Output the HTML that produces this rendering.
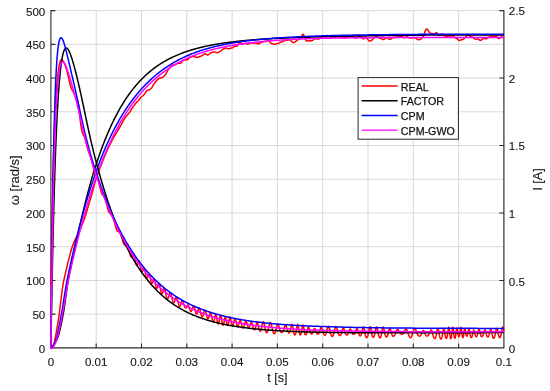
<!DOCTYPE html>
<html><head><meta charset="utf-8"><title>plot</title><style>html,body{margin:0;padding:0;background:#fff}svg{display:block}text{font-family:"Liberation Sans",sans-serif}</style></head><body>
<svg width="550" height="391" viewBox="0 0 550 391">
<rect width="550" height="391" fill="#fff"/>
<defs><clipPath id="c"><rect x="49.9" y="9.6" width="455.0" height="339.3"/></clipPath></defs>
<path d="M96.20 347.90 V10.60 M141.50 347.90 V10.60 M186.80 347.90 V10.60 M232.10 347.90 V10.60 M277.40 347.90 V10.60 M322.70 347.90 V10.60 M368.00 347.90 V10.60 M413.30 347.90 V10.60 M458.60 347.90 V10.60 M503.90 347.90 V10.60 M50.90 314.17 H503.90 M50.90 280.44 H503.90 M50.90 246.71 H503.90 M50.90 212.98 H503.90 M50.90 179.25 H503.90 M50.90 145.52 H503.90 M50.90 111.79 H503.90 M50.90 78.06 H503.90 M50.90 44.33 H503.90 M50.90 10.60 H503.90" stroke="#d8d8d8" stroke-width="1" fill="none"/>
<path d="M50.90 10.10 V348.40 M50.40 347.90 H504.40 M503.90 10.10 V348.40 M50.90 347.90 V343.40 M50.90 347.90 H55.40 M96.20 347.90 V343.40 M50.90 314.17 H55.40 M141.50 347.90 V343.40 M50.90 280.44 H55.40 M186.80 347.90 V343.40 M50.90 246.71 H55.40 M232.10 347.90 V343.40 M50.90 212.98 H55.40 M277.40 347.90 V343.40 M50.90 179.25 H55.40 M322.70 347.90 V343.40 M50.90 145.52 H55.40 M368.00 347.90 V343.40 M50.90 111.79 H55.40 M413.30 347.90 V343.40 M50.90 78.06 H55.40 M458.60 347.90 V343.40 M50.90 44.33 H55.40 M503.90 347.90 V343.40 M50.90 10.60 H55.40 M503.90 347.90 H499.40 M503.90 280.44 H499.40 M503.90 212.98 H499.40 M503.90 145.52 H499.40 M503.90 78.06 H499.40 M503.90 10.60 H499.40" stroke="#2c2c2c" stroke-width="1.1" fill="none"/>
<g fill="none" stroke-width="1.5" stroke-linejoin="round" clip-path="url(#c)">
<path d="M50.90 347.90 L51.22 348.25 L51.55 348.39 L51.87 348.34 L52.20 348.12 L52.52 347.74 L52.84 347.14 L53.17 346.36 L53.49 345.39 L53.81 344.26 L54.14 343.00 L54.46 341.65 L54.79 340.22 L55.11 338.72 L55.43 337.15 L55.76 335.50 L56.08 333.75 L56.40 331.94 L56.73 330.08 L57.05 328.18 L57.38 326.23 L57.70 324.24 L58.02 322.21 L58.35 320.12 L58.67 317.98 L59.00 315.78 L59.32 313.49 L59.64 311.04 L59.97 308.41 L60.29 305.65 L60.61 302.83 L60.94 300.06 L61.26 297.42 L61.59 294.95 L61.91 292.61 L62.23 290.18 L62.56 287.77 L62.88 285.54 L63.20 283.55 L63.53 281.79 L63.85 280.23 L64.18 278.75 L64.50 277.28 L64.82 275.84 L65.15 274.40 L65.47 272.99 L65.79 271.59 L66.12 270.20 L66.44 268.83 L66.77 267.47 L67.09 266.13 L67.41 264.80 L67.74 263.48 L68.06 262.18 L68.39 260.89 L68.71 259.61 L69.03 258.35 L69.36 257.09 L69.68 255.85 L70.00 254.62 L70.33 253.40 L70.65 252.20 L70.98 251.00 L71.30 249.82 L71.62 248.73 L71.95 247.74 L72.27 246.81 L72.59 245.92 L72.92 245.07 L73.24 244.25 L73.57 243.44 L73.89 242.65 L74.21 241.87 L74.54 241.09 L74.86 240.32 L75.19 239.55 L75.51 238.83 L75.83 238.15 L76.16 237.50 L76.48 236.87 L76.80 236.25 L77.13 235.63 L77.45 235.03 L77.78 234.42 L78.10 233.81 L78.42 233.19 L78.75 232.55 L79.07 231.90 L79.39 231.23 L79.72 230.51 L80.04 229.74 L80.37 228.95 L80.69 228.16 L81.01 227.37 L81.34 226.58 L81.66 225.79 L81.99 224.99 L82.31 224.19 L82.63 223.39 L82.96 222.57 L83.28 221.74 L83.60 220.91 L83.93 220.05 L84.25 219.18 L84.58 218.29 L84.90 217.37 L85.22 216.42 L85.55 215.44 L85.87 214.41 L86.19 213.32 L86.52 212.19 L86.84 211.05 L87.17 209.93 L87.49 208.80 L87.81 207.69 L88.14 206.58 L88.46 205.48 L88.78 204.39 L89.11 203.30 L89.43 202.22 L89.76 201.14 L90.08 200.07 L90.40 199.01 L90.73 197.95 L91.05 196.90 L91.38 195.86 L91.70 194.78 L92.02 193.64 L92.35 192.46 L92.67 191.24 L92.99 189.98 L93.32 188.71 L93.64 187.44 L93.97 186.19 L94.29 184.96 L94.61 183.78 L94.94 182.64 L95.26 181.56 L95.58 180.52 L95.91 179.54 L96.23 178.60 L96.56 177.67 L96.88 176.74 L97.20 175.82 L97.53 174.91 L97.85 174.00 L98.18 173.10 L98.50 172.20 L98.82 171.31 L99.15 170.43 L99.47 169.55 L99.79 168.67 L100.12 167.81 L100.44 166.95 L100.77 166.09 L101.09 165.24 L101.41 164.40 L101.74 163.56 L102.06 162.72 L102.38 161.90 L102.71 161.07 L103.03 160.25 L103.36 159.44 L103.68 158.64 L104.00 157.83 L104.33 157.04 L104.65 156.25 L104.98 155.46 L105.30 154.68 L105.62 153.90 L105.95 153.13 L106.27 152.37 L106.59 151.62 L106.92 150.89 L107.24 150.16 L107.57 149.44 L107.89 148.77 L108.21 148.10 L108.54 147.44 L108.86 146.78 L109.18 146.12 L109.51 145.47 L109.83 144.83 L110.16 144.19 L110.48 143.54 L110.80 142.91 L111.13 142.27 L111.45 141.64 L111.77 141.01 L112.10 140.39 L112.42 139.73 L112.75 139.10 L113.07 138.49 L113.39 137.90 L113.72 137.33 L114.04 136.78 L114.37 136.24 L114.69 135.71 L115.01 135.18 L115.34 134.64 L115.66 134.10 L115.98 133.56 L116.31 133.03 L116.63 132.49 L116.96 131.96 L117.28 131.43 L117.60 130.89 L117.93 130.35 L118.25 129.80 L118.57 129.25 L118.90 128.69 L119.22 128.13 L119.55 127.58 L119.87 127.03 L120.19 126.48 L120.52 125.94 L120.84 125.38 L121.17 124.82 L121.49 124.24 L121.81 123.63 L122.14 123.00 L122.46 122.36 L122.78 121.71 L123.11 121.07 L123.43 120.44 L123.76 119.83 L124.08 119.25 L124.40 118.71 L124.73 118.22 L125.05 117.76 L125.37 117.33 L125.70 116.93 L126.02 116.54 L126.35 116.16 L126.67 115.78 L126.99 115.40 L127.32 115.01 L127.64 114.61 L127.97 114.21 L128.29 113.81 L128.61 113.41 L128.94 113.00 L129.26 112.58 L129.58 112.15 L129.91 111.71 L130.23 111.24 L130.56 110.76 L130.88 110.26 L131.20 109.75 L131.53 109.23 L131.85 108.71 L132.17 108.21 L132.50 107.72 L132.82 107.24 L133.15 106.78 L133.47 106.33 L133.79 105.88 L134.12 105.44 L134.44 104.99 L134.76 104.54 L135.09 104.09 L135.41 103.65 L135.74 103.21 L136.06 102.81 L136.38 102.44 L136.71 102.12 L137.03 101.82 L137.36 101.55 L137.68 101.30 L138.00 101.01 L138.33 100.69 L138.65 100.32 L138.97 99.90 L139.30 99.45 L139.62 98.98 L139.95 98.51 L140.27 98.07 L140.59 97.68 L140.92 97.33 L141.24 97.02 L141.56 96.74 L141.89 96.49 L142.21 96.26 L142.54 96.03 L142.86 95.78 L143.18 95.52 L143.51 95.21 L143.83 94.87 L144.16 94.47 L144.48 94.02 L144.80 93.55 L145.13 93.06 L145.45 92.57 L145.77 92.09 L146.10 91.65 L146.42 91.27 L146.75 90.93 L147.07 90.66 L147.39 90.45 L147.72 90.29 L148.04 90.17 L148.36 90.07 L148.69 89.98 L149.01 89.87 L149.34 89.75 L149.66 89.59 L149.98 89.41 L150.31 89.17 L150.63 88.90 L150.96 88.57 L151.28 88.19 L151.60 87.77 L151.93 87.32 L152.25 86.83 L152.57 86.32 L152.90 85.78 L153.22 85.24 L153.55 84.70 L153.87 84.16 L154.19 83.63 L154.52 83.14 L154.84 82.68 L155.16 82.25 L155.49 81.87 L155.81 81.51 L156.14 81.16 L156.46 80.82 L156.78 80.48 L157.11 80.13 L157.43 79.79 L157.75 79.46 L158.08 79.14 L158.40 78.88 L158.73 78.64 L159.05 78.46 L159.37 78.31 L159.70 78.18 L160.02 78.09 L160.35 77.99 L160.67 77.91 L160.99 77.83 L161.32 77.76 L161.64 77.67 L161.96 77.58 L162.29 77.45 L162.61 77.28 L162.94 77.07 L163.26 76.81 L163.58 76.52 L163.91 76.22 L164.23 75.89 L164.55 75.56 L164.88 75.22 L165.20 74.86 L165.53 74.45 L165.85 74.00 L166.17 73.48 L166.50 72.90 L166.82 72.28 L167.15 71.64 L167.47 71.01 L167.79 70.42 L168.12 69.87 L168.44 69.37 L168.76 68.89 L169.09 68.44 L169.41 68.02 L169.74 67.62 L170.06 67.24 L170.38 66.89 L170.71 66.59 L171.03 66.31 L171.35 66.06 L171.68 65.84 L172.00 65.64 L172.33 65.46 L172.65 65.29 L172.97 65.13 L173.30 64.99 L173.62 64.89 L173.95 64.82 L174.27 64.77 L174.59 64.72 L174.92 64.67 L175.24 64.60 L175.56 64.49 L175.89 64.34 L176.21 64.16 L176.54 63.95 L176.86 63.74 L177.18 63.54 L177.51 63.37 L177.83 63.24 L178.15 63.18 L178.48 63.17 L178.80 63.21 L179.13 63.27 L179.45 63.33 L179.77 63.37 L180.10 63.35 L180.42 63.26 L180.74 63.08 L181.07 62.80 L181.39 62.45 L181.72 62.04 L182.04 61.62 L182.36 61.19 L182.69 60.82 L183.01 60.50 L183.34 60.26 L183.66 60.09 L183.98 59.98 L184.31 59.91 L184.63 59.88 L184.95 59.87 L185.28 59.87 L185.60 59.88 L185.93 59.91 L186.25 59.93 L186.57 59.95 L186.90 59.93 L187.22 59.85 L187.54 59.69 L187.87 59.47 L188.19 59.17 L188.52 58.81 L188.84 58.42 L189.16 58.04 L189.49 57.69 L189.81 57.40 L190.14 57.16 L190.46 56.99 L190.78 56.86 L191.11 56.77 L191.43 56.70 L191.75 56.65 L192.08 56.61 L192.40 56.58 L192.73 56.57 L193.05 56.56 L193.37 56.57 L193.70 56.59 L194.02 56.62 L194.34 56.68 L194.67 56.76 L194.99 56.87 L195.32 57.00 L195.64 57.14 L195.96 57.26 L196.29 57.35 L196.61 57.40 L196.94 57.40 L197.26 57.36 L197.58 57.27 L197.91 57.16 L198.23 57.05 L198.55 56.94 L198.88 56.84 L199.20 56.75 L199.53 56.66 L199.85 56.56 L200.17 56.46 L200.50 56.33 L200.82 56.19 L201.14 56.03 L201.47 55.86 L201.79 55.67 L202.12 55.48 L202.44 55.27 L202.76 55.05 L203.09 54.83 L203.41 54.59 L203.73 54.37 L204.06 54.17 L204.38 54.00 L204.71 53.90 L205.03 53.86 L205.35 53.89 L205.68 54.01 L206.00 54.18 L206.33 54.38 L206.65 54.59 L206.97 54.77 L207.30 54.90 L207.62 54.94 L207.94 54.89 L208.27 54.75 L208.59 54.54 L208.92 54.28 L209.24 54.00 L209.56 53.72 L209.89 53.46 L210.21 53.23 L210.53 53.04 L210.86 52.87 L211.18 52.72 L211.51 52.57 L211.83 52.42 L212.15 52.27 L212.48 52.14 L212.80 52.03 L213.13 51.95 L213.45 51.91 L213.77 51.91 L214.10 51.95 L214.42 52.00 L214.74 52.07 L215.07 52.16 L215.39 52.25 L215.72 52.35 L216.04 52.45 L216.36 52.55 L216.69 52.61 L217.01 52.63 L217.33 52.60 L217.66 52.51 L217.98 52.38 L218.31 52.23 L218.63 52.07 L218.95 51.93 L219.28 51.79 L219.60 51.67 L219.93 51.54 L220.25 51.39 L220.57 51.21 L220.90 50.99 L221.22 50.74 L221.54 50.47 L221.87 50.18 L222.19 49.90 L222.52 49.64 L222.84 49.41 L223.16 49.20 L223.49 49.01 L223.81 48.83 L224.13 48.65 L224.46 48.48 L224.78 48.33 L225.11 48.21 L225.43 48.12 L225.75 48.09 L226.08 48.11 L226.40 48.16 L226.72 48.25 L227.05 48.35 L227.37 48.46 L227.70 48.57 L228.02 48.67 L228.34 48.74 L228.67 48.78 L228.99 48.76 L229.32 48.70 L229.64 48.59 L229.96 48.44 L230.29 48.29 L230.61 48.16 L230.93 48.07 L231.26 48.02 L231.58 47.99 L231.91 47.96 L232.23 47.89 L232.55 47.77 L232.88 47.58 L233.20 47.34 L233.52 47.05 L233.85 46.76 L234.17 46.49 L234.50 46.29 L234.82 46.16 L235.14 46.12 L235.47 46.13 L235.79 46.19 L236.12 46.25 L236.44 46.27 L236.76 46.20 L237.09 46.02 L237.41 45.70 L237.73 45.26 L238.06 44.73 L238.38 44.15 L238.71 43.60 L239.03 43.13 L239.35 42.81 L239.68 42.67 L240.00 42.71 L240.32 42.91 L240.65 43.20 L240.97 43.54 L241.30 43.84 L241.62 44.06 L241.94 44.19 L242.27 44.21 L242.59 44.15 L242.92 44.04 L243.24 43.92 L243.56 43.78 L243.89 43.65 L244.21 43.55 L244.53 43.46 L244.86 43.39 L245.18 43.36 L245.51 43.36 L245.83 43.42 L246.15 43.53 L246.48 43.67 L246.80 43.83 L247.12 43.99 L247.45 44.11 L247.77 44.16 L248.10 44.14 L248.42 44.04 L248.74 43.87 L249.07 43.65 L249.39 43.42 L249.71 43.20 L250.04 43.02 L250.36 42.90 L250.69 42.85 L251.01 42.86 L251.33 42.91 L251.66 42.99 L251.98 43.07 L252.31 43.12 L252.63 43.15 L252.95 43.16 L253.28 43.15 L253.60 43.11 L253.92 43.07 L254.25 43.04 L254.57 43.01 L254.90 42.99 L255.22 43.01 L255.54 43.05 L255.87 43.12 L256.19 43.21 L256.51 43.31 L256.84 43.43 L257.16 43.54 L257.49 43.66 L257.81 43.75 L258.13 43.81 L258.46 43.83 L258.78 43.81 L259.11 43.72 L259.43 43.59 L259.75 43.41 L260.08 43.18 L260.40 42.94 L260.72 42.69 L261.05 42.47 L261.37 42.27 L261.70 42.10 L262.02 41.95 L262.34 41.83 L262.67 41.74 L262.99 41.68 L263.31 41.64 L263.64 41.63 L263.96 41.63 L264.29 41.63 L264.61 41.60 L264.93 41.54 L265.26 41.43 L265.58 41.27 L265.91 41.06 L266.23 40.82 L266.55 40.57 L266.88 40.32 L267.20 40.12 L267.52 39.99 L267.85 39.96 L268.17 40.04 L268.50 40.23 L268.82 40.52 L269.14 40.91 L269.47 41.36 L269.79 41.85 L270.11 42.33 L270.44 42.76 L270.76 43.13 L271.09 43.40 L271.41 43.58 L271.73 43.69 L272.06 43.76 L272.38 43.81 L272.70 43.88 L273.03 43.95 L273.35 44.06 L273.68 44.18 L274.00 44.29 L274.32 44.37 L274.65 44.40 L274.97 44.36 L275.30 44.26 L275.62 44.12 L275.94 43.97 L276.27 43.82 L276.59 43.70 L276.91 43.63 L277.24 43.59 L277.56 43.58 L277.89 43.56 L278.21 43.50 L278.53 43.39 L278.86 43.22 L279.18 43.00 L279.50 42.75 L279.83 42.50 L280.15 42.29 L280.48 42.13 L280.80 42.03 L281.12 41.97 L281.45 41.93 L281.77 41.89 L282.10 41.81 L282.42 41.68 L282.74 41.50 L283.07 41.28 L283.39 41.05 L283.71 40.84 L284.04 40.67 L284.36 40.57 L284.69 40.53 L285.01 40.52 L285.33 40.54 L285.66 40.56 L285.98 40.57 L286.30 40.55 L286.63 40.50 L286.95 40.43 L287.28 40.34 L287.60 40.25 L287.92 40.15 L288.25 40.05 L288.57 39.95 L288.89 39.87 L289.22 39.82 L289.54 39.83 L289.87 39.91 L290.19 40.06 L290.51 40.30 L290.84 40.59 L291.16 40.93 L291.49 41.29 L291.81 41.65 L292.13 41.97 L292.46 42.24 L292.78 42.43 L293.10 42.55 L293.43 42.61 L293.75 42.59 L294.08 42.52 L294.40 42.39 L294.72 42.21 L295.05 41.99 L295.37 41.74 L295.69 41.46 L296.02 41.19 L296.34 40.92 L296.67 40.67 L296.99 40.43 L297.31 40.20 L297.64 39.98 L297.96 39.76 L298.29 39.55 L298.61 39.36 L298.93 39.19 L299.26 39.04 L299.58 38.89 L299.90 38.72 L300.23 38.50 L300.55 38.19 L300.88 37.77 L301.20 37.20 L301.52 36.52 L301.85 35.80 L302.17 35.11 L302.49 34.57 L302.82 34.26 L303.14 34.26 L303.47 34.56 L303.79 35.16 L304.11 35.97 L304.44 36.91 L304.76 37.87 L305.09 38.77 L305.41 39.54 L305.73 40.15 L306.06 40.59 L306.38 40.86 L306.70 41.00 L307.03 41.04 L307.35 41.03 L307.68 40.99 L308.00 40.93 L308.32 40.89 L308.65 40.86 L308.97 40.83 L309.29 40.82 L309.62 40.81 L309.94 40.80 L310.27 40.80 L310.59 40.80 L310.91 40.81 L311.24 40.80 L311.56 40.76 L311.88 40.68 L312.21 40.56 L312.53 40.38 L312.86 40.14 L313.18 39.89 L313.50 39.62 L313.83 39.36 L314.15 39.12 L314.48 38.94 L314.80 38.80 L315.12 38.73 L315.45 38.69 L315.77 38.70 L316.09 38.74 L316.42 38.80 L316.74 38.88 L317.07 38.96 L317.39 39.04 L317.71 39.10 L318.04 39.12 L318.36 39.09 L318.68 38.99 L319.01 38.82 L319.33 38.60 L319.66 38.32 L319.98 38.06 L320.30 37.80 L320.63 37.59 L320.95 37.40 L321.28 37.24 L321.60 37.10 L321.92 36.95 L322.25 36.80 L322.57 36.65 L322.89 36.51 L323.22 36.39 L323.54 36.30 L323.87 36.24 L324.19 36.21 L324.51 36.18 L324.84 36.15 L325.16 36.12 L325.48 36.06 L325.81 35.97 L326.13 35.85 L326.46 35.71 L326.78 35.58 L327.10 35.47 L327.43 35.42 L327.75 35.44 L328.08 35.54 L328.40 35.74 L328.72 35.99 L329.05 36.30 L329.37 36.62 L329.69 36.92 L330.02 37.18 L330.34 37.38 L330.67 37.48 L330.99 37.49 L331.31 37.41 L331.64 37.25 L331.96 37.03 L332.28 36.81 L332.61 36.65 L332.93 36.56 L333.26 36.57 L333.58 36.67 L333.90 36.82 L334.23 36.97 L334.55 37.08 L334.87 37.11 L335.20 37.06 L335.52 36.95 L335.85 36.81 L336.17 36.69 L336.49 36.61 L336.82 36.58 L337.14 36.60 L337.47 36.67 L337.79 36.74 L338.11 36.82 L338.44 36.90 L338.76 36.97 L339.08 37.06 L339.41 37.13 L339.73 37.20 L340.06 37.25 L340.38 37.28 L340.70 37.30 L341.03 37.30 L341.35 37.30 L341.67 37.29 L342.00 37.28 L342.32 37.30 L342.65 37.33 L342.97 37.38 L343.29 37.42 L343.62 37.47 L343.94 37.53 L344.27 37.58 L344.59 37.64 L344.91 37.70 L345.24 37.76 L345.56 37.81 L345.88 37.85 L346.21 37.85 L346.53 37.82 L346.86 37.73 L347.18 37.61 L347.50 37.45 L347.83 37.27 L348.15 37.09 L348.47 36.93 L348.80 36.80 L349.12 36.73 L349.45 36.69 L349.77 36.68 L350.09 36.69 L350.42 36.71 L350.74 36.72 L351.07 36.72 L351.39 36.70 L351.71 36.67 L352.04 36.65 L352.36 36.65 L352.68 36.69 L353.01 36.79 L353.33 36.94 L353.66 37.14 L353.98 37.36 L354.30 37.57 L354.63 37.76 L354.95 37.90 L355.27 38.01 L355.60 38.07 L355.92 38.08 L356.25 38.04 L356.57 37.93 L356.89 37.75 L357.22 37.50 L357.54 37.18 L357.86 36.81 L358.19 36.41 L358.51 36.03 L358.84 35.71 L359.16 35.47 L359.48 35.35 L359.81 35.34 L360.13 35.47 L360.46 35.73 L360.78 36.09 L361.10 36.53 L361.43 37.02 L361.75 37.52 L362.07 37.99 L362.40 38.40 L362.72 38.70 L363.05 38.86 L363.37 38.88 L363.69 38.77 L364.02 38.56 L364.34 38.27 L364.66 37.97 L364.99 37.69 L365.31 37.49 L365.64 37.40 L365.96 37.42 L366.28 37.58 L366.61 37.85 L366.93 38.21 L367.26 38.64 L367.58 39.10 L367.90 39.57 L368.23 39.99 L368.55 40.36 L368.87 40.64 L369.20 40.85 L369.52 40.97 L369.85 41.02 L370.17 41.00 L370.49 40.92 L370.82 40.80 L371.14 40.63 L371.46 40.42 L371.79 40.16 L372.11 39.86 L372.44 39.53 L372.76 39.18 L373.08 38.83 L373.41 38.50 L373.73 38.18 L374.06 37.88 L374.38 37.62 L374.70 37.37 L375.03 37.15 L375.35 36.95 L375.67 36.80 L376.00 36.68 L376.32 36.63 L376.65 36.63 L376.97 36.70 L377.29 36.84 L377.62 37.02 L377.94 37.25 L378.26 37.48 L378.59 37.70 L378.91 37.89 L379.24 38.03 L379.56 38.13 L379.88 38.20 L380.21 38.26 L380.53 38.31 L380.85 38.39 L381.18 38.52 L381.50 38.68 L381.83 38.87 L382.15 39.08 L382.47 39.28 L382.80 39.43 L383.12 39.52 L383.45 39.54 L383.77 39.46 L384.09 39.29 L384.42 39.05 L384.74 38.78 L385.06 38.49 L385.39 38.21 L385.71 38.00 L386.04 37.85 L386.36 37.78 L386.68 37.80 L387.01 37.89 L387.33 38.04 L387.65 38.23 L387.98 38.44 L388.30 38.65 L388.63 38.85 L388.95 39.03 L389.27 39.17 L389.60 39.28 L389.92 39.32 L390.25 39.30 L390.57 39.20 L390.89 39.02 L391.22 38.80 L391.54 38.55 L391.86 38.29 L392.19 38.06 L392.51 37.86 L392.84 37.70 L393.16 37.60 L393.48 37.52 L393.81 37.47 L394.13 37.44 L394.45 37.43 L394.78 37.41 L395.10 37.38 L395.43 37.33 L395.75 37.26 L396.07 37.19 L396.40 37.11 L396.72 37.04 L397.05 36.99 L397.37 36.97 L397.69 36.98 L398.02 37.01 L398.34 37.03 L398.66 37.05 L398.99 37.01 L399.31 36.93 L399.64 36.81 L399.96 36.66 L400.28 36.50 L400.61 36.34 L400.93 36.23 L401.25 36.17 L401.58 36.17 L401.90 36.23 L402.23 36.36 L402.55 36.55 L402.87 36.79 L403.20 37.05 L403.52 37.30 L403.84 37.51 L404.17 37.65 L404.49 37.69 L404.82 37.63 L405.14 37.47 L405.46 37.28 L405.79 37.08 L406.11 36.91 L406.44 36.81 L406.76 36.79 L407.08 36.84 L407.41 36.94 L407.73 37.10 L408.05 37.27 L408.38 37.43 L408.70 37.60 L409.03 37.74 L409.35 37.86 L409.67 37.95 L410.00 38.01 L410.32 38.02 L410.64 38.01 L410.97 37.95 L411.29 37.89 L411.62 37.82 L411.94 37.77 L412.26 37.74 L412.59 37.73 L412.91 37.74 L413.24 37.76 L413.56 37.79 L413.88 37.81 L414.21 37.84 L414.53 37.88 L414.85 37.92 L415.18 38.01 L415.50 38.13 L415.83 38.28 L416.15 38.48 L416.47 38.69 L416.80 38.93 L417.12 39.14 L417.44 39.35 L417.77 39.51 L418.09 39.63 L418.42 39.70 L418.74 39.71 L419.06 39.69 L419.39 39.64 L419.71 39.55 L420.04 39.42 L420.36 39.27 L420.68 39.09 L421.01 38.88 L421.33 38.62 L421.65 38.33 L421.98 38.00 L422.30 37.62 L422.63 37.18 L422.95 36.69 L423.27 36.12 L423.60 35.45 L423.92 34.68 L424.24 33.83 L424.57 32.91 L424.89 31.99 L425.22 31.12 L425.54 30.34 L425.86 29.72 L426.19 29.29 L426.51 29.07 L426.83 29.05 L427.16 29.20 L427.48 29.50 L427.81 29.93 L428.13 30.42 L428.45 30.94 L428.78 31.47 L429.10 31.95 L429.43 32.37 L429.75 32.72 L430.07 33.00 L430.40 33.22 L430.72 33.38 L431.04 33.48 L431.37 33.55 L431.69 33.59 L432.02 33.63 L432.34 33.65 L432.66 33.68 L432.99 33.72 L433.31 33.77 L433.63 33.83 L433.96 33.86 L434.28 33.85 L434.61 33.77 L434.93 33.62 L435.25 33.42 L435.58 33.19 L435.90 32.97 L436.23 32.84 L436.55 32.83 L436.87 32.94 L437.20 33.19 L437.52 33.53 L437.84 33.93 L438.17 34.33 L438.49 34.67 L438.82 34.95 L439.14 35.11 L439.46 35.17 L439.79 35.12 L440.11 34.99 L440.43 34.79 L440.76 34.57 L441.08 34.35 L441.41 34.16 L441.73 34.05 L442.05 34.03 L442.38 34.10 L442.70 34.27 L443.03 34.52 L443.35 34.82 L443.67 35.17 L444.00 35.50 L444.32 35.80 L444.64 36.05 L444.97 36.24 L445.29 36.35 L445.62 36.43 L445.94 36.45 L446.26 36.45 L446.59 36.43 L446.91 36.38 L447.23 36.31 L447.56 36.22 L447.88 36.12 L448.21 36.02 L448.53 35.96 L448.85 35.93 L449.18 35.94 L449.50 35.99 L449.82 36.04 L450.15 36.08 L450.47 36.10 L450.80 36.08 L451.12 36.02 L451.44 35.93 L451.77 35.84 L452.09 35.76 L452.42 35.73 L452.74 35.76 L453.06 35.85 L453.39 36.02 L453.71 36.26 L454.03 36.56 L454.36 36.88 L454.68 37.22 L455.01 37.53 L455.33 37.80 L455.65 38.02 L455.98 38.22 L456.30 38.38 L456.62 38.54 L456.95 38.72 L457.27 38.95 L457.60 39.21 L457.92 39.51 L458.24 39.81 L458.57 40.08 L458.89 40.29 L459.22 40.42 L459.54 40.45 L459.86 40.38 L460.19 40.27 L460.51 40.11 L460.83 39.97 L461.16 39.86 L461.48 39.78 L461.81 39.72 L462.13 39.69 L462.45 39.63 L462.78 39.54 L463.10 39.39 L463.42 39.19 L463.75 38.95 L464.07 38.66 L464.40 38.34 L464.72 38.00 L465.04 37.64 L465.37 37.26 L465.69 36.87 L466.02 36.47 L466.34 36.10 L466.66 35.75 L466.99 35.46 L467.31 35.23 L467.63 35.11 L467.96 35.06 L468.28 35.11 L468.61 35.24 L468.93 35.42 L469.25 35.63 L469.58 35.85 L469.90 36.06 L470.22 36.26 L470.55 36.42 L470.87 36.56 L471.20 36.67 L471.52 36.76 L471.84 36.84 L472.17 36.94 L472.49 37.07 L472.81 37.24 L473.14 37.46 L473.46 37.73 L473.79 38.04 L474.11 38.36 L474.43 38.65 L474.76 38.91 L475.08 39.08 L475.41 39.17 L475.73 39.18 L476.05 39.13 L476.38 39.06 L476.70 38.98 L477.02 38.93 L477.35 38.92 L477.67 38.96 L478.00 39.06 L478.32 39.21 L478.64 39.40 L478.97 39.63 L479.29 39.86 L479.61 40.08 L479.94 40.26 L480.26 40.36 L480.59 40.38 L480.91 40.30 L481.23 40.13 L481.56 39.91 L481.88 39.64 L482.21 39.35 L482.53 39.07 L482.85 38.82 L483.18 38.62 L483.50 38.50 L483.82 38.45 L484.15 38.47 L484.47 38.54 L484.80 38.65 L485.12 38.76 L485.44 38.83 L485.77 38.86 L486.09 38.83 L486.41 38.76 L486.74 38.62 L487.06 38.44 L487.39 38.22 L487.71 37.98 L488.03 37.73 L488.36 37.50 L488.68 37.29 L489.01 37.13 L489.33 37.01 L489.65 36.93 L489.98 36.87 L490.30 36.81 L490.62 36.75 L490.95 36.68 L491.27 36.63 L491.60 36.58 L491.92 36.56 L492.24 36.56 L492.57 36.58 L492.89 36.61 L493.21 36.62 L493.54 36.62 L493.86 36.60 L494.19 36.55 L494.51 36.49 L494.83 36.41 L495.16 36.36 L495.48 36.33 L495.80 36.35 L496.13 36.46 L496.45 36.64 L496.78 36.90 L497.10 37.22 L497.42 37.57 L497.75 37.92 L498.07 38.21 L498.40 38.42 L498.72 38.54 L499.04 38.53 L499.37 38.41 L499.69 38.23 L500.01 37.97 L500.34 37.68 L500.66 37.41 L500.99 37.19 L501.31 37.04 L501.63 36.97 L501.96 37.00 L502.28 37.10 L502.60 37.26 L502.93 37.45 L503.25 37.67 L503.58 37.88 L503.90 38.09" stroke="#ff0000"/>
<path d="M50.90 347.91 L51.01 347.79 L51.13 347.68 L51.24 347.56 L51.35 347.44 L51.47 347.33 L51.58 347.21 L51.69 347.09 L51.81 346.98 L51.92 346.86 L52.03 346.74 L52.15 346.62 L52.26 346.50 L52.37 346.37 L52.49 346.25 L52.60 346.13 L52.71 346.00 L52.83 345.88 L52.94 345.75 L53.05 345.62 L53.16 345.49 L53.28 345.36 L53.39 345.23 L53.50 345.09 L53.62 344.95 L53.73 344.82 L53.84 344.68 L53.96 344.53 L54.07 344.39 L54.18 344.24 L54.30 344.09 L54.41 343.93 L54.52 343.77 L54.64 343.61 L54.75 343.44 L54.86 343.27 L54.98 343.09 L55.09 342.91 L55.20 342.71 L55.32 342.51 L55.43 342.30 L55.54 342.09 L55.66 341.88 L55.77 341.67 L55.88 341.45 L56.00 341.24 L56.11 341.02 L56.22 340.80 L56.34 340.58 L56.45 340.35 L56.56 340.13 L56.68 339.90 L56.79 339.67 L56.90 339.43 L57.02 339.19 L57.13 338.95 L57.24 338.70 L57.36 338.45 L57.47 338.19 L57.58 337.93 L57.70 337.66 L57.81 337.39 L57.92 337.11 L58.03 336.82 L58.15 336.52 L58.26 336.20 L58.37 335.88 L58.49 335.54 L58.60 335.18 L58.71 334.80 L58.83 334.39 L58.94 333.96 L59.05 333.52 L59.17 333.08 L59.28 332.64 L59.39 332.19 L59.51 331.73 L59.62 331.27 L59.73 330.81 L59.85 330.33 L59.96 329.86 L60.07 329.37 L60.19 328.89 L60.30 328.39 L60.41 327.90 L60.53 327.39 L60.64 326.88 L60.75 326.37 L60.87 325.85 L60.98 325.32 L61.09 324.80 L61.21 324.26 L61.32 323.72 L61.43 323.18 L61.55 322.63 L61.66 322.07 L61.77 321.51 L61.89 320.95 L62.00 320.38 L62.11 319.81 L62.22 319.24 L62.34 318.66 L62.45 318.08 L62.56 317.49 L62.68 316.90 L62.79 316.31 L62.90 315.71 L63.02 315.12 L63.13 314.52 L63.24 313.92 L63.36 313.30 L63.47 312.67 L63.58 312.03 L63.70 311.37 L63.81 310.69 L63.92 310.00 L64.04 309.29 L64.15 308.56 L64.26 307.82 L64.38 307.06 L64.49 306.29 L64.60 305.51 L64.72 304.71 L64.83 303.90 L64.94 303.09 L65.06 302.26 L65.17 301.43 L65.28 300.59 L65.40 299.76 L65.51 298.92 L65.62 298.09 L65.74 297.27 L65.85 296.45 L65.96 295.64 L66.08 294.84 L66.19 294.05 L66.30 293.26 L66.42 292.45 L66.53 291.61 L66.64 290.75 L66.75 289.88 L66.87 289.01 L66.98 288.14 L67.09 287.28 L67.21 286.45 L67.32 285.63 L67.43 284.85 L67.55 284.09 L67.66 283.36 L67.77 282.67 L67.89 282.00 L68.00 281.37 L68.11 280.76 L68.23 280.18 L68.34 279.60 L68.45 279.02 L68.57 278.44 L68.68 277.87 L68.79 277.29 L68.91 276.72 L69.02 276.15 L69.13 275.59 L69.25 275.02 L69.36 274.45 L69.47 273.89 L69.59 273.33 L69.70 272.77 L69.81 272.21 L69.93 271.65 L70.04 271.09 L70.15 270.54 L70.27 269.98 L70.38 269.43 L70.49 268.88 L70.61 268.33 L70.72 267.78 L70.83 267.23 L70.95 266.68 L71.06 266.14 L71.17 265.59 L71.28 265.04 L71.40 264.50 L71.51 263.96 L71.62 263.41 L71.74 262.87 L71.85 262.33 L71.96 261.79 L72.08 261.25 L72.19 260.71 L72.30 260.18 L72.42 259.64 L72.53 259.10 L72.64 258.57 L72.76 258.03 L72.87 257.50 L72.98 256.96 L73.10 256.43 L73.21 255.89 L73.32 255.36 L73.44 254.83 L73.55 254.30 L73.66 253.76 L73.78 253.23 L73.89 252.70 L74.00 252.17 L74.12 251.64 L74.23 251.11 L74.34 250.58 L74.46 250.05 L74.57 249.52 L74.68 248.99 L74.80 248.46 L74.91 247.93 L75.02 247.40 L75.14 246.87 L75.25 246.34 L75.36 245.81 L75.48 245.29 L75.59 244.76 L75.70 244.24 L75.81 243.71 L75.93 243.19 L76.04 242.66 L76.15 242.14 L76.27 241.62 L76.38 241.10 L76.49 240.58 L76.61 240.06 L76.72 239.54 L76.83 239.02 L76.95 238.51 L77.06 237.99 L77.17 237.48 L77.29 236.96 L77.40 236.45 L77.51 235.94 L77.63 235.43 L77.74 234.91 L77.85 234.40 L77.97 233.90 L78.08 233.39 L78.19 232.88 L78.31 232.37 L78.42 231.87 L78.53 231.36 L78.65 230.86 L78.76 230.35 L78.87 229.85 L78.99 229.35 L79.10 228.85 L79.21 228.35 L79.33 227.85 L79.44 227.35 L79.55 226.86 L79.67 226.36 L79.78 225.86 L79.89 225.37 L80.01 224.87 L80.12 224.38 L80.23 223.89 L80.34 223.40 L80.46 222.91 L80.57 222.42 L80.68 221.93 L80.80 221.44 L80.91 220.95 L81.02 220.47 L81.14 219.98 L81.25 219.50 L81.36 219.01 L81.48 218.53 L81.59 218.05 L81.70 217.57 L81.82 217.08 L81.93 216.60 L82.04 216.13 L82.16 215.65 L82.27 215.17 L82.38 214.69 L82.50 214.22 L82.61 213.74 L82.72 213.27 L82.84 212.80 L82.95 212.33 L83.06 211.85 L83.18 211.38 L83.29 210.91 L83.40 210.45 L83.52 209.98 L83.63 209.51 L83.74 209.05 L83.86 208.58 L83.97 208.12 L84.08 207.65 L84.20 207.19 L84.31 206.73 L84.42 206.27 L84.54 205.81 L84.65 205.35 L84.76 204.89 L84.88 204.44 L84.99 203.98 L85.10 203.53 L85.21 203.07 L85.33 202.62 L85.44 202.17 L85.55 201.72 L85.67 201.27 L85.78 200.82 L85.89 200.37 L86.01 199.92 L86.12 199.48 L86.23 199.03 L86.35 198.59 L86.46 198.14 L86.57 197.70 L86.69 197.26 L86.80 196.82 L86.91 196.38 L87.03 195.94 L87.14 195.50 L87.25 195.06 L87.37 194.63 L87.48 194.19 L87.59 193.76 L87.71 193.33 L87.82 192.89 L87.93 192.46 L88.05 192.03 L88.16 191.60 L88.27 191.18 L88.39 190.75 L88.50 190.32 L88.61 189.90 L88.73 189.47 L88.84 189.05 L88.95 188.63 L89.07 188.21 L89.18 187.79 L89.29 187.37 L89.41 186.95 L89.52 186.53 L89.63 186.12 L89.74 185.70 L89.86 185.29 L89.97 184.87 L90.08 184.46 L90.20 184.05 L90.31 183.64 L90.42 183.23 L90.54 182.82 L90.65 182.41 L90.76 182.01 L90.88 181.60 L90.99 181.20 L91.10 180.79 L91.22 180.39 L91.33 179.99 L91.44 179.59 L91.56 179.19 L91.67 178.81 L91.78 178.43 L91.90 178.05 L92.01 177.68 L92.12 177.30 L92.24 176.92 L92.35 176.55 L92.46 176.17 L92.58 175.80 L92.69 175.43 L92.80 175.05 L92.92 174.68 L93.03 174.31 L93.14 173.94 L93.26 173.57 L93.37 173.21 L93.48 172.84 L93.60 172.47 L93.71 172.11 L93.82 171.75 L93.94 171.38 L94.05 171.02 L94.16 170.66 L94.27 170.30 L94.39 169.94 L94.50 169.58 L94.61 169.22 L94.73 168.87 L94.84 168.51 L94.95 168.15 L95.07 167.80 L95.18 167.45 L95.29 167.09 L95.41 166.74 L95.52 166.39 L95.63 166.04 L95.75 165.69 L95.86 165.34 L95.97 165.00 L96.09 164.65 L96.20 164.30 L96.78 162.54 L97.37 160.79 L97.95 159.07 L98.53 157.37 L99.12 155.69 L99.70 154.03 L100.28 152.40 L100.87 150.78 L101.45 149.19 L102.03 147.62 L102.62 146.07 L103.20 144.54 L103.78 143.03 L104.37 141.54 L104.95 140.07 L105.53 138.62 L106.12 137.19 L106.70 135.78 L107.28 134.39 L107.87 133.02 L108.45 131.67 L109.03 130.33 L109.62 129.02 L110.20 127.72 L110.78 126.44 L111.36 125.18 L111.95 123.93 L112.53 122.71 L113.11 121.50 L113.70 120.30 L114.28 119.13 L114.86 117.97 L115.45 116.82 L116.03 115.69 L116.61 114.58 L117.20 113.49 L117.78 112.40 L118.36 111.34 L118.95 110.29 L119.53 109.25 L120.11 108.23 L120.70 107.23 L121.28 106.23 L121.86 105.26 L122.45 104.29 L123.03 103.34 L123.61 102.40 L124.20 101.48 L124.78 100.57 L125.36 99.67 L125.95 98.79 L126.53 97.92 L127.11 97.06 L127.70 96.21 L128.28 95.38 L128.86 94.55 L129.45 93.74 L130.03 92.94 L130.61 92.16 L131.20 91.38 L131.78 90.61 L132.36 89.86 L132.95 89.12 L133.53 88.38 L134.11 87.66 L134.70 86.95 L135.28 86.25 L135.86 85.56 L136.45 84.87 L137.03 84.20 L137.61 83.54 L138.19 82.89 L138.78 82.24 L139.36 81.61 L139.94 80.99 L140.53 80.37 L141.11 79.76 L141.69 79.17 L142.28 78.58 L142.86 77.99 L143.44 77.42 L144.03 76.86 L144.61 76.30 L145.19 75.75 L145.78 75.21 L146.36 74.68 L146.94 74.15 L147.53 73.64 L148.11 73.13 L148.69 72.62 L149.28 72.13 L149.86 71.64 L150.44 71.16 L151.03 70.68 L151.61 70.22 L152.19 69.76 L152.78 69.30 L153.36 68.85 L153.94 68.41 L154.53 67.98 L155.11 67.55 L155.69 67.13 L156.28 66.71 L156.86 66.30 L157.44 65.89 L158.03 65.49 L158.61 65.10 L159.19 64.71 L159.78 64.33 L160.36 63.95 L160.94 63.58 L161.53 63.22 L162.11 62.86 L162.69 62.50 L163.28 62.15 L163.86 61.80 L164.44 61.46 L165.02 61.13 L165.61 60.79 L166.19 60.47 L166.77 60.15 L167.36 59.83 L167.94 59.52 L168.52 59.21 L169.11 58.90 L169.69 58.60 L170.27 58.31 L170.86 58.02 L171.44 57.73 L172.02 57.45 L172.61 57.17 L173.19 56.89 L173.77 56.62 L174.36 56.35 L174.94 56.09 L175.52 55.83 L176.11 55.57 L176.69 55.32 L177.27 55.07 L177.86 54.82 L178.44 54.58 L179.02 54.34 L179.61 54.11 L180.19 53.87 L180.77 53.64 L181.36 53.42 L181.94 53.19 L182.52 52.97 L183.11 52.76 L183.69 52.54 L184.27 52.33 L184.86 52.13 L185.44 51.92 L186.02 51.72 L186.61 51.52 L187.19 51.32 L187.77 51.13 L188.36 50.94 L188.94 50.75 L189.52 50.56 L190.11 50.38 L190.69 50.20 L191.27 50.02 L191.85 49.84 L192.44 49.67 L193.02 49.50 L193.60 49.33 L194.19 49.16 L194.77 49.00 L195.35 48.83 L195.94 48.67 L196.52 48.51 L197.10 48.36 L197.69 48.21 L198.27 48.05 L198.85 47.90 L199.44 47.76 L200.02 47.61 L200.60 47.47 L201.19 47.32 L201.77 47.18 L202.35 47.05 L202.94 46.91 L203.52 46.78 L204.10 46.64 L204.69 46.51 L205.27 46.38 L205.85 46.26 L206.44 46.13 L207.02 46.01 L207.60 45.88 L208.19 45.76 L208.77 45.64 L209.35 45.53 L209.94 45.41 L210.52 45.29 L211.10 45.18 L211.69 45.07 L212.27 44.96 L212.85 44.85 L213.44 44.74 L214.02 44.64 L214.60 44.53 L215.19 44.43 L215.77 44.33 L216.35 44.23 L216.94 44.13 L217.52 44.03 L218.10 43.93 L218.68 43.84 L219.27 43.74 L219.85 43.65 L220.43 43.56 L221.02 43.46 L221.60 43.37 L222.18 43.29 L222.77 43.20 L223.35 43.11 L223.93 43.03 L224.52 42.94 L225.10 42.86 L225.68 42.78 L226.27 42.70 L226.85 42.62 L227.43 42.54 L228.02 42.46 L228.60 42.38 L229.18 42.31 L229.77 42.23 L230.35 42.16 L230.93 42.08 L231.52 42.01 L232.10 41.94 L232.68 41.87 L233.27 41.80 L233.85 41.73 L234.43 41.66 L235.02 41.59 L235.60 41.53 L236.18 41.46 L236.77 41.40 L237.35 41.33 L237.93 41.27 L238.52 41.21 L239.10 41.15 L239.68 41.08 L240.27 41.02 L240.85 40.96 L241.43 40.91 L242.02 40.85 L242.60 40.79 L243.18 40.73 L243.77 40.68 L244.35 40.62 L244.93 40.57 L245.52 40.51 L246.10 40.46 L246.68 40.41 L247.26 40.35 L247.85 40.30 L248.43 40.25 L249.01 40.20 L249.60 40.15 L250.18 40.10 L250.76 40.05 L251.35 40.01 L251.93 39.96 L252.51 39.91 L253.10 39.87 L253.68 39.82 L254.26 39.78 L254.85 39.73 L255.43 39.69 L256.01 39.64 L256.60 39.60 L257.18 39.56 L257.76 39.52 L258.35 39.47 L258.93 39.43 L259.51 39.39 L260.10 39.35 L260.68 39.31 L261.26 39.27 L261.85 39.24 L262.43 39.20 L263.01 39.16 L263.60 39.12 L264.18 39.09 L264.76 39.05 L265.35 39.01 L265.93 38.98 L266.51 38.94 L267.10 38.91 L267.68 38.87 L268.26 38.84 L268.85 38.81 L269.43 38.77 L270.01 38.74 L270.60 38.71 L271.18 38.68 L271.76 38.64 L272.35 38.61 L272.93 38.58 L273.51 38.55 L274.09 38.52 L274.68 38.49 L275.26 38.46 L275.84 38.43 L276.43 38.40 L277.01 38.38 L277.59 38.35 L278.18 38.32 L278.76 38.29 L279.34 38.27 L279.93 38.24 L280.51 38.21 L281.09 38.19 L281.68 38.16 L282.26 38.14 L282.84 38.11 L283.43 38.09 L284.01 38.06 L284.59 38.04 L285.18 38.01 L285.76 37.99 L286.34 37.97 L286.93 37.94 L287.51 37.92 L288.09 37.90 L288.68 37.88 L289.26 37.85 L289.84 37.83 L290.43 37.81 L291.01 37.79 L291.59 37.77 L292.18 37.75 L292.76 37.73 L293.34 37.71 L293.93 37.69 L294.51 37.67 L295.09 37.65 L295.68 37.63 L296.26 37.61 L296.84 37.59 L297.43 37.57 L298.01 37.56 L298.59 37.54 L299.18 37.52 L299.76 37.50 L300.34 37.48 L300.92 37.46 L301.51 37.44 L302.09 37.42 L302.67 37.40 L303.26 37.37 L303.84 37.35 L304.42 37.33 L305.01 37.31 L305.59 37.29 L306.17 37.27 L306.76 37.25 L307.34 37.23 L307.92 37.21 L308.51 37.19 L309.09 37.17 L309.67 37.15 L310.26 37.13 L310.84 37.11 L311.42 37.09 L312.01 37.07 L312.59 37.06 L313.17 37.04 L313.76 37.02 L314.34 37.00 L314.92 36.98 L315.51 36.97 L316.09 36.95 L316.67 36.93 L317.26 36.91 L317.84 36.90 L318.42 36.88 L319.01 36.86 L319.59 36.85 L320.17 36.83 L320.76 36.81 L321.34 36.80 L321.92 36.78 L322.51 36.77 L323.09 36.75 L323.67 36.74 L324.26 36.72 L324.84 36.70 L325.42 36.69 L326.01 36.67 L326.59 36.66 L327.17 36.65 L327.75 36.63 L328.34 36.62 L328.92 36.60 L329.50 36.59 L330.09 36.57 L330.67 36.56 L331.25 36.55 L331.84 36.53 L332.42 36.52 L333.00 36.50 L333.59 36.49 L334.17 36.48 L334.75 36.46 L335.34 36.45 L335.92 36.44 L336.50 36.42 L337.09 36.41 L337.67 36.40 L338.25 36.39 L338.84 36.37 L339.42 36.36 L340.00 36.35 L340.59 36.34 L341.17 36.32 L341.75 36.31 L342.34 36.30 L342.92 36.29 L343.50 36.28 L344.09 36.27 L344.67 36.25 L345.25 36.24 L345.84 36.23 L346.42 36.22 L347.00 36.21 L347.59 36.20 L348.17 36.19 L348.75 36.17 L349.34 36.16 L349.92 36.15 L350.50 36.14 L351.09 36.13 L351.67 36.12 L352.25 36.11 L352.84 36.10 L353.42 36.09 L354.00 36.08 L354.58 36.07 L355.17 36.06 L355.75 36.05 L356.33 36.04 L356.92 36.03 L357.50 36.02 L358.08 36.01 L358.67 36.00 L359.25 35.99 L359.83 35.98 L360.42 35.97 L361.00 35.96 L361.58 35.95 L362.17 35.94 L362.75 35.93 L363.33 35.92 L363.92 35.91 L364.50 35.90 L365.08 35.89 L365.67 35.88 L366.25 35.88 L366.83 35.87 L367.42 35.86 L368.00 35.85 L368.58 35.84 L369.17 35.83 L369.75 35.82 L370.33 35.81 L370.92 35.80 L371.50 35.80 L372.08 35.79 L372.67 35.78 L373.25 35.77 L373.83 35.76 L374.42 35.75 L375.00 35.74 L375.58 35.74 L376.17 35.73 L376.75 35.72 L377.33 35.71 L377.92 35.70 L378.50 35.69 L379.08 35.69 L379.67 35.68 L380.25 35.67 L380.83 35.66 L381.42 35.65 L382.00 35.65 L382.58 35.64 L383.16 35.63 L383.75 35.62 L384.33 35.61 L384.91 35.61 L385.50 35.60 L386.08 35.59 L386.66 35.58 L387.25 35.58 L387.83 35.57 L388.41 35.56 L389.00 35.55 L389.58 35.55 L390.16 35.54 L390.75 35.53 L391.33 35.52 L391.91 35.52 L392.50 35.51 L393.08 35.50 L393.66 35.49 L394.25 35.49 L394.83 35.48 L395.41 35.47 L396.00 35.47 L396.58 35.46 L397.16 35.45 L397.75 35.44 L398.33 35.44 L398.91 35.43 L399.50 35.42 L400.08 35.42 L400.66 35.41 L401.25 35.40 L401.83 35.39 L402.41 35.39 L403.00 35.38 L403.58 35.37 L404.16 35.37 L404.75 35.36 L405.33 35.35 L405.91 35.35 L406.50 35.34 L407.08 35.33 L407.66 35.33 L408.25 35.32 L408.83 35.31 L409.41 35.31 L409.99 35.30 L410.58 35.29 L411.16 35.29 L411.74 35.28 L412.33 35.27 L412.91 35.27 L413.49 35.26 L414.08 35.25 L414.66 35.25 L415.24 35.24 L415.83 35.23 L416.41 35.23 L416.99 35.22 L417.58 35.21 L418.16 35.21 L418.74 35.20 L419.33 35.19 L419.91 35.19 L420.49 35.18 L421.08 35.18 L421.66 35.17 L422.24 35.16 L422.83 35.16 L423.41 35.15 L423.99 35.14 L424.58 35.14 L425.16 35.13 L425.74 35.12 L426.33 35.12 L426.91 35.11 L427.49 35.11 L428.08 35.10 L428.66 35.09 L429.24 35.09 L429.83 35.08 L430.41 35.08 L430.99 35.07 L431.58 35.06 L432.16 35.06 L432.74 35.05 L433.33 35.04 L433.91 35.04 L434.49 35.03 L435.08 35.03 L435.66 35.02 L436.24 35.02 L436.82 35.02 L437.41 35.02 L437.99 35.01 L438.57 35.01 L439.16 35.01 L439.74 35.01 L440.32 35.01 L440.91 35.01 L441.49 35.01 L442.07 35.01 L442.66 35.01 L443.24 35.01 L443.82 35.01 L444.41 35.01 L444.99 35.01 L445.57 35.00 L446.16 35.00 L446.74 35.00 L447.32 35.00 L447.91 35.00 L448.49 35.00 L449.07 35.00 L449.66 35.00 L450.24 35.00 L450.82 35.00 L451.41 35.00 L451.99 35.00 L452.57 35.00 L453.16 35.00 L453.74 35.00 L454.32 35.00 L454.91 34.99 L455.49 34.99 L456.07 34.99 L456.66 34.99 L457.24 34.99 L457.82 34.99 L458.41 34.99 L458.99 34.99 L459.57 34.99 L460.16 34.99 L460.74 34.99 L461.32 34.99 L461.91 34.99 L462.49 34.99 L463.07 34.99 L463.65 34.99 L464.24 34.99 L464.82 34.99 L465.40 34.99 L465.99 34.99 L466.57 34.98 L467.15 34.98 L467.74 34.98 L468.32 34.98 L468.90 34.98 L469.49 34.98 L470.07 34.98 L470.65 34.98 L471.24 34.98 L471.82 34.98 L472.40 34.98 L472.99 34.98 L473.57 34.98 L474.15 34.98 L474.74 34.98 L475.32 34.98 L475.90 34.98 L476.49 34.98 L477.07 34.98 L477.65 34.98 L478.24 34.98 L478.82 34.98 L479.40 34.98 L479.99 34.98 L480.57 34.98 L481.15 34.98 L481.74 34.97 L482.32 34.97 L482.90 34.97 L483.49 34.97 L484.07 34.97 L484.65 34.97 L485.24 34.97 L485.82 34.97 L486.40 34.97 L486.99 34.97 L487.57 34.97 L488.15 34.97 L488.74 34.97 L489.32 34.97 L489.90 34.97 L490.48 34.97 L491.07 34.97 L491.65 34.97 L492.23 34.97 L492.82 34.97 L493.40 34.97 L493.98 34.97 L494.57 34.97 L495.15 34.97 L495.73 34.97 L496.32 34.97 L496.90 34.97 L497.48 34.97 L498.07 34.97 L498.65 34.97 L499.23 34.97 L499.82 34.97 L500.40 34.97 L500.98 34.97 L501.57 34.97 L502.15 34.97 L502.73 34.97 L503.32 34.97 L503.90 34.97" stroke="#000000"/>
<path d="M50.90 347.91 L51.01 348.06 L51.13 348.17 L51.24 348.24 L51.35 348.28 L51.47 348.28 L51.58 348.26 L51.69 348.20 L51.81 348.12 L51.92 348.01 L52.03 347.88 L52.15 347.76 L52.26 347.64 L52.37 347.50 L52.49 347.36 L52.60 347.21 L52.71 347.05 L52.83 346.89 L52.94 346.72 L53.05 346.54 L53.16 346.36 L53.28 346.17 L53.39 345.98 L53.50 345.78 L53.62 345.58 L53.73 345.38 L53.84 345.16 L53.96 344.94 L54.07 344.72 L54.18 344.49 L54.30 344.25 L54.41 344.00 L54.52 343.75 L54.64 343.49 L54.75 343.21 L54.86 342.93 L54.98 342.63 L55.09 342.32 L55.20 342.01 L55.32 341.69 L55.43 341.37 L55.54 341.04 L55.66 340.70 L55.77 340.36 L55.88 340.02 L56.00 339.67 L56.11 339.32 L56.22 338.95 L56.34 338.58 L56.45 338.21 L56.56 337.82 L56.68 337.42 L56.79 337.02 L56.90 336.60 L57.02 336.17 L57.13 335.71 L57.24 335.24 L57.36 334.75 L57.47 334.24 L57.58 333.71 L57.70 333.18 L57.81 332.64 L57.92 332.10 L58.03 331.56 L58.15 331.01 L58.26 330.47 L58.37 329.91 L58.49 329.36 L58.60 328.80 L58.71 328.24 L58.83 327.67 L58.94 327.11 L59.05 326.54 L59.17 325.97 L59.28 325.40 L59.39 324.82 L59.51 324.24 L59.62 323.67 L59.73 323.09 L59.85 322.50 L59.96 321.92 L60.07 321.34 L60.19 320.75 L60.30 320.16 L60.41 319.57 L60.53 318.98 L60.64 318.39 L60.75 317.80 L60.87 317.21 L60.98 316.62 L61.09 316.02 L61.21 315.43 L61.32 314.83 L61.43 314.24 L61.55 313.64 L61.66 313.02 L61.77 312.40 L61.89 311.76 L62.00 311.12 L62.11 310.46 L62.22 309.79 L62.34 309.11 L62.45 308.42 L62.56 307.72 L62.68 307.01 L62.79 306.29 L62.90 305.56 L63.02 304.83 L63.13 304.09 L63.24 303.35 L63.36 302.61 L63.47 301.86 L63.58 301.12 L63.70 300.37 L63.81 299.63 L63.92 298.89 L64.04 298.15 L64.15 297.43 L64.26 296.71 L64.38 295.99 L64.49 295.29 L64.60 294.59 L64.72 293.91 L64.83 293.22 L64.94 292.53 L65.06 291.84 L65.17 291.14 L65.28 290.43 L65.40 289.73 L65.51 289.03 L65.62 288.33 L65.74 287.64 L65.85 286.95 L65.96 286.28 L66.08 285.60 L66.19 284.94 L66.30 284.29 L66.42 283.65 L66.53 283.03 L66.64 282.41 L66.75 281.81 L66.87 281.22 L66.98 280.64 L67.09 280.07 L67.21 279.51 L67.32 278.94 L67.43 278.38 L67.55 277.82 L67.66 277.26 L67.77 276.71 L67.89 276.15 L68.00 275.60 L68.11 275.05 L68.23 274.50 L68.34 273.96 L68.45 273.41 L68.57 272.87 L68.68 272.33 L68.79 271.80 L68.91 271.26 L69.02 270.73 L69.13 270.20 L69.25 269.67 L69.36 269.15 L69.47 268.63 L69.59 268.11 L69.70 267.59 L69.81 267.08 L69.93 266.57 L70.04 266.05 L70.15 265.54 L70.27 265.03 L70.38 264.53 L70.49 264.02 L70.61 263.51 L70.72 263.01 L70.83 262.50 L70.95 262.00 L71.06 261.49 L71.17 260.99 L71.28 260.49 L71.40 259.99 L71.51 259.49 L71.62 258.99 L71.74 258.49 L71.85 258.00 L71.96 257.50 L72.08 257.00 L72.19 256.51 L72.30 256.02 L72.42 255.52 L72.53 255.03 L72.64 254.54 L72.76 254.05 L72.87 253.56 L72.98 253.07 L73.10 252.59 L73.21 252.10 L73.32 251.62 L73.44 251.13 L73.55 250.65 L73.66 250.16 L73.78 249.68 L73.89 249.20 L74.00 248.72 L74.12 248.24 L74.23 247.76 L74.34 247.29 L74.46 246.81 L74.57 246.34 L74.68 245.86 L74.80 245.39 L74.91 244.91 L75.02 244.44 L75.14 243.97 L75.25 243.50 L75.36 243.03 L75.48 242.56 L75.59 242.10 L75.70 241.63 L75.81 241.16 L75.93 240.70 L76.04 240.24 L76.15 239.77 L76.27 239.31 L76.38 238.85 L76.49 238.39 L76.61 237.93 L76.72 237.47 L76.83 237.01 L76.95 236.56 L77.06 236.10 L77.17 235.65 L77.29 235.19 L77.40 234.74 L77.51 234.29 L77.63 233.84 L77.74 233.39 L77.85 232.94 L77.97 232.49 L78.08 232.04 L78.19 231.59 L78.31 231.15 L78.42 230.70 L78.53 230.26 L78.65 229.82 L78.76 229.37 L78.87 228.93 L78.99 228.49 L79.10 228.05 L79.21 227.61 L79.33 227.17 L79.44 226.74 L79.55 226.30 L79.67 225.87 L79.78 225.43 L79.89 225.00 L80.01 224.57 L80.12 224.13 L80.23 223.70 L80.34 223.27 L80.46 222.84 L80.57 222.42 L80.68 221.99 L80.80 221.56 L80.91 221.14 L81.02 220.71 L81.14 220.29 L81.25 219.87 L81.36 219.44 L81.48 219.02 L81.59 218.60 L81.70 218.18 L81.82 217.76 L81.93 217.35 L82.04 216.93 L82.16 216.51 L82.27 216.10 L82.38 215.68 L82.50 215.27 L82.61 214.86 L82.72 214.45 L82.84 214.04 L82.95 213.63 L83.06 213.22 L83.18 212.81 L83.29 212.40 L83.40 211.99 L83.52 211.59 L83.63 211.18 L83.74 210.78 L83.86 210.38 L83.97 209.97 L84.08 209.57 L84.20 209.17 L84.31 208.77 L84.42 208.37 L84.54 207.98 L84.65 207.58 L84.76 207.18 L84.88 206.79 L84.99 206.39 L85.10 206.00 L85.21 205.61 L85.33 205.21 L85.44 204.82 L85.55 204.43 L85.67 204.04 L85.78 203.65 L85.89 203.27 L86.01 202.88 L86.12 202.49 L86.23 202.11 L86.35 201.72 L86.46 201.34 L86.57 200.96 L86.69 200.57 L86.80 200.19 L86.91 199.81 L87.03 199.43 L87.14 199.05 L87.25 198.68 L87.37 198.30 L87.48 197.92 L87.59 197.55 L87.71 197.17 L87.82 196.80 L87.93 196.43 L88.05 196.05 L88.16 195.68 L88.27 195.31 L88.39 194.94 L88.50 194.57 L88.61 194.20 L88.73 193.84 L88.84 193.47 L88.95 193.10 L89.07 192.74 L89.18 192.37 L89.29 192.01 L89.41 191.65 L89.52 191.29 L89.63 190.93 L89.74 190.57 L89.86 190.21 L89.97 189.85 L90.08 189.49 L90.20 189.13 L90.31 188.78 L90.42 188.42 L90.54 188.07 L90.65 187.71 L90.76 187.36 L90.88 187.01 L90.99 186.66 L91.10 186.31 L91.22 185.96 L91.33 185.61 L91.44 185.26 L91.56 184.91 L91.67 184.56 L91.78 184.22 L91.90 183.87 L92.01 183.53 L92.12 183.18 L92.24 182.84 L92.35 182.50 L92.46 182.16 L92.58 181.82 L92.69 181.48 L92.80 181.14 L92.92 180.80 L93.03 180.46 L93.14 180.12 L93.26 179.79 L93.37 179.45 L93.48 179.12 L93.60 178.78 L93.71 178.45 L93.82 178.12 L93.94 177.79 L94.05 177.46 L94.16 177.13 L94.27 176.80 L94.39 176.47 L94.50 176.14 L94.61 175.81 L94.73 175.49 L94.84 175.16 L94.95 174.83 L95.07 174.51 L95.18 174.19 L95.29 173.86 L95.41 173.54 L95.52 173.22 L95.63 172.90 L95.75 172.58 L95.86 172.26 L95.97 171.94 L96.09 171.63 L96.20 171.31 L96.78 169.69 L97.37 168.09 L97.95 166.50 L98.53 164.94 L99.12 163.39 L99.70 161.86 L100.28 160.35 L100.87 158.86 L101.45 157.39 L102.03 155.93 L102.62 154.49 L103.20 153.07 L103.78 151.66 L104.37 150.27 L104.95 148.90 L105.53 147.54 L106.12 146.20 L106.70 144.88 L107.28 143.57 L107.87 142.28 L108.45 141.00 L109.03 139.74 L109.62 138.50 L110.20 137.27 L110.78 136.05 L111.36 134.85 L111.95 133.66 L112.53 132.49 L113.11 131.33 L113.70 130.19 L114.28 129.06 L114.86 127.94 L115.45 126.84 L116.03 125.74 L116.61 124.67 L117.20 123.60 L117.78 122.55 L118.36 121.51 L118.95 120.49 L119.53 119.47 L120.11 118.47 L120.70 117.48 L121.28 116.51 L121.86 115.54 L122.45 114.59 L123.03 113.64 L123.61 112.71 L124.20 111.79 L124.78 110.88 L125.36 109.98 L125.95 109.10 L126.53 108.22 L127.11 107.35 L127.70 106.50 L128.28 105.65 L128.86 104.81 L129.45 103.99 L130.03 103.17 L130.61 102.37 L131.20 101.57 L131.78 100.78 L132.36 100.00 L132.95 99.23 L133.53 98.47 L134.11 97.72 L134.70 96.98 L135.28 96.24 L135.86 95.52 L136.45 94.80 L137.03 94.09 L137.61 93.39 L138.19 92.70 L138.78 92.02 L139.36 91.34 L139.94 90.67 L140.53 90.01 L141.11 89.36 L141.69 88.71 L142.28 88.07 L142.86 87.44 L143.44 86.82 L144.03 86.20 L144.61 85.59 L145.19 84.99 L145.78 84.39 L146.36 83.81 L146.94 83.22 L147.53 82.65 L148.11 82.08 L148.69 81.52 L149.28 80.96 L149.86 80.41 L150.44 79.87 L151.03 79.33 L151.61 78.80 L152.19 78.27 L152.78 77.75 L153.36 77.24 L153.94 76.73 L154.53 76.23 L155.11 75.74 L155.69 75.24 L156.28 74.76 L156.86 74.28 L157.44 73.81 L158.03 73.34 L158.61 72.88 L159.19 72.42 L159.78 71.97 L160.36 71.52 L160.94 71.08 L161.53 70.64 L162.11 70.21 L162.69 69.78 L163.28 69.36 L163.86 68.94 L164.44 68.53 L165.02 68.12 L165.61 67.72 L166.19 67.32 L166.77 66.93 L167.36 66.54 L167.94 66.15 L168.52 65.77 L169.11 65.40 L169.69 65.03 L170.27 64.66 L170.86 64.30 L171.44 63.94 L172.02 63.59 L172.61 63.24 L173.19 62.89 L173.77 62.55 L174.36 62.21 L174.94 61.88 L175.52 61.55 L176.11 61.23 L176.69 60.91 L177.27 60.59 L177.86 60.28 L178.44 59.97 L179.02 59.66 L179.61 59.36 L180.19 59.06 L180.77 58.77 L181.36 58.47 L181.94 58.19 L182.52 57.90 L183.11 57.62 L183.69 57.35 L184.27 57.07 L184.86 56.80 L185.44 56.53 L186.02 56.27 L186.61 56.01 L187.19 55.75 L187.77 55.50 L188.36 55.25 L188.94 55.00 L189.52 54.76 L190.11 54.52 L190.69 54.28 L191.27 54.04 L191.85 53.81 L192.44 53.58 L193.02 53.35 L193.60 53.13 L194.19 52.91 L194.77 52.69 L195.35 52.47 L195.94 52.26 L196.52 52.05 L197.10 51.84 L197.69 51.64 L198.27 51.43 L198.85 51.23 L199.44 51.04 L200.02 50.84 L200.60 50.65 L201.19 50.46 L201.77 50.27 L202.35 50.08 L202.94 49.90 L203.52 49.72 L204.10 49.54 L204.69 49.36 L205.27 49.19 L205.85 49.02 L206.44 48.85 L207.02 48.68 L207.60 48.51 L208.19 48.35 L208.77 48.19 L209.35 48.03 L209.94 47.87 L210.52 47.71 L211.10 47.56 L211.69 47.41 L212.27 47.26 L212.85 47.11 L213.44 46.96 L214.02 46.82 L214.60 46.67 L215.19 46.53 L215.77 46.39 L216.35 46.26 L216.94 46.12 L217.52 45.98 L218.10 45.85 L218.68 45.72 L219.27 45.59 L219.85 45.46 L220.43 45.33 L221.02 45.21 L221.60 45.08 L222.18 44.96 L222.77 44.84 L223.35 44.72 L223.93 44.60 L224.52 44.49 L225.10 44.37 L225.68 44.26 L226.27 44.15 L226.85 44.03 L227.43 43.92 L228.02 43.82 L228.60 43.71 L229.18 43.60 L229.77 43.50 L230.35 43.39 L230.93 43.29 L231.52 43.19 L232.10 43.09 L232.68 42.99 L233.27 42.89 L233.85 42.80 L234.43 42.70 L235.02 42.61 L235.60 42.51 L236.18 42.42 L236.77 42.33 L237.35 42.24 L237.93 42.15 L238.52 42.06 L239.10 41.97 L239.68 41.89 L240.27 41.80 L240.85 41.72 L241.43 41.64 L242.02 41.55 L242.60 41.47 L243.18 41.39 L243.77 41.31 L244.35 41.23 L244.93 41.16 L245.52 41.08 L246.10 41.00 L246.68 40.93 L247.26 40.86 L247.85 40.78 L248.43 40.71 L249.01 40.64 L249.60 40.57 L250.18 40.50 L250.76 40.43 L251.35 40.36 L251.93 40.29 L252.51 40.23 L253.10 40.16 L253.68 40.09 L254.26 40.03 L254.85 39.97 L255.43 39.90 L256.01 39.84 L256.60 39.78 L257.18 39.72 L257.76 39.66 L258.35 39.60 L258.93 39.54 L259.51 39.48 L260.10 39.42 L260.68 39.37 L261.26 39.31 L261.85 39.25 L262.43 39.20 L263.01 39.14 L263.60 39.09 L264.18 39.04 L264.76 38.99 L265.35 38.93 L265.93 38.88 L266.51 38.83 L267.10 38.78 L267.68 38.73 L268.26 38.68 L268.85 38.63 L269.43 38.59 L270.01 38.54 L270.60 38.49 L271.18 38.45 L271.76 38.40 L272.35 38.36 L272.93 38.31 L273.51 38.27 L274.09 38.22 L274.68 38.18 L275.26 38.14 L275.84 38.09 L276.43 38.05 L277.01 38.01 L277.59 37.97 L278.18 37.93 L278.76 37.89 L279.34 37.85 L279.93 37.81 L280.51 37.77 L281.09 37.74 L281.68 37.70 L282.26 37.66 L282.84 37.63 L283.43 37.59 L284.01 37.55 L284.59 37.52 L285.18 37.48 L285.76 37.45 L286.34 37.41 L286.93 37.38 L287.51 37.35 L288.09 37.32 L288.68 37.28 L289.26 37.25 L289.84 37.22 L290.43 37.19 L291.01 37.16 L291.59 37.13 L292.18 37.10 L292.76 37.07 L293.34 37.04 L293.93 37.01 L294.51 36.98 L295.09 36.95 L295.68 36.92 L296.26 36.89 L296.84 36.87 L297.43 36.84 L298.01 36.81 L298.59 36.79 L299.18 36.76 L299.76 36.73 L300.34 36.71 L300.92 36.68 L301.51 36.65 L302.09 36.62 L302.67 36.60 L303.26 36.57 L303.84 36.55 L304.42 36.52 L305.01 36.49 L305.59 36.47 L306.17 36.44 L306.76 36.42 L307.34 36.39 L307.92 36.37 L308.51 36.35 L309.09 36.32 L309.67 36.30 L310.26 36.28 L310.84 36.25 L311.42 36.23 L312.01 36.21 L312.59 36.19 L313.17 36.16 L313.76 36.14 L314.34 36.12 L314.92 36.10 L315.51 36.08 L316.09 36.06 L316.67 36.04 L317.26 36.02 L317.84 36.00 L318.42 35.98 L319.01 35.96 L319.59 35.94 L320.17 35.92 L320.76 35.90 L321.34 35.88 L321.92 35.86 L322.51 35.85 L323.09 35.83 L323.67 35.81 L324.26 35.79 L324.84 35.78 L325.42 35.76 L326.01 35.74 L326.59 35.72 L327.17 35.71 L327.75 35.69 L328.34 35.67 L328.92 35.66 L329.50 35.64 L330.09 35.63 L330.67 35.61 L331.25 35.59 L331.84 35.58 L332.42 35.56 L333.00 35.55 L333.59 35.53 L334.17 35.52 L334.75 35.50 L335.34 35.49 L335.92 35.48 L336.50 35.46 L337.09 35.45 L337.67 35.43 L338.25 35.42 L338.84 35.41 L339.42 35.39 L340.00 35.38 L340.59 35.37 L341.17 35.35 L341.75 35.34 L342.34 35.33 L342.92 35.32 L343.50 35.30 L344.09 35.29 L344.67 35.28 L345.25 35.27 L345.84 35.26 L346.42 35.24 L347.00 35.23 L347.59 35.22 L348.17 35.21 L348.75 35.20 L349.34 35.19 L349.92 35.18 L350.50 35.16 L351.09 35.15 L351.67 35.14 L352.25 35.13 L352.84 35.12 L353.42 35.11 L354.00 35.10 L354.58 35.09 L355.17 35.08 L355.75 35.07 L356.33 35.06 L356.92 35.05 L357.50 35.04 L358.08 35.03 L358.67 35.02 L359.25 35.01 L359.83 35.00 L360.42 34.99 L361.00 34.98 L361.58 34.97 L362.17 34.97 L362.75 34.96 L363.33 34.95 L363.92 34.94 L364.50 34.93 L365.08 34.92 L365.67 34.91 L366.25 34.90 L366.83 34.90 L367.42 34.89 L368.00 34.88 L368.58 34.87 L369.17 34.86 L369.75 34.86 L370.33 34.85 L370.92 34.84 L371.50 34.83 L372.08 34.82 L372.67 34.82 L373.25 34.81 L373.83 34.80 L374.42 34.79 L375.00 34.79 L375.58 34.78 L376.17 34.77 L376.75 34.76 L377.33 34.76 L377.92 34.75 L378.50 34.74 L379.08 34.74 L379.67 34.73 L380.25 34.72 L380.83 34.72 L381.42 34.71 L382.00 34.70 L382.58 34.70 L383.16 34.69 L383.75 34.68 L384.33 34.68 L384.91 34.67 L385.50 34.66 L386.08 34.66 L386.66 34.65 L387.25 34.65 L387.83 34.64 L388.41 34.63 L389.00 34.63 L389.58 34.62 L390.16 34.61 L390.75 34.61 L391.33 34.60 L391.91 34.60 L392.50 34.59 L393.08 34.59 L393.66 34.58 L394.25 34.57 L394.83 34.57 L395.41 34.56 L396.00 34.56 L396.58 34.55 L397.16 34.55 L397.75 34.54 L398.33 34.54 L398.91 34.53 L399.50 34.53 L400.08 34.52 L400.66 34.51 L401.25 34.51 L401.83 34.50 L402.41 34.50 L403.00 34.49 L403.58 34.49 L404.16 34.48 L404.75 34.48 L405.33 34.47 L405.91 34.47 L406.50 34.46 L407.08 34.46 L407.66 34.45 L408.25 34.45 L408.83 34.45 L409.41 34.44 L409.99 34.44 L410.58 34.43 L411.16 34.43 L411.74 34.42 L412.33 34.42 L412.91 34.41 L413.49 34.41 L414.08 34.40 L414.66 34.40 L415.24 34.39 L415.83 34.39 L416.41 34.39 L416.99 34.38 L417.58 34.38 L418.16 34.37 L418.74 34.37 L419.33 34.36 L419.91 34.36 L420.49 34.36 L421.08 34.35 L421.66 34.35 L422.24 34.34 L422.83 34.34 L423.41 34.33 L423.99 34.33 L424.58 34.33 L425.16 34.32 L425.74 34.32 L426.33 34.31 L426.91 34.31 L427.49 34.31 L428.08 34.30 L428.66 34.30 L429.24 34.29 L429.83 34.29 L430.41 34.29 L430.99 34.28 L431.58 34.28 L432.16 34.28 L432.74 34.27 L433.33 34.27 L433.91 34.26 L434.49 34.26 L435.08 34.26 L435.66 34.25 L436.24 34.25 L436.82 34.25 L437.41 34.25 L437.99 34.25 L438.57 34.25 L439.16 34.24 L439.74 34.24 L440.32 34.24 L440.91 34.24 L441.49 34.24 L442.07 34.24 L442.66 34.24 L443.24 34.24 L443.82 34.23 L444.41 34.23 L444.99 34.23 L445.57 34.23 L446.16 34.23 L446.74 34.23 L447.32 34.23 L447.91 34.23 L448.49 34.23 L449.07 34.22 L449.66 34.22 L450.24 34.22 L450.82 34.22 L451.41 34.22 L451.99 34.22 L452.57 34.22 L453.16 34.22 L453.74 34.22 L454.32 34.22 L454.91 34.21 L455.49 34.21 L456.07 34.21 L456.66 34.21 L457.24 34.21 L457.82 34.21 L458.41 34.21 L458.99 34.21 L459.57 34.21 L460.16 34.21 L460.74 34.21 L461.32 34.21 L461.91 34.20 L462.49 34.20 L463.07 34.20 L463.65 34.20 L464.24 34.20 L464.82 34.20 L465.40 34.20 L465.99 34.20 L466.57 34.20 L467.15 34.20 L467.74 34.20 L468.32 34.20 L468.90 34.20 L469.49 34.19 L470.07 34.19 L470.65 34.19 L471.24 34.19 L471.82 34.19 L472.40 34.19 L472.99 34.19 L473.57 34.19 L474.15 34.19 L474.74 34.19 L475.32 34.19 L475.90 34.19 L476.49 34.19 L477.07 34.19 L477.65 34.19 L478.24 34.19 L478.82 34.19 L479.40 34.18 L479.99 34.18 L480.57 34.18 L481.15 34.18 L481.74 34.18 L482.32 34.18 L482.90 34.18 L483.49 34.18 L484.07 34.18 L484.65 34.18 L485.24 34.18 L485.82 34.18 L486.40 34.18 L486.99 34.18 L487.57 34.18 L488.15 34.18 L488.74 34.18 L489.32 34.18 L489.90 34.18 L490.48 34.18 L491.07 34.17 L491.65 34.17 L492.23 34.17 L492.82 34.17 L493.40 34.17 L493.98 34.17 L494.57 34.17 L495.15 34.17 L495.73 34.17 L496.32 34.17 L496.90 34.17 L497.48 34.17 L498.07 34.17 L498.65 34.17 L499.23 34.17 L499.82 34.17 L500.40 34.17 L500.98 34.17 L501.57 34.17 L502.15 34.17 L502.73 34.17 L503.32 34.17 L503.90 34.17" stroke="#0000ff"/>
<path d="M50.90 347.91 L51.01 348.06 L51.13 348.18 L51.24 348.27 L51.35 348.34 L51.47 348.38 L51.58 348.40 L51.69 348.40 L51.81 348.37 L51.92 348.33 L52.03 348.26 L52.15 348.18 L52.26 348.07 L52.37 347.95 L52.49 347.84 L52.60 347.72 L52.71 347.60 L52.83 347.47 L52.94 347.33 L53.05 347.19 L53.16 347.05 L53.28 346.90 L53.39 346.74 L53.50 346.58 L53.62 346.41 L53.73 346.24 L53.84 346.07 L53.96 345.89 L54.07 345.70 L54.18 345.51 L54.30 345.32 L54.41 345.12 L54.52 344.92 L54.64 344.71 L54.75 344.50 L54.86 344.28 L54.98 344.05 L55.09 343.82 L55.20 343.58 L55.32 343.33 L55.43 343.07 L55.54 342.80 L55.66 342.53 L55.77 342.24 L55.88 341.95 L56.00 341.65 L56.11 341.35 L56.22 341.05 L56.34 340.74 L56.45 340.43 L56.56 340.11 L56.68 339.79 L56.79 339.46 L56.90 339.13 L57.02 338.79 L57.13 338.45 L57.24 338.09 L57.36 337.73 L57.47 337.36 L57.58 336.98 L57.70 336.59 L57.81 336.19 L57.92 335.78 L58.03 335.35 L58.15 334.90 L58.26 334.43 L58.37 333.94 L58.49 333.45 L58.60 332.96 L58.71 332.47 L58.83 331.96 L58.94 331.46 L59.05 330.95 L59.17 330.44 L59.28 329.93 L59.39 329.41 L59.51 328.89 L59.62 328.36 L59.73 327.84 L59.85 327.31 L59.96 326.78 L60.07 326.24 L60.19 325.70 L60.30 325.16 L60.41 324.62 L60.53 324.08 L60.64 323.53 L60.75 322.98 L60.87 322.43 L60.98 321.88 L61.09 321.32 L61.21 320.77 L61.32 320.21 L61.43 319.65 L61.55 319.09 L61.66 318.53 L61.77 317.97 L61.89 317.40 L62.00 316.84 L62.11 316.27 L62.22 315.70 L62.34 315.13 L62.45 314.56 L62.56 313.99 L62.68 313.41 L62.79 312.82 L62.90 312.22 L63.02 311.61 L63.13 310.99 L63.24 310.35 L63.36 309.71 L63.47 309.06 L63.58 308.40 L63.70 307.72 L63.81 307.04 L63.92 306.36 L64.04 305.66 L64.15 304.96 L64.26 304.26 L64.38 303.54 L64.49 302.83 L64.60 302.12 L64.72 301.40 L64.83 300.68 L64.94 299.97 L65.06 299.26 L65.17 298.55 L65.28 297.84 L65.40 297.14 L65.51 296.45 L65.62 295.77 L65.74 295.09 L65.85 294.42 L65.96 293.76 L66.08 293.09 L66.19 292.43 L66.30 291.75 L66.42 291.07 L66.53 290.40 L66.64 289.72 L66.75 289.04 L66.87 288.36 L66.98 287.69 L67.09 287.03 L67.21 286.37 L67.32 285.72 L67.43 285.07 L67.55 284.44 L67.66 283.82 L67.77 283.21 L67.89 282.60 L68.00 282.01 L68.11 281.44 L68.23 280.87 L68.34 280.31 L68.45 279.76 L68.57 279.21 L68.68 278.66 L68.79 278.12 L68.91 277.57 L69.02 277.03 L69.13 276.49 L69.25 275.95 L69.36 275.41 L69.47 274.87 L69.59 274.34 L69.70 273.81 L69.81 273.28 L69.93 272.75 L70.04 272.23 L70.15 271.70 L70.27 271.18 L70.38 270.66 L70.49 270.15 L70.61 269.63 L70.72 269.12 L70.83 268.61 L70.95 268.11 L71.06 267.60 L71.17 267.10 L71.28 266.60 L71.40 266.10 L71.51 265.60 L71.62 265.11 L71.74 264.61 L71.85 264.11 L71.96 263.62 L72.08 263.13 L72.19 262.63 L72.30 262.14 L72.42 261.65 L72.53 261.16 L72.64 260.67 L72.76 260.18 L72.87 259.69 L72.98 259.21 L73.10 258.72 L73.21 258.23 L73.32 257.75 L73.44 257.27 L73.55 256.78 L73.66 256.30 L73.78 255.82 L73.89 255.34 L74.00 254.86 L74.12 254.38 L74.23 253.90 L74.34 253.43 L74.46 252.95 L74.57 252.48 L74.68 252.00 L74.80 251.53 L74.91 251.06 L75.02 250.58 L75.14 250.11 L75.25 249.64 L75.36 249.18 L75.48 248.71 L75.59 248.24 L75.70 247.77 L75.81 247.31 L75.93 246.84 L76.04 246.38 L76.15 245.92 L76.27 245.45 L76.38 244.99 L76.49 244.53 L76.61 244.07 L76.72 243.61 L76.83 243.16 L76.95 242.70 L77.06 242.24 L77.17 241.79 L77.29 241.33 L77.40 240.88 L77.51 240.43 L77.63 239.98 L77.74 239.53 L77.85 239.08 L77.97 238.63 L78.08 238.18 L78.19 237.73 L78.31 237.28 L78.42 236.84 L78.53 236.39 L78.65 235.95 L78.76 235.51 L78.87 235.06 L78.99 234.62 L79.10 234.18 L79.21 233.74 L79.33 233.30 L79.44 232.86 L79.55 232.43 L79.67 231.99 L79.78 231.56 L79.89 231.12 L80.01 230.69 L80.12 230.25 L80.23 229.82 L80.34 229.39 L80.46 228.96 L80.57 228.53 L80.68 228.10 L80.80 227.67 L80.91 227.25 L81.02 226.82 L81.14 226.39 L81.25 225.97 L81.36 225.55 L81.48 225.12 L81.59 224.70 L81.70 224.28 L81.82 223.86 L81.93 223.44 L82.04 223.02 L82.16 222.60 L82.27 222.19 L82.38 221.77 L82.50 221.36 L82.61 220.94 L82.72 220.53 L82.84 220.11 L82.95 219.70 L83.06 219.29 L83.18 218.88 L83.29 218.47 L83.40 218.06 L83.52 217.65 L83.63 217.25 L83.74 216.84 L83.86 216.44 L83.97 216.03 L84.08 215.63 L84.20 215.22 L84.31 214.82 L84.42 214.42 L84.54 214.02 L84.65 213.62 L84.76 213.22 L84.88 212.82 L84.99 212.43 L85.10 212.03 L85.21 211.64 L85.33 211.24 L85.44 210.85 L85.55 210.45 L85.67 210.06 L85.78 209.67 L85.89 209.28 L86.01 208.89 L86.12 208.50 L86.23 208.11 L86.35 207.72 L86.46 207.34 L86.57 206.95 L86.69 206.57 L86.80 206.18 L86.91 205.80 L87.03 205.41 L87.14 205.03 L87.25 204.65 L87.37 204.27 L87.48 203.89 L87.59 203.51 L87.71 203.13 L87.82 202.76 L87.93 202.38 L88.05 202.01 L88.16 201.63 L88.27 201.26 L88.39 200.88 L88.50 200.51 L88.61 200.14 L88.73 199.77 L88.84 199.40 L88.95 199.03 L89.07 198.66 L89.18 198.29 L89.29 197.92 L89.41 197.56 L89.52 197.19 L89.63 196.83 L89.74 196.46 L89.86 196.10 L89.97 195.74 L90.08 195.38 L90.20 195.02 L90.31 194.66 L90.42 194.30 L90.54 193.94 L90.65 193.58 L90.76 193.22 L90.88 192.87 L90.99 192.51 L91.10 192.16 L91.22 191.80 L91.33 191.45 L91.44 191.10 L91.56 190.74 L91.67 190.39 L91.78 190.04 L91.90 189.69 L92.01 189.34 L92.12 189.00 L92.24 188.65 L92.35 188.30 L92.46 187.96 L92.58 187.61 L92.69 187.27 L92.80 186.92 L92.92 186.58 L93.03 186.24 L93.14 185.90 L93.26 185.56 L93.37 185.22 L93.48 184.88 L93.60 184.54 L93.71 184.20 L93.82 183.86 L93.94 183.53 L94.05 183.19 L94.16 182.86 L94.27 182.52 L94.39 182.19 L94.50 181.86 L94.61 181.53 L94.73 181.20 L94.84 180.86 L94.95 180.53 L95.07 180.21 L95.18 179.88 L95.29 179.55 L95.41 179.22 L95.52 178.90 L95.63 178.57 L95.75 178.25 L95.86 177.92 L95.97 177.60 L96.09 177.28 L96.20 176.95 L96.78 175.31 L97.37 173.68 L97.95 172.07 L98.53 170.48 L99.12 168.90 L99.70 167.35 L100.28 165.81 L100.87 164.29 L101.45 162.79 L102.03 161.30 L102.62 159.83 L103.20 158.38 L103.78 156.95 L104.37 155.53 L104.95 154.12 L105.53 152.74 L106.12 151.37 L106.70 150.02 L107.28 148.68 L107.87 147.35 L108.45 146.05 L109.03 144.76 L109.62 143.48 L110.20 142.22 L110.78 140.97 L111.36 139.74 L111.95 138.52 L112.53 137.32 L113.11 136.13 L113.70 134.95 L114.28 133.79 L114.86 132.65 L115.45 131.51 L116.03 130.39 L116.61 129.28 L117.20 128.19 L117.78 127.11 L118.36 126.04 L118.95 124.98 L119.53 123.94 L120.11 122.91 L120.70 121.89 L121.28 120.88 L121.86 119.89 L122.45 118.91 L123.03 117.94 L123.61 116.98 L124.20 116.03 L124.78 115.09 L125.36 114.16 L125.95 113.25 L126.53 112.34 L127.11 111.45 L127.70 110.57 L128.28 109.69 L128.86 108.83 L129.45 107.98 L130.03 107.14 L130.61 106.30 L131.20 105.48 L131.78 104.67 L132.36 103.86 L132.95 103.07 L133.53 102.29 L134.11 101.51 L134.70 100.74 L135.28 99.99 L135.86 99.24 L136.45 98.50 L137.03 97.77 L137.61 97.04 L138.19 96.33 L138.78 95.62 L139.36 94.92 L139.94 94.23 L140.53 93.55 L141.11 92.88 L141.69 92.21 L142.28 91.55 L142.86 90.90 L143.44 90.26 L144.03 89.62 L144.61 88.99 L145.19 88.37 L145.78 87.75 L146.36 87.15 L146.94 86.55 L147.53 85.95 L148.11 85.37 L148.69 84.79 L149.28 84.21 L149.86 83.65 L150.44 83.09 L151.03 82.53 L151.61 81.98 L152.19 81.44 L152.78 80.91 L153.36 80.38 L153.94 79.86 L154.53 79.34 L155.11 78.83 L155.69 78.32 L156.28 77.82 L156.86 77.33 L157.44 76.84 L158.03 76.36 L158.61 75.88 L159.19 75.41 L159.78 74.95 L160.36 74.49 L160.94 74.03 L161.53 73.58 L162.11 73.14 L162.69 72.70 L163.28 72.27 L163.86 71.84 L164.44 71.41 L165.02 70.99 L165.61 70.58 L166.19 70.17 L166.77 69.77 L167.36 69.37 L167.94 68.97 L168.52 68.58 L169.11 68.20 L169.69 67.82 L170.27 67.44 L170.86 67.07 L171.44 66.70 L172.02 66.34 L172.61 65.98 L173.19 65.63 L173.77 65.28 L174.36 64.93 L174.94 64.59 L175.52 64.25 L176.11 63.92 L176.69 63.59 L177.27 63.26 L177.86 62.94 L178.44 62.63 L179.02 62.31 L179.61 62.00 L180.19 61.70 L180.77 61.40 L181.36 61.10 L181.94 60.80 L182.52 60.51 L183.11 60.23 L183.69 59.94 L184.27 59.66 L184.86 59.39 L185.44 59.11 L186.02 58.84 L186.61 58.58 L187.19 58.31 L187.77 58.05 L188.36 57.80 L188.94 57.54 L189.52 57.29 L190.11 57.05 L190.69 56.80 L191.27 56.56 L191.85 56.32 L192.44 56.09 L193.02 55.86 L193.60 55.63 L194.19 55.40 L194.77 55.18 L195.35 54.96 L195.94 54.74 L196.52 54.53 L197.10 54.32 L197.69 54.11 L198.27 53.90 L198.85 53.69 L199.44 53.49 L200.02 53.29 L200.60 53.10 L201.19 52.90 L201.77 52.71 L202.35 52.52 L202.94 52.34 L203.52 52.15 L204.10 51.97 L204.69 51.79 L205.27 51.61 L205.85 51.44 L206.44 51.26 L207.02 51.09 L207.60 50.92 L208.19 50.75 L208.77 50.59 L209.35 50.43 L209.94 50.27 L210.52 50.11 L211.10 49.95 L211.69 49.80 L212.27 49.64 L212.85 49.49 L213.44 49.34 L214.02 49.19 L214.60 49.05 L215.19 48.90 L215.77 48.76 L216.35 48.62 L216.94 48.48 L217.52 48.35 L218.10 48.21 L218.68 48.08 L219.27 47.95 L219.85 47.81 L220.43 47.69 L221.02 47.56 L221.60 47.43 L222.18 47.31 L222.77 47.19 L223.35 47.06 L223.93 46.94 L224.52 46.83 L225.10 46.71 L225.68 46.59 L226.27 46.48 L226.85 46.37 L227.43 46.25 L228.02 46.14 L228.60 46.04 L229.18 45.93 L229.77 45.82 L230.35 45.72 L230.93 45.61 L231.52 45.51 L232.10 45.41 L232.68 45.31 L233.27 45.21 L233.85 45.11 L234.43 45.02 L235.02 44.92 L235.60 44.83 L236.18 44.73 L236.77 44.64 L237.35 44.55 L237.93 44.46 L238.52 44.37 L239.10 44.28 L239.68 44.19 L240.27 44.11 L240.85 44.02 L241.43 43.94 L242.02 43.86 L242.60 43.77 L243.18 43.69 L243.77 43.61 L244.35 43.53 L244.93 43.46 L245.52 43.38 L246.10 43.30 L246.68 43.23 L247.26 43.15 L247.85 43.08 L248.43 43.01 L249.01 42.93 L249.60 42.86 L250.18 42.79 L250.76 42.72 L251.35 42.65 L251.93 42.59 L252.51 42.52 L253.10 42.45 L253.68 42.39 L254.26 42.32 L254.85 42.26 L255.43 42.19 L256.01 42.13 L256.60 42.07 L257.18 42.01 L257.76 41.95 L258.35 41.89 L258.93 41.83 L259.51 41.77 L260.10 41.71 L260.68 41.65 L261.26 41.60 L261.85 41.54 L262.43 41.49 L263.01 41.43 L263.60 41.38 L264.18 41.33 L264.76 41.27 L265.35 41.22 L265.93 41.17 L266.51 41.12 L267.10 41.07 L267.68 41.02 L268.26 40.97 L268.85 40.92 L269.43 40.87 L270.01 40.83 L270.60 40.78 L271.18 40.73 L271.76 40.69 L272.35 40.64 L272.93 40.60 L273.51 40.55 L274.09 40.51 L274.68 40.47 L275.26 40.42 L275.84 40.38 L276.43 40.34 L277.01 40.30 L277.59 40.26 L278.18 40.22 L278.76 40.18 L279.34 40.14 L279.93 40.10 L280.51 40.06 L281.09 40.02 L281.68 39.99 L282.26 39.95 L282.84 39.91 L283.43 39.88 L284.01 39.84 L284.59 39.81 L285.18 39.77 L285.76 39.74 L286.34 39.70 L286.93 39.67 L287.51 39.64 L288.09 39.60 L288.68 39.57 L289.26 39.54 L289.84 39.51 L290.43 39.48 L291.01 39.45 L291.59 39.41 L292.18 39.38 L292.76 39.35 L293.34 39.33 L293.93 39.30 L294.51 39.27 L295.09 39.24 L295.68 39.21 L296.26 39.18 L296.84 39.16 L297.43 39.13 L298.01 39.10 L298.59 39.08 L299.18 39.05 L299.76 39.02 L300.34 39.00 L300.92 38.98 L301.51 38.95 L302.09 38.93 L302.67 38.91 L303.26 38.89 L303.84 38.86 L304.42 38.84 L305.01 38.82 L305.59 38.80 L306.17 38.78 L306.76 38.76 L307.34 38.74 L307.92 38.72 L308.51 38.70 L309.09 38.68 L309.67 38.66 L310.26 38.64 L310.84 38.62 L311.42 38.61 L312.01 38.59 L312.59 38.57 L313.17 38.55 L313.76 38.54 L314.34 38.52 L314.92 38.50 L315.51 38.49 L316.09 38.47 L316.67 38.45 L317.26 38.44 L317.84 38.42 L318.42 38.41 L319.01 38.39 L319.59 38.38 L320.17 38.36 L320.76 38.35 L321.34 38.33 L321.92 38.32 L322.51 38.30 L323.09 38.29 L323.67 38.28 L324.26 38.26 L324.84 38.25 L325.42 38.24 L326.01 38.22 L326.59 38.21 L327.17 38.20 L327.75 38.19 L328.34 38.17 L328.92 38.16 L329.50 38.15 L330.09 38.14 L330.67 38.13 L331.25 38.12 L331.84 38.10 L332.42 38.09 L333.00 38.08 L333.59 38.07 L334.17 38.06 L334.75 38.05 L335.34 38.04 L335.92 38.03 L336.50 38.02 L337.09 38.01 L337.67 38.00 L338.25 37.99 L338.84 37.98 L339.42 37.97 L340.00 37.97 L340.59 37.96 L341.17 37.95 L341.75 37.94 L342.34 37.93 L342.92 37.92 L343.50 37.91 L344.09 37.91 L344.67 37.90 L345.25 37.89 L345.84 37.88 L346.42 37.88 L347.00 37.87 L347.59 37.86 L348.17 37.85 L348.75 37.85 L349.34 37.84 L349.92 37.83 L350.50 37.83 L351.09 37.82 L351.67 37.81 L352.25 37.81 L352.84 37.80 L353.42 37.79 L354.00 37.79 L354.58 37.78 L355.17 37.78 L355.75 37.77 L356.33 37.76 L356.92 37.76 L357.50 37.75 L358.08 37.75 L358.67 37.74 L359.25 37.74 L359.83 37.73 L360.42 37.73 L361.00 37.72 L361.58 37.72 L362.17 37.71 L362.75 37.71 L363.33 37.70 L363.92 37.70 L364.50 37.69 L365.08 37.69 L365.67 37.69 L366.25 37.68 L366.83 37.68 L367.42 37.67 L368.00 37.67 L368.58 37.67 L369.17 37.66 L369.75 37.66 L370.33 37.65 L370.92 37.65 L371.50 37.65 L372.08 37.64 L372.67 37.64 L373.25 37.64 L373.83 37.63 L374.42 37.63 L375.00 37.63 L375.58 37.62 L376.17 37.62 L376.75 37.62 L377.33 37.61 L377.92 37.61 L378.50 37.61 L379.08 37.61 L379.67 37.60 L380.25 37.60 L380.83 37.60 L381.42 37.60 L382.00 37.59 L382.58 37.59 L383.16 37.59 L383.75 37.59 L384.33 37.58 L384.91 37.58 L385.50 37.58 L386.08 37.58 L386.66 37.58 L387.25 37.57 L387.83 37.57 L388.41 37.57 L389.00 37.57 L389.58 37.57 L390.16 37.56 L390.75 37.56 L391.33 37.56 L391.91 37.56 L392.50 37.56 L393.08 37.56 L393.66 37.55 L394.25 37.55 L394.83 37.55 L395.41 37.55 L396.00 37.55 L396.58 37.55 L397.16 37.55 L397.75 37.54 L398.33 37.54 L398.91 37.54 L399.50 37.54 L400.08 37.54 L400.66 37.54 L401.25 37.54 L401.83 37.54 L402.41 37.54 L403.00 37.54 L403.58 37.53 L404.16 37.53 L404.75 37.53 L405.33 37.53 L405.91 37.53 L406.50 37.53 L407.08 37.53 L407.66 37.53 L408.25 37.53 L408.83 37.53 L409.41 37.53 L409.99 37.53 L410.58 37.53 L411.16 37.53 L411.74 37.53 L412.33 37.52 L412.91 37.52 L413.49 37.52 L414.08 37.52 L414.66 37.52 L415.24 37.52 L415.83 37.52 L416.41 37.52 L416.99 37.52 L417.58 37.52 L418.16 37.52 L418.74 37.52 L419.33 37.52 L419.91 37.52 L420.49 37.52 L421.08 37.52 L421.66 37.52 L422.24 37.52 L422.83 37.52 L423.41 37.52 L423.99 37.52 L424.58 37.52 L425.16 37.52 L425.74 37.52 L426.33 37.52 L426.91 37.52 L427.49 37.52 L428.08 37.52 L428.66 37.52 L429.24 37.52 L429.83 37.52 L430.41 37.52 L430.99 37.52 L431.58 37.52 L432.16 37.52 L432.74 37.52 L433.33 37.52 L433.91 37.53 L434.49 37.53 L435.08 37.53 L435.66 37.53 L436.24 37.53 L436.82 37.52 L437.41 37.52 L437.99 37.52 L438.57 37.52 L439.16 37.52 L439.74 37.52 L440.32 37.52 L440.91 37.52 L441.49 37.51 L442.07 37.51 L442.66 37.51 L443.24 37.51 L443.82 37.51 L444.41 37.51 L444.99 37.51 L445.57 37.51 L446.16 37.51 L446.74 37.51 L447.32 37.50 L447.91 37.50 L448.49 37.50 L449.07 37.50 L449.66 37.50 L450.24 37.50 L450.82 37.50 L451.41 37.50 L451.99 37.50 L452.57 37.50 L453.16 37.49 L453.74 37.49 L454.32 37.49 L454.91 37.49 L455.49 37.49 L456.07 37.49 L456.66 37.49 L457.24 37.49 L457.82 37.49 L458.41 37.49 L458.99 37.49 L459.57 37.49 L460.16 37.48 L460.74 37.48 L461.32 37.48 L461.91 37.48 L462.49 37.48 L463.07 37.48 L463.65 37.48 L464.24 37.48 L464.82 37.48 L465.40 37.48 L465.99 37.48 L466.57 37.48 L467.15 37.48 L467.74 37.48 L468.32 37.47 L468.90 37.47 L469.49 37.47 L470.07 37.47 L470.65 37.47 L471.24 37.47 L471.82 37.47 L472.40 37.47 L472.99 37.47 L473.57 37.47 L474.15 37.47 L474.74 37.47 L475.32 37.47 L475.90 37.47 L476.49 37.47 L477.07 37.47 L477.65 37.47 L478.24 37.46 L478.82 37.46 L479.40 37.46 L479.99 37.46 L480.57 37.46 L481.15 37.46 L481.74 37.46 L482.32 37.46 L482.90 37.46 L483.49 37.46 L484.07 37.46 L484.65 37.46 L485.24 37.46 L485.82 37.46 L486.40 37.46 L486.99 37.46 L487.57 37.46 L488.15 37.46 L488.74 37.46 L489.32 37.46 L489.90 37.46 L490.48 37.45 L491.07 37.45 L491.65 37.45 L492.23 37.45 L492.82 37.45 L493.40 37.45 L493.98 37.45 L494.57 37.45 L495.15 37.45 L495.73 37.45 L496.32 37.45 L496.90 37.45 L497.48 37.45 L498.07 37.45 L498.65 37.45 L499.23 37.45 L499.82 37.45 L500.40 37.45 L500.98 37.45 L501.57 37.45 L502.15 37.45 L502.73 37.45 L503.32 37.45 L503.90 37.45" stroke="#ff00ff"/>
<path d="M50.90 285.12 L51.22 263.69 L51.55 244.09 L51.87 226.17 L52.20 209.82 L52.52 194.89 L52.84 181.24 L53.17 168.76 L53.49 157.32 L53.81 146.84 L54.14 137.22 L54.46 128.41 L54.79 120.37 L55.11 113.06 L55.43 106.45 L55.76 100.50 L56.08 95.18 L56.40 90.44 L56.73 86.21 L57.05 82.43 L57.38 79.05 L57.70 76.00 L58.02 73.25 L58.35 70.77 L58.67 68.53 L59.00 66.54 L59.32 64.80 L59.64 63.32 L59.97 62.11 L60.29 61.16 L60.61 60.48 L60.94 60.04 L61.26 59.81 L61.59 59.76 L61.91 59.86 L62.23 60.07 L62.56 60.38 L62.88 60.76 L63.20 61.21 L63.53 61.73 L63.85 62.30 L64.18 62.95 L64.50 63.66 L64.82 64.39 L65.15 65.20 L65.47 66.08 L65.79 67.04 L66.12 68.07 L66.44 69.17 L66.77 70.33 L67.09 71.54 L67.41 72.80 L67.74 74.12 L68.06 75.48 L68.39 76.90 L68.71 78.34 L69.03 79.81 L69.36 81.27 L69.68 82.69 L70.00 84.05 L70.33 85.29 L70.65 86.40 L70.98 87.38 L71.30 88.22 L71.62 88.94 L71.95 89.58 L72.27 90.16 L72.59 90.71 L72.92 91.28 L73.24 91.87 L73.57 92.50 L73.89 93.29 L74.21 94.10 L74.54 94.91 L74.86 95.70 L75.19 96.41 L75.51 97.01 L75.83 97.50 L76.16 97.88 L76.48 98.19 L76.80 98.53 L77.13 99.02 L77.45 99.77 L77.78 100.91 L78.10 102.49 L78.42 104.53 L78.75 106.97 L79.07 109.72 L79.39 112.66 L79.72 115.64 L80.04 118.57 L80.37 121.34 L80.69 123.88 L81.01 126.16 L81.34 128.16 L81.66 129.86 L81.99 131.29 L82.31 132.46 L82.63 133.40 L82.96 134.15 L83.28 134.78 L83.60 135.33 L83.93 135.90 L84.25 136.54 L84.58 137.29 L84.90 138.20 L85.22 139.25 L85.55 140.43 L85.87 141.70 L86.19 143.04 L86.52 144.39 L86.84 145.73 L87.17 147.02 L87.49 148.24 L87.81 149.38 L88.14 150.42 L88.46 151.36 L88.78 152.23 L89.11 153.03 L89.43 153.79 L89.76 154.53 L90.08 155.30 L90.40 156.11 L90.73 157.00 L91.05 157.99 L91.38 159.10 L91.70 160.32 L92.02 161.65 L92.35 163.06 L92.67 164.51 L92.99 165.97 L93.32 167.41 L93.64 168.80 L93.97 170.10 L94.29 171.28 L94.61 172.32 L94.94 173.22 L95.26 173.96 L95.58 174.56 L95.91 175.07 L96.23 175.54 L96.56 176.00 L96.88 176.51 L97.20 177.12 L97.53 177.85 L97.85 178.73 L98.18 179.76 L98.50 180.94 L98.82 182.25 L99.15 183.66 L99.47 185.12 L99.79 186.59 L100.12 188.03 L100.44 189.41 L100.77 190.69 L101.09 191.84 L101.41 192.83 L101.74 193.65 L102.06 194.31 L102.38 194.80 L102.71 195.15 L103.03 195.40 L103.36 195.58 L103.68 195.76 L104.00 195.99 L104.33 196.34 L104.65 196.84 L104.98 197.53 L105.30 198.44 L105.62 199.55 L105.95 200.85 L106.27 202.29 L106.59 203.81 L106.92 205.34 L107.24 206.81 L107.57 208.16 L107.89 209.35 L108.21 210.35 L108.54 211.17 L108.86 211.84 L109.18 212.40 L109.51 212.87 L109.83 213.27 L110.16 213.64 L110.48 213.99 L110.80 214.30 L111.13 214.62 L111.45 214.97 L111.77 215.42 L112.10 215.97 L112.42 216.63 L112.75 217.39 L113.07 218.23 L113.39 219.12 L113.72 220.04 L114.04 221.01 L114.37 222.03 L114.69 223.12 L115.01 224.28 L115.34 225.49 L115.66 226.69 L115.98 227.83 L116.31 228.86 L116.63 229.72 L116.96 230.41 L117.28 230.91 L117.60 231.27 L117.93 231.49 L118.25 231.62 L118.57 231.71 L118.90 231.78 L119.22 231.88 L119.55 232.08 L119.87 232.40 L120.19 232.88 L120.52 233.53 L120.84 234.32 L121.17 235.23 L121.49 236.23 L121.81 237.25 L122.14 238.34 L122.46 239.47 L122.78 240.60 L123.11 241.70 L123.43 242.72 L123.76 243.59 L124.08 244.28 L124.40 244.75 L124.73 244.99 L125.05 245.04 L125.37 244.95 L125.70 244.75 L126.02 244.51 L126.35 244.26 L126.67 244.06 L126.99 243.97 L127.32 244.07 L127.64 244.42 L127.97 245.06 L128.29 245.99 L128.61 247.21 L128.94 248.65 L129.26 250.23 L129.58 251.87 L129.91 253.44 L130.23 254.84 L130.56 255.97 L130.88 256.75 L131.20 257.15 L131.53 257.16 L131.85 256.83 L132.17 256.23 L132.50 255.46 L132.82 254.67 L133.15 254.06 L133.47 253.78 L133.79 253.98 L134.12 254.70 L134.44 255.91 L134.76 257.50 L135.09 259.30 L135.41 261.12 L135.74 262.76 L136.06 264.07 L136.38 264.96 L136.71 265.37 L137.03 265.29 L137.36 264.78 L137.68 263.93 L138.00 262.92 L138.33 261.93 L138.65 261.20 L138.97 260.93 L139.30 261.26 L139.62 262.22 L139.95 263.72 L140.27 265.55 L140.59 267.46 L140.92 269.21 L141.24 270.59 L141.56 271.45 L141.89 271.77 L142.21 271.61 L142.54 271.06 L142.86 270.27 L143.18 269.42 L143.51 268.72 L143.83 268.34 L144.16 268.44 L144.48 269.08 L144.80 270.25 L145.13 271.80 L145.45 273.53 L145.77 275.21 L146.10 276.63 L146.42 277.63 L146.75 278.14 L147.07 278.15 L147.39 277.73 L147.72 276.95 L148.04 275.98 L148.36 275.02 L148.69 274.30 L149.01 274.02 L149.34 274.32 L149.66 275.20 L149.98 276.58 L150.31 278.25 L150.63 279.97 L150.96 281.52 L151.28 282.72 L151.60 283.44 L151.93 283.60 L152.25 283.22 L152.57 282.39 L152.90 281.30 L153.22 280.19 L153.55 279.36 L153.87 279.05 L154.19 279.40 L154.52 280.39 L154.84 281.85 L155.16 283.54 L155.49 285.20 L155.81 286.61 L156.14 287.65 L156.46 288.27 L156.78 288.43 L157.11 288.14 L157.43 287.41 L157.75 286.36 L158.08 285.15 L158.40 284.04 L158.73 283.30 L159.05 283.18 L159.37 283.76 L159.70 284.96 L160.02 286.60 L160.35 288.45 L160.67 290.25 L160.99 291.81 L161.32 292.98 L161.64 293.68 L161.96 293.88 L162.29 293.58 L162.61 292.83 L162.94 291.77 L163.26 290.58 L163.58 289.49 L163.91 288.72 L164.23 288.43 L164.55 288.70 L164.88 289.51 L165.20 290.79 L165.53 292.35 L165.85 294.03 L166.17 295.63 L166.50 297.01 L166.82 298.05 L167.15 298.69 L167.47 298.94 L167.79 298.80 L168.12 298.31 L168.44 297.53 L168.76 296.53 L169.09 295.42 L169.41 294.32 L169.74 293.40 L170.06 292.83 L170.38 292.72 L170.71 293.11 L171.03 293.98 L171.35 295.23 L171.68 296.71 L172.00 298.26 L172.33 299.73 L172.65 300.97 L172.97 301.92 L173.30 302.53 L173.62 302.80 L173.95 302.70 L174.27 302.26 L174.59 301.50 L174.92 300.50 L175.24 299.40 L175.56 298.36 L175.89 297.55 L176.21 297.13 L176.54 297.17 L176.86 297.68 L177.18 298.58 L177.51 299.79 L177.83 301.18 L178.15 302.62 L178.48 303.99 L178.80 305.16 L179.13 306.03 L179.45 306.51 L179.77 306.57 L180.10 306.21 L180.42 305.51 L180.74 304.56 L181.07 303.49 L181.39 302.45 L181.72 301.56 L182.04 300.96 L182.36 300.72 L182.69 300.90 L183.01 301.47 L183.34 302.36 L183.66 303.46 L183.98 304.62 L184.31 305.72 L184.63 306.66 L184.95 307.35 L185.28 307.79 L185.60 307.96 L185.93 307.88 L186.25 307.54 L186.57 307.02 L186.90 306.40 L187.22 305.78 L187.54 305.28 L187.87 305.05 L188.19 305.15 L188.52 305.60 L188.84 306.37 L189.16 307.36 L189.49 308.46 L189.81 309.52 L190.14 310.43 L190.46 311.09 L190.78 311.44 L191.11 311.46 L191.43 311.14 L191.75 310.49 L192.08 309.56 L192.40 308.48 L192.73 307.41 L193.05 306.52 L193.37 305.97 L193.70 305.89 L194.02 306.30 L194.34 307.17 L194.67 308.37 L194.99 309.75 L195.32 311.14 L195.64 312.37 L195.96 313.32 L196.29 313.90 L196.61 314.07 L196.94 313.82 L197.26 313.15 L197.58 312.16 L197.91 310.94 L198.23 309.69 L198.55 308.62 L198.88 307.92 L199.20 307.74 L199.53 308.15 L199.85 309.09 L200.17 310.41 L200.50 311.94 L200.82 313.44 L201.14 314.77 L201.47 315.80 L201.79 316.49 L202.12 316.80 L202.44 316.74 L202.76 316.30 L203.09 315.51 L203.41 314.44 L203.73 313.18 L204.06 311.93 L204.38 310.86 L204.71 310.19 L205.03 310.04 L205.35 310.46 L205.68 311.39 L206.00 312.69 L206.33 314.18 L206.65 315.65 L206.97 316.92 L207.30 317.89 L207.62 318.49 L207.94 318.69 L208.27 318.50 L208.59 317.96 L208.92 317.12 L209.24 316.08 L209.56 314.98 L209.89 314.02 L210.21 313.37 L210.53 313.19 L210.86 313.56 L211.18 314.45 L211.51 315.75 L211.83 317.27 L212.15 318.83 L212.48 320.21 L212.80 321.28 L213.13 321.91 L213.45 322.03 L213.77 321.62 L214.10 320.67 L214.42 319.30 L214.74 317.69 L215.07 316.12 L215.39 314.95 L215.72 314.53 L216.04 314.94 L216.36 316.12 L216.69 317.85 L217.01 319.78 L217.33 321.58 L217.66 323.00 L217.98 323.86 L218.31 324.09 L218.63 323.66 L218.95 322.60 L219.28 321.01 L219.60 319.12 L219.93 317.28 L220.25 315.89 L220.57 315.30 L220.90 315.68 L221.22 316.94 L221.54 318.80 L221.87 320.86 L222.19 322.76 L222.52 324.22 L222.84 325.07 L223.16 325.25 L223.49 324.73 L223.81 323.53 L224.13 321.82 L224.46 319.90 L224.78 318.19 L225.11 317.12 L225.43 316.98 L225.75 317.81 L226.08 319.38 L226.40 321.25 L226.72 323.02 L227.05 324.38 L227.37 325.17 L227.70 325.35 L228.02 324.90 L228.34 323.87 L228.67 322.35 L228.99 320.56 L229.32 318.83 L229.64 317.55 L229.96 317.01 L230.29 317.35 L230.61 318.46 L230.93 320.08 L231.26 321.86 L231.58 323.49 L231.91 324.75 L232.23 325.52 L232.55 325.79 L232.88 325.52 L233.20 324.75 L233.52 323.55 L233.85 322.07 L234.17 320.56 L234.50 319.31 L234.82 318.58 L235.14 318.54 L235.47 319.18 L235.79 320.38 L236.12 321.89 L236.44 323.44 L236.76 324.80 L237.09 325.80 L237.41 326.38 L237.73 326.52 L238.06 326.22 L238.38 325.53 L238.71 324.53 L239.03 323.34 L239.35 322.13 L239.68 321.12 L240.00 320.50 L240.32 320.42 L240.65 320.90 L240.97 321.87 L241.30 323.17 L241.62 324.58 L241.94 325.89 L242.27 326.96 L242.59 327.69 L242.92 328.02 L243.24 327.96 L243.56 327.52 L243.89 326.73 L244.21 325.68 L244.53 324.46 L244.86 323.23 L245.18 322.17 L245.51 321.44 L245.83 321.16 L246.15 321.38 L246.48 322.02 L246.80 322.98 L247.12 324.08 L247.45 325.15 L247.77 326.06 L248.10 326.73 L248.42 327.11 L248.74 327.21 L249.07 327.04 L249.39 326.62 L249.71 325.95 L250.04 325.10 L250.36 324.13 L250.69 323.20 L251.01 322.49 L251.33 322.15 L251.66 322.31 L251.98 322.96 L252.31 324.03 L252.63 325.34 L252.95 326.69 L253.28 327.91 L253.60 328.88 L253.92 329.53 L254.25 329.84 L254.57 329.82 L254.90 329.43 L255.22 328.68 L255.54 327.59 L255.87 326.25 L256.19 324.84 L256.51 323.59 L256.84 322.72 L257.16 322.41 L257.49 322.73 L257.81 323.64 L258.13 324.96 L258.46 326.49 L258.78 328.00 L259.11 329.30 L259.43 330.28 L259.75 330.91 L260.08 331.19 L260.40 331.13 L260.72 330.73 L261.05 329.98 L261.37 328.90 L261.70 327.51 L262.02 325.94 L262.34 324.37 L262.67 323.01 L262.99 322.07 L263.31 321.70 L263.64 321.94 L263.96 322.78 L264.29 324.08 L264.61 325.68 L264.93 327.39 L265.26 329.03 L265.58 330.46 L265.91 331.57 L266.23 332.30 L266.55 332.66 L266.88 332.67 L267.20 332.34 L267.52 331.75 L267.85 330.89 L268.17 329.81 L268.50 328.54 L268.82 327.14 L269.14 325.75 L269.47 324.48 L269.79 323.50 L270.11 322.89 L270.44 322.75 L270.76 323.09 L271.09 323.85 L271.41 324.98 L271.73 326.34 L272.06 327.83 L272.38 329.32 L272.70 330.70 L273.03 331.88 L273.35 332.79 L273.68 333.40 L274.00 333.72 L274.32 333.76 L274.65 333.52 L274.97 333.00 L275.30 332.19 L275.62 331.12 L275.94 329.83 L276.27 328.42 L276.59 327.04 L276.91 325.81 L277.24 324.87 L277.56 324.30 L277.89 324.14 L278.21 324.40 L278.53 325.03 L278.86 325.97 L279.18 327.11 L279.50 328.32 L279.83 329.49 L280.15 330.51 L280.48 331.31 L280.80 331.87 L281.12 332.22 L281.45 332.40 L281.77 332.45 L282.10 332.39 L282.42 332.21 L282.74 331.86 L283.07 331.30 L283.39 330.52 L283.71 329.53 L284.04 328.41 L284.36 327.29 L284.69 326.29 L285.01 325.56 L285.33 325.19 L285.66 325.22 L285.98 325.65 L286.30 326.43 L286.63 327.46 L286.95 328.62 L287.28 329.77 L287.60 330.82 L287.92 331.69 L288.25 332.35 L288.57 332.80 L288.89 333.02 L289.22 332.99 L289.54 332.67 L289.87 332.00 L290.19 330.96 L290.51 329.58 L290.84 327.99 L291.16 326.43 L291.49 325.14 L291.81 324.42 L292.13 324.44 L292.46 325.24 L292.78 326.72 L293.10 328.61 L293.43 330.59 L293.75 332.35 L294.08 333.70 L294.40 334.56 L294.72 334.91 L295.05 334.87 L295.37 334.47 L295.69 333.67 L296.02 332.39 L296.34 330.64 L296.67 328.59 L296.99 326.58 L297.31 325.05 L297.64 324.40 L297.96 324.82 L298.29 326.24 L298.61 328.29 L298.93 330.50 L299.26 332.42 L299.58 333.80 L299.90 334.59 L300.23 334.88 L300.55 334.79 L300.88 334.32 L301.20 333.40 L301.52 331.96 L301.85 330.06 L302.17 327.95 L302.49 326.09 L302.82 324.98 L303.14 325.02 L303.47 326.14 L303.79 328.03 L304.11 330.21 L304.44 332.18 L304.76 333.65 L305.09 334.51 L305.41 334.86 L305.73 334.82 L306.06 334.52 L306.38 333.94 L306.70 333.04 L307.03 331.80 L307.35 330.32 L307.68 328.83 L308.00 327.61 L308.32 326.92 L308.65 326.91 L308.97 327.54 L309.29 328.64 L309.62 329.93 L309.94 331.19 L310.27 332.24 L310.59 333.04 L310.91 333.58 L311.24 333.90 L311.56 334.03 L311.88 333.98 L312.21 333.73 L312.53 333.24 L312.86 332.50 L313.18 331.55 L313.50 330.50 L313.83 329.52 L314.15 328.77 L314.48 328.39 L314.80 328.43 L315.12 328.89 L315.45 329.66 L315.77 330.58 L316.09 331.53 L316.42 332.40 L316.74 333.11 L317.07 333.62 L317.39 333.94 L317.71 334.11 L318.04 334.12 L318.36 333.97 L318.68 333.63 L319.01 333.06 L319.33 332.25 L319.66 331.24 L319.98 330.12 L320.30 329.02 L320.63 328.12 L320.95 327.56 L321.28 327.42 L321.60 327.73 L321.92 328.41 L322.25 329.37 L322.57 330.46 L322.89 331.57 L323.22 332.59 L323.54 333.48 L323.87 334.18 L324.19 334.71 L324.51 335.05 L324.84 335.20 L325.16 335.13 L325.48 334.82 L325.81 334.27 L326.13 333.44 L326.46 332.36 L326.78 331.08 L327.10 329.71 L327.43 328.38 L327.75 327.25 L328.08 326.47 L328.40 326.16 L328.72 326.38 L329.05 327.09 L329.37 328.19 L329.69 329.56 L330.02 331.04 L330.34 332.48 L330.67 333.76 L330.99 334.81 L331.31 335.59 L331.64 336.11 L331.96 336.38 L332.28 336.42 L332.61 336.23 L332.93 335.82 L333.26 335.17 L333.58 334.26 L333.90 333.10 L334.23 331.74 L334.55 330.27 L334.87 328.85 L335.20 327.63 L335.52 326.78 L335.85 326.41 L336.17 326.56 L336.49 327.19 L336.82 328.21 L337.14 329.48 L337.47 330.83 L337.79 332.12 L338.11 333.21 L338.44 334.07 L338.76 334.69 L339.08 335.10 L339.41 335.36 L339.73 335.50 L340.06 335.51 L340.38 335.35 L340.70 334.97 L341.03 334.32 L341.35 333.40 L341.67 332.27 L342.00 331.03 L342.32 329.82 L342.65 328.80 L342.97 328.10 L343.29 327.85 L343.62 328.08 L343.94 328.75 L344.27 329.75 L344.59 330.92 L344.91 332.09 L345.24 333.15 L345.56 333.99 L345.88 334.58 L346.21 334.93 L346.53 335.06 L346.86 335.03 L347.18 334.86 L347.50 334.57 L347.83 334.19 L348.15 333.63 L348.47 332.90 L348.80 332.01 L349.12 331.06 L349.45 330.17 L349.77 329.47 L350.09 329.08 L350.42 329.09 L350.74 329.49 L351.07 330.22 L351.39 331.16 L351.71 332.15 L352.04 333.05 L352.36 333.73 L352.68 334.16 L353.01 334.33 L353.33 334.30 L353.66 334.19 L353.98 334.04 L354.30 333.87 L354.63 333.62 L354.95 333.24 L355.27 332.64 L355.60 331.84 L355.92 330.88 L356.25 329.92 L356.57 329.13 L356.89 328.67 L357.22 328.69 L357.54 329.21 L357.86 330.14 L358.19 331.36 L358.51 332.66 L358.84 333.86 L359.16 334.82 L359.48 335.49 L359.81 335.84 L360.13 335.94 L360.46 335.80 L360.78 335.45 L361.10 334.86 L361.43 334.00 L361.75 332.86 L362.07 331.48 L362.40 329.99 L362.72 328.58 L363.05 327.51 L363.37 327.02 L363.69 327.24 L364.02 328.17 L364.34 329.67 L364.66 331.48 L364.99 333.32 L365.31 334.95 L365.64 336.20 L365.96 337.04 L366.28 337.51 L366.61 337.65 L366.93 337.52 L367.26 337.13 L367.58 336.44 L367.90 335.42 L368.23 334.05 L368.55 332.39 L368.87 330.59 L369.20 328.88 L369.52 327.50 L369.85 326.69 L370.17 326.60 L370.49 327.24 L370.82 328.51 L371.14 330.20 L371.46 332.04 L371.79 333.79 L372.11 335.25 L372.44 336.32 L372.76 336.98 L373.08 337.27 L373.41 337.25 L373.73 336.94 L374.06 336.34 L374.38 335.41 L374.70 334.16 L375.03 332.61 L375.35 330.91 L375.67 329.25 L376.00 327.89 L376.32 327.06 L376.65 326.93 L376.97 327.54 L377.29 328.77 L377.62 330.40 L377.94 332.19 L378.26 333.89 L378.59 335.32 L378.91 336.43 L379.24 337.20 L379.56 337.67 L379.88 337.87 L380.21 337.79 L380.53 337.39 L380.85 336.61 L381.18 335.40 L381.50 333.80 L381.83 331.96 L382.15 330.10 L382.47 328.53 L382.80 327.49 L383.12 327.15 L383.45 327.55 L383.77 328.56 L384.09 329.99 L384.42 331.58 L384.74 333.13 L385.06 334.48 L385.39 335.55 L385.71 336.31 L386.04 336.77 L386.36 336.97 L386.68 336.93 L387.01 336.67 L387.33 336.15 L387.65 335.35 L387.98 334.28 L388.30 332.99 L388.63 331.58 L388.95 330.24 L389.27 329.16 L389.60 328.49 L389.92 328.33 L390.25 328.69 L390.57 329.50 L390.89 330.62 L391.22 331.89 L391.54 333.15 L391.86 334.26 L392.19 335.14 L392.51 335.76 L392.84 336.13 L393.16 336.29 L393.48 336.30 L393.81 336.17 L394.13 335.92 L394.45 335.53 L394.78 334.99 L395.10 334.31 L395.43 333.50 L395.75 332.63 L396.07 331.75 L396.40 330.93 L396.72 330.25 L397.05 329.73 L397.37 329.44 L397.69 329.39 L398.02 329.57 L398.34 329.98 L398.66 330.56 L398.99 331.24 L399.31 331.94 L399.64 332.56 L399.96 333.05 L400.28 333.41 L400.61 333.66 L400.93 333.84 L401.25 334.00 L401.58 334.12 L401.90 334.22 L402.23 334.25 L402.55 334.19 L402.87 334.02 L403.20 333.72 L403.52 333.29 L403.84 332.74 L404.17 332.06 L404.49 331.29 L404.82 330.51 L405.14 329.80 L405.46 329.25 L405.79 328.95 L406.11 328.94 L406.44 329.24 L406.76 329.80 L407.08 330.57 L407.41 331.48 L407.73 332.44 L408.05 333.41 L408.38 334.32 L408.70 335.15 L409.03 335.88 L409.35 336.52 L409.67 337.04 L410.00 337.42 L410.32 337.65 L410.64 337.69 L410.97 337.52 L411.29 337.12 L411.62 336.48 L411.94 335.64 L412.26 334.62 L412.59 333.49 L412.91 332.31 L413.24 331.18 L413.56 330.16 L413.88 329.31 L414.21 328.70 L414.53 328.38 L414.85 328.37 L415.18 328.68 L415.50 329.27 L415.83 330.07 L416.15 330.99 L416.47 331.91 L416.80 332.79 L417.12 333.56 L417.44 334.22 L417.77 334.79 L418.09 335.25 L418.42 335.62 L418.74 335.91 L419.06 336.09 L419.39 336.17 L419.71 336.15 L420.04 336.01 L420.36 335.76 L420.68 335.39 L421.01 334.86 L421.33 334.20 L421.65 333.41 L421.98 332.57 L422.30 331.75 L422.63 331.07 L422.95 330.61 L423.27 330.42 L423.60 330.53 L423.92 330.91 L424.24 331.53 L424.57 332.31 L424.89 333.18 L425.22 334.03 L425.54 334.78 L425.86 335.37 L426.19 335.77 L426.51 336.00 L426.83 336.09 L427.16 336.08 L427.48 335.97 L427.81 335.76 L428.13 335.46 L428.45 335.05 L428.78 334.51 L429.10 333.85 L429.43 333.09 L429.75 332.27 L430.07 331.46 L430.40 330.73 L430.72 330.20 L431.04 329.97 L431.37 330.11 L431.69 330.64 L432.02 331.53 L432.34 332.69 L432.66 333.96 L432.99 335.19 L433.31 336.27 L433.63 337.16 L433.96 337.83 L434.28 338.31 L434.61 338.60 L434.93 338.65 L435.25 338.41 L435.58 337.78 L435.90 336.71 L436.23 335.19 L436.55 333.39 L436.87 331.58 L437.20 330.03 L437.52 329.00 L437.84 328.69 L438.17 329.14 L438.49 330.27 L438.82 331.88 L439.14 333.69 L439.46 335.43 L439.79 336.89 L440.11 337.97 L440.43 338.66 L440.76 338.97 L441.08 338.97 L441.41 338.61 L441.73 337.86 L442.05 336.64 L442.38 334.94 L442.70 332.91 L443.03 330.87 L443.35 329.24 L443.67 328.45 L444.00 328.74 L444.32 330.06 L444.64 332.06 L444.97 334.26 L445.29 336.18 L445.62 337.52 L445.94 338.23 L446.26 338.42 L446.59 338.17 L446.91 337.41 L447.23 336.00 L447.56 333.86 L447.88 331.25 L448.21 328.77 L448.53 327.25 L448.85 327.29 L449.18 328.97 L449.50 331.71 L449.82 334.63 L450.15 336.94 L450.47 338.29 L450.80 338.75 L451.12 338.38 L451.44 337.08 L451.77 334.69 L452.09 331.62 L452.42 328.78 L452.74 327.29 L453.06 327.81 L453.39 330.05 L453.71 333.03 L454.03 335.68 L454.36 337.40 L454.68 338.17 L455.01 338.18 L455.33 337.45 L455.65 335.81 L455.98 333.32 L456.30 330.56 L456.62 328.49 L456.95 327.96 L457.27 329.15 L457.60 331.42 L457.92 333.81 L458.24 335.59 L458.57 336.56 L458.89 336.81 L459.22 336.38 L459.54 335.13 L459.86 332.99 L460.19 330.35 L460.51 328.12 L460.83 327.27 L461.16 328.23 L461.48 330.55 L461.81 333.31 L462.13 335.60 L462.45 337.02 L462.78 337.61 L463.10 337.51 L463.42 336.62 L463.75 334.84 L464.07 332.36 L464.40 329.89 L464.72 328.39 L465.04 328.50 L465.37 330.09 L465.69 332.37 L466.02 334.42 L466.34 335.70 L466.66 336.24 L466.99 336.20 L467.31 335.69 L467.63 334.60 L467.96 332.94 L468.28 331.02 L468.61 329.45 L468.93 328.82 L469.25 329.42 L469.58 331.04 L469.90 333.11 L470.22 335.05 L470.55 336.47 L470.87 337.29 L471.20 337.61 L471.52 337.50 L471.84 336.99 L472.17 336.02 L472.49 334.60 L472.81 332.93 L473.14 331.34 L473.46 330.24 L473.79 329.91 L474.11 330.42 L474.43 331.56 L474.76 333.01 L475.08 334.40 L475.41 335.51 L475.73 336.25 L476.05 336.66 L476.38 336.78 L476.70 336.61 L477.02 336.09 L477.35 335.17 L477.67 333.87 L478.00 332.37 L478.32 330.93 L478.64 329.89 L478.97 329.50 L479.29 329.84 L479.61 330.80 L479.94 332.15 L480.26 333.57 L480.59 334.82 L480.91 335.76 L481.23 336.33 L481.56 336.61 L481.88 336.64 L482.21 336.46 L482.53 336.08 L482.85 335.45 L483.18 334.57 L483.50 333.47 L483.82 332.26 L484.15 331.12 L484.47 330.29 L484.80 329.92 L485.12 330.14 L485.44 330.91 L485.77 332.07 L486.09 333.39 L486.41 334.64 L486.74 335.65 L487.06 336.36 L487.39 336.77 L487.71 336.93 L488.03 336.90 L488.36 336.65 L488.68 336.12 L489.01 335.26 L489.33 334.06 L489.65 332.64 L489.98 331.19 L490.30 330.00 L490.62 329.32 L490.95 329.36 L491.27 330.13 L491.60 331.47 L491.92 333.15 L492.24 334.84 L492.57 336.30 L492.89 337.36 L493.21 338.00 L493.54 338.27 L493.86 338.23 L494.19 337.90 L494.51 337.25 L494.83 336.23 L495.16 334.84 L495.48 333.18 L495.80 331.43 L496.13 329.87 L496.45 328.78 L496.78 328.38 L497.10 328.73 L497.42 329.78 L497.75 331.29 L498.07 332.98 L498.40 334.58 L498.72 335.87 L499.04 336.80 L499.37 337.35 L499.69 337.59 L500.01 337.52 L500.34 337.11 L500.66 336.29 L500.99 335.02 L501.31 333.33 L501.63 331.37 L501.96 329.44 L502.28 327.87 L502.60 326.97 L502.93 326.89 L503.25 327.65 L503.58 329.03 L503.90 330.78" stroke="#ff0000"/>
<path d="M50.90 347.91 L51.01 341.02 L51.13 334.26 L51.24 327.63 L51.35 321.13 L51.47 314.75 L51.58 308.50 L51.69 302.36 L51.81 296.35 L51.92 290.45 L52.03 284.66 L52.15 278.98 L52.26 273.42 L52.37 267.97 L52.49 262.62 L52.60 257.37 L52.71 252.23 L52.83 247.19 L52.94 242.25 L53.05 237.41 L53.16 232.67 L53.28 228.02 L53.39 223.46 L53.50 218.99 L53.62 214.62 L53.73 210.33 L53.84 206.13 L53.96 202.01 L54.07 197.98 L54.18 194.03 L54.30 190.17 L54.41 186.38 L54.52 182.67 L54.64 179.03 L54.75 175.48 L54.86 171.99 L54.98 168.58 L55.09 165.25 L55.20 161.98 L55.32 158.78 L55.43 155.65 L55.54 152.59 L55.66 149.59 L55.77 146.66 L55.88 143.79 L56.00 140.99 L56.11 138.24 L56.22 135.56 L56.34 132.94 L56.45 130.37 L56.56 127.86 L56.68 125.41 L56.79 123.01 L56.90 120.67 L57.02 118.38 L57.13 116.15 L57.24 113.96 L57.36 111.83 L57.47 109.75 L57.58 107.71 L57.70 105.72 L57.81 103.79 L57.92 101.89 L58.03 100.05 L58.15 98.25 L58.26 96.49 L58.37 94.77 L58.49 93.10 L58.60 91.47 L58.71 89.88 L58.83 88.34 L58.94 86.83 L59.05 85.36 L59.17 83.93 L59.28 82.53 L59.39 81.18 L59.51 79.86 L59.62 78.57 L59.73 77.33 L59.85 76.11 L59.96 74.93 L60.07 73.78 L60.19 72.67 L60.30 71.59 L60.41 70.54 L60.53 69.52 L60.64 68.53 L60.75 67.57 L60.87 66.64 L60.98 65.74 L61.09 64.86 L61.21 64.02 L61.32 63.20 L61.43 62.41 L61.55 61.65 L61.66 60.91 L61.77 60.19 L61.89 59.51 L62.00 58.84 L62.11 58.20 L62.22 57.59 L62.34 56.99 L62.45 56.42 L62.56 55.88 L62.68 55.35 L62.79 54.85 L62.90 54.36 L63.02 53.90 L63.13 53.46 L63.24 53.04 L63.36 52.64 L63.47 52.25 L63.58 51.89 L63.70 51.55 L63.81 51.22 L63.92 50.91 L64.04 50.62 L64.15 50.35 L64.26 50.09 L64.38 49.85 L64.49 49.62 L64.60 49.42 L64.72 49.22 L64.83 49.05 L64.94 48.89 L65.06 48.74 L65.17 48.61 L65.28 48.49 L65.40 48.38 L65.51 48.29 L65.62 48.22 L65.74 48.15 L65.85 48.10 L65.96 48.06 L66.08 48.04 L66.19 48.02 L66.30 48.02 L66.42 48.03 L66.53 48.05 L66.64 48.08 L66.75 48.13 L66.87 48.18 L66.98 48.25 L67.09 48.32 L67.21 48.41 L67.32 48.50 L67.43 48.61 L67.55 48.72 L67.66 48.85 L67.77 48.98 L67.89 49.12 L68.00 49.27 L68.11 49.43 L68.23 49.60 L68.34 49.77 L68.45 49.96 L68.57 50.15 L68.68 50.35 L68.79 50.55 L68.91 50.77 L69.02 50.99 L69.13 51.21 L69.25 51.45 L69.36 51.69 L69.47 51.94 L69.59 52.19 L69.70 52.45 L69.81 52.72 L69.93 52.99 L70.04 53.27 L70.15 53.55 L70.27 53.84 L70.38 54.13 L70.49 54.43 L70.61 54.74 L70.72 55.05 L70.83 55.36 L70.95 55.68 L71.06 56.01 L71.17 56.34 L71.28 56.67 L71.40 57.01 L71.51 57.35 L71.62 57.69 L71.74 58.04 L71.85 58.40 L71.96 58.75 L72.08 59.11 L72.19 59.48 L72.30 59.85 L72.42 60.22 L72.53 60.59 L72.64 60.97 L72.76 61.35 L72.87 61.74 L72.98 62.12 L73.10 62.51 L73.21 62.91 L73.32 63.30 L73.44 63.70 L73.55 64.10 L73.66 64.51 L73.78 64.91 L73.89 65.32 L74.00 65.73 L74.12 66.15 L74.23 66.56 L74.34 66.98 L74.46 67.40 L74.57 67.83 L74.68 68.25 L74.80 68.68 L74.91 69.11 L75.02 69.54 L75.14 69.97 L75.25 70.41 L75.36 70.85 L75.48 71.28 L75.59 71.73 L75.70 72.17 L75.81 72.61 L75.93 73.06 L76.04 73.51 L76.15 73.96 L76.27 74.41 L76.38 74.87 L76.49 75.32 L76.61 75.78 L76.72 76.24 L76.83 76.70 L76.95 77.16 L77.06 77.63 L77.17 78.10 L77.29 78.56 L77.40 79.03 L77.51 79.50 L77.63 79.98 L77.74 80.45 L77.85 80.93 L77.97 81.40 L78.08 81.88 L78.19 82.36 L78.31 82.85 L78.42 83.33 L78.53 83.82 L78.65 84.30 L78.76 84.79 L78.87 85.28 L78.99 85.78 L79.10 86.27 L79.21 86.76 L79.33 87.26 L79.44 87.76 L79.55 88.26 L79.67 88.76 L79.78 89.26 L79.89 89.76 L80.01 90.27 L80.12 90.78 L80.23 91.28 L80.34 91.79 L80.46 92.31 L80.57 92.82 L80.68 93.33 L80.80 93.85 L80.91 94.36 L81.02 94.88 L81.14 95.40 L81.25 95.92 L81.36 96.44 L81.48 96.96 L81.59 97.48 L81.70 98.01 L81.82 98.53 L81.93 99.06 L82.04 99.59 L82.16 100.12 L82.27 100.65 L82.38 101.18 L82.50 101.71 L82.61 102.24 L82.72 102.77 L82.84 103.31 L82.95 103.84 L83.06 104.37 L83.18 104.91 L83.29 105.45 L83.40 105.98 L83.52 106.52 L83.63 107.06 L83.74 107.59 L83.86 108.13 L83.97 108.67 L84.08 109.21 L84.20 109.75 L84.31 110.29 L84.42 110.83 L84.54 111.37 L84.65 111.90 L84.76 112.44 L84.88 112.98 L84.99 113.52 L85.10 114.06 L85.21 114.60 L85.33 115.14 L85.44 115.68 L85.55 116.21 L85.67 116.75 L85.78 117.29 L85.89 117.82 L86.01 118.36 L86.12 118.89 L86.23 119.43 L86.35 119.96 L86.46 120.50 L86.57 121.03 L86.69 121.56 L86.80 122.09 L86.91 122.62 L87.03 123.15 L87.14 123.68 L87.25 124.21 L87.37 124.74 L87.48 125.26 L87.59 125.79 L87.71 126.31 L87.82 126.84 L87.93 127.36 L88.05 127.88 L88.16 128.40 L88.27 128.92 L88.39 129.43 L88.50 129.95 L88.61 130.47 L88.73 130.98 L88.84 131.49 L88.95 132.00 L89.07 132.51 L89.18 133.02 L89.29 133.53 L89.41 134.04 L89.52 134.54 L89.63 135.04 L89.74 135.55 L89.86 136.05 L89.97 136.55 L90.08 137.04 L90.20 137.54 L90.31 138.04 L90.42 138.53 L90.54 139.02 L90.65 139.52 L90.76 140.01 L90.88 140.49 L90.99 140.98 L91.10 141.47 L91.22 141.95 L91.33 142.43 L91.44 142.92 L91.56 143.40 L91.67 143.88 L91.78 144.35 L91.90 144.83 L92.01 145.31 L92.12 145.78 L92.24 146.25 L92.35 146.72 L92.46 147.19 L92.58 147.66 L92.69 148.13 L92.80 148.59 L92.92 149.06 L93.03 149.52 L93.14 149.98 L93.26 150.44 L93.37 150.90 L93.48 151.36 L93.60 151.82 L93.71 152.27 L93.82 152.73 L93.94 153.18 L94.05 153.63 L94.16 154.08 L94.27 154.53 L94.39 154.98 L94.50 155.43 L94.61 155.88 L94.73 156.32 L94.84 156.76 L94.95 157.21 L95.07 157.65 L95.18 158.09 L95.29 158.53 L95.41 158.97 L95.52 159.40 L95.63 159.84 L95.75 160.27 L95.86 160.71 L95.97 161.14 L96.09 161.57 L96.20 162.00 L96.78 164.20 L97.37 166.37 L97.95 168.52 L98.53 170.64 L99.12 172.73 L99.70 174.80 L100.28 176.84 L100.87 178.86 L101.45 180.85 L102.03 182.82 L102.62 184.77 L103.20 186.69 L103.78 188.59 L104.37 190.47 L104.95 192.32 L105.53 194.15 L106.12 195.96 L106.70 197.75 L107.28 199.51 L107.87 201.25 L108.45 202.97 L109.03 204.67 L109.62 206.35 L110.20 208.01 L110.78 209.65 L111.36 211.26 L111.95 212.86 L112.53 214.44 L113.11 215.99 L113.70 217.53 L114.28 219.05 L114.86 220.55 L115.45 222.03 L116.03 223.49 L116.61 224.93 L117.20 226.36 L117.78 227.76 L118.36 229.15 L118.95 230.52 L119.53 231.88 L120.11 233.21 L120.70 234.53 L121.28 235.84 L121.86 237.12 L122.45 238.39 L123.03 239.65 L123.61 240.89 L124.20 242.11 L124.78 243.32 L125.36 244.51 L125.95 245.68 L126.53 246.85 L127.11 247.99 L127.70 249.12 L128.28 250.24 L128.86 251.35 L129.45 252.43 L130.03 253.51 L130.61 254.57 L131.20 255.62 L131.78 256.65 L132.36 257.68 L132.95 258.68 L133.53 259.68 L134.11 260.66 L134.70 261.63 L135.28 262.59 L135.86 263.53 L136.45 264.47 L137.03 265.39 L137.61 266.30 L138.19 267.19 L138.78 268.08 L139.36 268.95 L139.94 269.82 L140.53 270.67 L141.11 271.51 L141.69 272.34 L142.28 273.16 L142.86 273.97 L143.44 274.77 L144.03 275.56 L144.61 276.33 L145.19 277.10 L145.78 277.86 L146.36 278.61 L146.94 279.34 L147.53 280.07 L148.11 280.79 L148.69 281.50 L149.28 282.20 L149.86 282.89 L150.44 283.57 L151.03 284.24 L151.61 284.91 L152.19 285.56 L152.78 286.21 L153.36 286.85 L153.94 287.48 L154.53 288.10 L155.11 288.71 L155.69 289.32 L156.28 289.91 L156.86 290.50 L157.44 291.08 L158.03 291.66 L158.61 292.22 L159.19 292.78 L159.78 293.33 L160.36 293.87 L160.94 294.41 L161.53 294.94 L162.11 295.46 L162.69 295.97 L163.28 296.48 L163.86 296.98 L164.44 297.48 L165.02 297.96 L165.61 298.44 L166.19 298.92 L166.77 299.39 L167.36 299.85 L167.94 300.30 L168.52 300.75 L169.11 301.19 L169.69 301.63 L170.27 302.06 L170.86 302.49 L171.44 302.91 L172.02 303.32 L172.61 303.73 L173.19 304.13 L173.77 304.53 L174.36 304.92 L174.94 305.30 L175.52 305.68 L176.11 306.06 L176.69 306.43 L177.27 306.79 L177.86 307.15 L178.44 307.51 L179.02 307.86 L179.61 308.20 L180.19 308.54 L180.77 308.88 L181.36 309.21 L181.94 309.53 L182.52 309.86 L183.11 310.17 L183.69 310.49 L184.27 310.79 L184.86 311.10 L185.44 311.40 L186.02 311.69 L186.61 311.99 L187.19 312.27 L187.77 312.56 L188.36 312.84 L188.94 313.11 L189.52 313.38 L190.11 313.65 L190.69 313.92 L191.27 314.18 L191.85 314.44 L192.44 314.69 L193.02 314.94 L193.60 315.19 L194.19 315.43 L194.77 315.67 L195.35 315.90 L195.94 316.14 L196.52 316.37 L197.10 316.59 L197.69 316.82 L198.27 317.04 L198.85 317.26 L199.44 317.47 L200.02 317.68 L200.60 317.89 L201.19 318.09 L201.77 318.30 L202.35 318.50 L202.94 318.69 L203.52 318.89 L204.10 319.08 L204.69 319.27 L205.27 319.46 L205.85 319.64 L206.44 319.82 L207.02 320.00 L207.60 320.18 L208.19 320.35 L208.77 320.52 L209.35 320.69 L209.94 320.86 L210.52 321.03 L211.10 321.19 L211.69 321.35 L212.27 321.51 L212.85 321.66 L213.44 321.82 L214.02 321.97 L214.60 322.12 L215.19 322.27 L215.77 322.41 L216.35 322.56 L216.94 322.70 L217.52 322.84 L218.10 322.98 L218.68 323.11 L219.27 323.25 L219.85 323.38 L220.43 323.51 L221.02 323.64 L221.60 323.77 L222.18 323.90 L222.77 324.02 L223.35 324.14 L223.93 324.26 L224.52 324.38 L225.10 324.50 L225.68 324.62 L226.27 324.73 L226.85 324.85 L227.43 324.96 L228.02 325.07 L228.60 325.18 L229.18 325.28 L229.77 325.39 L230.35 325.49 L230.93 325.60 L231.52 325.70 L232.10 325.80 L232.68 325.90 L233.27 326.00 L233.85 326.09 L234.43 326.19 L235.02 326.28 L235.60 326.38 L236.18 326.47 L236.77 326.56 L237.35 326.65 L237.93 326.74 L238.52 326.82 L239.10 326.91 L239.68 326.99 L240.27 327.08 L240.85 327.16 L241.43 327.24 L242.02 327.32 L242.60 327.40 L243.18 327.48 L243.77 327.56 L244.35 327.63 L244.93 327.71 L245.52 327.78 L246.10 327.86 L246.68 327.93 L247.26 328.00 L247.85 328.07 L248.43 328.14 L249.01 328.21 L249.60 328.28 L250.18 328.35 L250.76 328.41 L251.35 328.48 L251.93 328.54 L252.51 328.61 L253.10 328.67 L253.68 328.73 L254.26 328.79 L254.85 328.85 L255.43 328.91 L256.01 328.97 L256.60 329.03 L257.18 329.08 L257.76 329.14 L258.35 329.20 L258.93 329.25 L259.51 329.30 L260.10 329.36 L260.68 329.41 L261.26 329.46 L261.85 329.51 L262.43 329.56 L263.01 329.61 L263.60 329.66 L264.18 329.71 L264.76 329.76 L265.35 329.81 L265.93 329.85 L266.51 329.90 L267.10 329.95 L267.68 329.99 L268.26 330.03 L268.85 330.08 L269.43 330.12 L270.01 330.16 L270.60 330.21 L271.18 330.25 L271.76 330.29 L272.35 330.33 L272.93 330.37 L273.51 330.41 L274.09 330.44 L274.68 330.48 L275.26 330.52 L275.84 330.56 L276.43 330.59 L277.01 330.63 L277.59 330.66 L278.18 330.70 L278.76 330.73 L279.34 330.77 L279.93 330.80 L280.51 330.83 L281.09 330.87 L281.68 330.90 L282.26 330.93 L282.84 330.96 L283.43 330.99 L284.01 331.02 L284.59 331.05 L285.18 331.08 L285.76 331.11 L286.34 331.14 L286.93 331.17 L287.51 331.19 L288.09 331.22 L288.68 331.25 L289.26 331.27 L289.84 331.30 L290.43 331.33 L291.01 331.35 L291.59 331.38 L292.18 331.40 L292.76 331.43 L293.34 331.45 L293.93 331.47 L294.51 331.50 L295.09 331.52 L295.68 331.54 L296.26 331.56 L296.84 331.59 L297.43 331.61 L298.01 331.63 L298.59 331.65 L299.18 331.67 L299.76 331.69 L300.34 331.71 L300.92 331.73 L301.51 331.75 L302.09 331.77 L302.67 331.79 L303.26 331.81 L303.84 331.82 L304.42 331.84 L305.01 331.86 L305.59 331.88 L306.17 331.89 L306.76 331.91 L307.34 331.93 L307.92 331.94 L308.51 331.96 L309.09 331.98 L309.67 331.99 L310.26 332.01 L310.84 332.02 L311.42 332.04 L312.01 332.05 L312.59 332.07 L313.17 332.08 L313.76 332.09 L314.34 332.11 L314.92 332.12 L315.51 332.13 L316.09 332.15 L316.67 332.16 L317.26 332.17 L317.84 332.19 L318.42 332.20 L319.01 332.21 L319.59 332.22 L320.17 332.23 L320.76 332.25 L321.34 332.26 L321.92 332.27 L322.51 332.28 L323.09 332.29 L323.67 332.30 L324.26 332.31 L324.84 332.32 L325.42 332.33 L326.01 332.34 L326.59 332.35 L327.17 332.36 L327.75 332.37 L328.34 332.38 L328.92 332.39 L329.50 332.40 L330.09 332.40 L330.67 332.41 L331.25 332.42 L331.84 332.43 L332.42 332.44 L333.00 332.45 L333.59 332.45 L334.17 332.46 L334.75 332.47 L335.34 332.48 L335.92 332.48 L336.50 332.49 L337.09 332.50 L337.67 332.51 L338.25 332.51 L338.84 332.52 L339.42 332.53 L340.00 332.53 L340.59 332.54 L341.17 332.54 L341.75 332.55 L342.34 332.56 L342.92 332.56 L343.50 332.57 L344.09 332.57 L344.67 332.58 L345.25 332.58 L345.84 332.59 L346.42 332.59 L347.00 332.60 L347.59 332.60 L348.17 332.61 L348.75 332.61 L349.34 332.62 L349.92 332.62 L350.50 332.63 L351.09 332.63 L351.67 332.64 L352.25 332.64 L352.84 332.64 L353.42 332.65 L354.00 332.65 L354.58 332.66 L355.17 332.66 L355.75 332.66 L356.33 332.67 L356.92 332.67 L357.50 332.67 L358.08 332.68 L358.67 332.68 L359.25 332.68 L359.83 332.69 L360.42 332.69 L361.00 332.69 L361.58 332.70 L362.17 332.70 L362.75 332.70 L363.33 332.70 L363.92 332.71 L364.50 332.71 L365.08 332.71 L365.67 332.71 L366.25 332.72 L366.83 332.72 L367.42 332.72 L368.00 332.72 L368.58 332.73 L369.17 332.73 L369.75 332.73 L370.33 332.73 L370.92 332.73 L371.50 332.74 L372.08 332.74 L372.67 332.74 L373.25 332.74 L373.83 332.74 L374.42 332.74 L375.00 332.75 L375.58 332.75 L376.17 332.75 L376.75 332.75 L377.33 332.75 L377.92 332.75 L378.50 332.75 L379.08 332.75 L379.67 332.76 L380.25 332.76 L380.83 332.76 L381.42 332.76 L382.00 332.76 L382.58 332.76 L383.16 332.76 L383.75 332.76 L384.33 332.76 L384.91 332.76 L385.50 332.76 L386.08 332.77 L386.66 332.77 L387.25 332.77 L387.83 332.77 L388.41 332.77 L389.00 332.77 L389.58 332.77 L390.16 332.77 L390.75 332.77 L391.33 332.77 L391.91 332.77 L392.50 332.77 L393.08 332.77 L393.66 332.77 L394.25 332.77 L394.83 332.77 L395.41 332.77 L396.00 332.77 L396.58 332.77 L397.16 332.77 L397.75 332.77 L398.33 332.77 L398.91 332.77 L399.50 332.77 L400.08 332.77 L400.66 332.77 L401.25 332.77 L401.83 332.77 L402.41 332.77 L403.00 332.77 L403.58 332.77 L404.16 332.77 L404.75 332.77 L405.33 332.77 L405.91 332.77 L406.50 332.77 L407.08 332.77 L407.66 332.77 L408.25 332.77 L408.83 332.77 L409.41 332.77 L409.99 332.77 L410.58 332.77 L411.16 332.77 L411.74 332.76 L412.33 332.76 L412.91 332.76 L413.49 332.76 L414.08 332.76 L414.66 332.76 L415.24 332.76 L415.83 332.76 L416.41 332.76 L416.99 332.76 L417.58 332.76 L418.16 332.76 L418.74 332.76 L419.33 332.76 L419.91 332.76 L420.49 332.75 L421.08 332.75 L421.66 332.75 L422.24 332.75 L422.83 332.75 L423.41 332.75 L423.99 332.75 L424.58 332.75 L425.16 332.75 L425.74 332.75 L426.33 332.75 L426.91 332.75 L427.49 332.74 L428.08 332.74 L428.66 332.74 L429.24 332.74 L429.83 332.74 L430.41 332.74 L430.99 332.74 L431.58 332.74 L432.16 332.74 L432.74 332.74 L433.33 332.73 L433.91 332.73 L434.49 332.73 L435.08 332.73 L435.66 332.73 L436.24 332.73 L436.82 332.73 L437.41 332.73 L437.99 332.73 L438.57 332.72 L439.16 332.72 L439.74 332.72 L440.32 332.72 L440.91 332.72 L441.49 332.72 L442.07 332.72 L442.66 332.72 L443.24 332.72 L443.82 332.71 L444.41 332.71 L444.99 332.71 L445.57 332.71 L446.16 332.71 L446.74 332.71 L447.32 332.71 L447.91 332.71 L448.49 332.70 L449.07 332.70 L449.66 332.70 L450.24 332.70 L450.82 332.70 L451.41 332.70 L451.99 332.70 L452.57 332.70 L453.16 332.69 L453.74 332.69 L454.32 332.69 L454.91 332.69 L455.49 332.69 L456.07 332.69 L456.66 332.69 L457.24 332.69 L457.82 332.68 L458.41 332.68 L458.99 332.68 L459.57 332.68 L460.16 332.68 L460.74 332.68 L461.32 332.68 L461.91 332.68 L462.49 332.67 L463.07 332.67 L463.65 332.67 L464.24 332.67 L464.82 332.67 L465.40 332.67 L465.99 332.67 L466.57 332.67 L467.15 332.66 L467.74 332.66 L468.32 332.66 L468.90 332.66 L469.49 332.66 L470.07 332.66 L470.65 332.66 L471.24 332.65 L471.82 332.65 L472.40 332.65 L472.99 332.65 L473.57 332.65 L474.15 332.65 L474.74 332.65 L475.32 332.65 L475.90 332.64 L476.49 332.64 L477.07 332.64 L477.65 332.64 L478.24 332.64 L478.82 332.64 L479.40 332.64 L479.99 332.63 L480.57 332.63 L481.15 332.63 L481.74 332.63 L482.32 332.63 L482.90 332.63 L483.49 332.63 L484.07 332.63 L484.65 332.62 L485.24 332.62 L485.82 332.62 L486.40 332.62 L486.99 332.62 L487.57 332.62 L488.15 332.62 L488.74 332.61 L489.32 332.61 L489.90 332.61 L490.48 332.61 L491.07 332.61 L491.65 332.61 L492.23 332.61 L492.82 332.61 L493.40 332.60 L493.98 332.60 L494.57 332.60 L495.15 332.60 L495.73 332.60 L496.32 332.60 L496.90 332.60 L497.48 332.60 L498.07 332.59 L498.65 332.59 L499.23 332.59 L499.82 332.59 L500.40 332.59 L500.98 332.59 L501.57 332.59 L502.15 332.58 L502.73 332.58 L503.32 332.58 L503.90 332.58" stroke="#000000"/>
<path d="M50.90 347.90 L51.01 335.82 L51.13 324.15 L51.24 312.88 L51.35 302.00 L51.47 291.50 L51.58 281.36 L51.69 271.57 L51.81 262.13 L51.92 253.02 L52.03 244.22 L52.15 235.73 L52.26 227.55 L52.37 219.65 L52.49 212.03 L52.60 204.69 L52.71 197.60 L52.83 190.77 L52.94 184.19 L53.05 177.84 L53.16 171.72 L53.28 165.82 L53.39 160.14 L53.50 154.67 L53.62 149.40 L53.73 144.32 L53.84 139.43 L53.96 134.72 L54.07 130.19 L54.18 125.83 L54.30 121.64 L54.41 117.60 L54.52 113.72 L54.64 109.99 L54.75 106.40 L54.86 102.95 L54.98 99.64 L55.09 96.46 L55.20 93.40 L55.32 90.47 L55.43 87.66 L55.54 84.96 L55.66 82.37 L55.77 79.89 L55.88 77.51 L56.00 75.23 L56.11 73.05 L56.22 70.96 L56.34 68.97 L56.45 67.06 L56.56 65.23 L56.68 63.49 L56.79 61.83 L56.90 60.24 L57.02 58.73 L57.13 57.29 L57.24 55.92 L57.36 54.62 L57.47 53.38 L57.58 52.20 L57.70 51.08 L57.81 50.03 L57.92 49.03 L58.03 48.08 L58.15 47.19 L58.26 46.35 L58.37 45.55 L58.49 44.81 L58.60 44.11 L58.71 43.46 L58.83 42.85 L58.94 42.28 L59.05 41.75 L59.17 41.26 L59.28 40.81 L59.39 40.39 L59.51 40.01 L59.62 39.67 L59.73 39.35 L59.85 39.07 L59.96 38.82 L60.07 38.60 L60.19 38.40 L60.30 38.24 L60.41 38.10 L60.53 37.98 L60.64 37.89 L60.75 37.83 L60.87 37.78 L60.98 37.76 L61.09 37.76 L61.21 37.79 L61.32 37.83 L61.43 37.89 L61.55 37.97 L61.66 38.07 L61.77 38.18 L61.89 38.31 L62.00 38.46 L62.11 38.62 L62.22 38.80 L62.34 38.99 L62.45 39.20 L62.56 39.42 L62.68 39.65 L62.79 39.89 L62.90 40.15 L63.02 40.41 L63.13 40.69 L63.24 40.98 L63.36 41.28 L63.47 41.59 L63.58 41.90 L63.70 42.23 L63.81 42.57 L63.92 42.91 L64.04 43.26 L64.15 43.62 L64.26 43.98 L64.38 44.35 L64.49 44.73 L64.60 45.12 L64.72 45.51 L64.83 45.91 L64.94 46.31 L65.06 46.72 L65.17 47.13 L65.28 47.54 L65.40 47.97 L65.51 48.39 L65.62 48.82 L65.74 49.26 L65.85 49.69 L65.96 50.13 L66.08 50.58 L66.19 51.02 L66.30 51.47 L66.42 51.93 L66.53 52.38 L66.64 52.84 L66.75 53.30 L66.87 53.76 L66.98 54.23 L67.09 54.69 L67.21 55.16 L67.32 55.63 L67.43 56.10 L67.55 56.57 L67.66 57.04 L67.77 57.52 L67.89 57.99 L68.00 58.47 L68.11 58.95 L68.23 59.43 L68.34 59.90 L68.45 60.38 L68.57 60.86 L68.68 61.35 L68.79 61.83 L68.91 62.31 L69.02 62.79 L69.13 63.27 L69.25 63.75 L69.36 64.24 L69.47 64.72 L69.59 65.20 L69.70 65.69 L69.81 66.17 L69.93 66.65 L70.04 67.14 L70.15 67.62 L70.27 68.10 L70.38 68.59 L70.49 69.07 L70.61 69.55 L70.72 70.04 L70.83 70.52 L70.95 71.00 L71.06 71.49 L71.17 71.97 L71.28 72.45 L71.40 72.94 L71.51 73.42 L71.62 73.91 L71.74 74.39 L71.85 74.87 L71.96 75.36 L72.08 75.84 L72.19 76.32 L72.30 76.81 L72.42 77.29 L72.53 77.78 L72.64 78.26 L72.76 78.75 L72.87 79.23 L72.98 79.72 L73.10 80.21 L73.21 80.69 L73.32 81.18 L73.44 81.67 L73.55 82.16 L73.66 82.64 L73.78 83.13 L73.89 83.62 L74.00 84.11 L74.12 84.60 L74.23 85.10 L74.34 85.59 L74.46 86.08 L74.57 86.58 L74.68 87.07 L74.80 87.56 L74.91 88.06 L75.02 88.56 L75.14 89.05 L75.25 89.55 L75.36 90.05 L75.48 90.55 L75.59 91.05 L75.70 91.55 L75.81 92.06 L75.93 92.56 L76.04 93.06 L76.15 93.57 L76.27 94.07 L76.38 94.58 L76.49 95.09 L76.61 95.60 L76.72 96.11 L76.83 96.62 L76.95 97.13 L77.06 97.64 L77.17 98.15 L77.29 98.66 L77.40 99.18 L77.51 99.69 L77.63 100.21 L77.74 100.72 L77.85 101.24 L77.97 101.76 L78.08 102.27 L78.19 102.79 L78.31 103.31 L78.42 103.83 L78.53 104.35 L78.65 104.87 L78.76 105.39 L78.87 105.91 L78.99 106.43 L79.10 106.95 L79.21 107.47 L79.33 107.99 L79.44 108.51 L79.55 109.03 L79.67 109.55 L79.78 110.07 L79.89 110.59 L80.01 111.11 L80.12 111.63 L80.23 112.15 L80.34 112.67 L80.46 113.19 L80.57 113.71 L80.68 114.23 L80.80 114.74 L80.91 115.26 L81.02 115.78 L81.14 116.29 L81.25 116.81 L81.36 117.32 L81.48 117.83 L81.59 118.35 L81.70 118.86 L81.82 119.37 L81.93 119.88 L82.04 120.38 L82.16 120.89 L82.27 121.40 L82.38 121.90 L82.50 122.40 L82.61 122.91 L82.72 123.41 L82.84 123.91 L82.95 124.40 L83.06 124.90 L83.18 125.39 L83.29 125.89 L83.40 126.38 L83.52 126.87 L83.63 127.36 L83.74 127.85 L83.86 128.33 L83.97 128.82 L84.08 129.30 L84.20 129.78 L84.31 130.26 L84.42 130.74 L84.54 131.21 L84.65 131.69 L84.76 132.16 L84.88 132.63 L84.99 133.10 L85.10 133.57 L85.21 134.04 L85.33 134.50 L85.44 134.96 L85.55 135.42 L85.67 135.88 L85.78 136.34 L85.89 136.79 L86.01 137.25 L86.12 137.70 L86.23 138.15 L86.35 138.60 L86.46 139.05 L86.57 139.49 L86.69 139.93 L86.80 140.38 L86.91 140.82 L87.03 141.26 L87.14 141.69 L87.25 142.13 L87.37 142.56 L87.48 142.99 L87.59 143.42 L87.71 143.85 L87.82 144.28 L87.93 144.71 L88.05 145.13 L88.16 145.55 L88.27 145.97 L88.39 146.39 L88.50 146.81 L88.61 147.23 L88.73 147.64 L88.84 148.06 L88.95 148.47 L89.07 148.88 L89.18 149.29 L89.29 149.70 L89.41 150.11 L89.52 150.51 L89.63 150.92 L89.74 151.32 L89.86 151.72 L89.97 152.12 L90.08 152.52 L90.20 152.92 L90.31 153.31 L90.42 153.71 L90.54 154.10 L90.65 154.50 L90.76 154.89 L90.88 155.28 L90.99 155.67 L91.10 156.06 L91.22 156.44 L91.33 156.83 L91.44 157.22 L91.56 157.60 L91.67 157.98 L91.78 158.36 L91.90 158.74 L92.01 159.12 L92.12 159.50 L92.24 159.88 L92.35 160.26 L92.46 160.63 L92.58 161.01 L92.69 161.38 L92.80 161.75 L92.92 162.13 L93.03 162.50 L93.14 162.87 L93.26 163.24 L93.37 163.60 L93.48 163.97 L93.60 164.34 L93.71 164.70 L93.82 165.07 L93.94 165.43 L94.05 165.79 L94.16 166.15 L94.27 166.51 L94.39 166.87 L94.50 167.23 L94.61 167.59 L94.73 167.95 L94.84 168.30 L94.95 168.66 L95.07 169.02 L95.18 169.37 L95.29 169.72 L95.41 170.07 L95.52 170.43 L95.63 170.78 L95.75 171.13 L95.86 171.48 L95.97 171.82 L96.09 172.17 L96.20 172.52 L96.78 174.29 L97.37 176.04 L97.95 177.77 L98.53 179.49 L99.12 181.18 L99.70 182.85 L100.28 184.51 L100.87 186.14 L101.45 187.76 L102.03 189.36 L102.62 190.94 L103.20 192.50 L103.78 194.05 L104.37 195.57 L104.95 197.08 L105.53 198.58 L106.12 200.05 L106.70 201.51 L107.28 202.96 L107.87 204.38 L108.45 205.80 L109.03 207.19 L109.62 208.57 L110.20 209.94 L110.78 211.28 L111.36 212.62 L111.95 213.94 L112.53 215.24 L113.11 216.53 L113.70 217.81 L114.28 219.07 L114.86 220.31 L115.45 221.55 L116.03 222.76 L116.61 223.97 L117.20 225.16 L117.78 226.34 L118.36 227.50 L118.95 228.66 L119.53 229.80 L120.11 230.92 L120.70 232.04 L121.28 233.14 L121.86 234.23 L122.45 235.30 L123.03 236.37 L123.61 237.42 L124.20 238.46 L124.78 239.49 L125.36 240.51 L125.95 241.52 L126.53 242.51 L127.11 243.50 L127.70 244.47 L128.28 245.43 L128.86 246.39 L129.45 247.33 L130.03 248.26 L130.61 249.18 L131.20 250.09 L131.78 250.99 L132.36 251.88 L132.95 252.76 L133.53 253.63 L134.11 254.49 L134.70 255.34 L135.28 256.18 L135.86 257.01 L136.45 257.83 L137.03 258.65 L137.61 259.45 L138.19 260.24 L138.78 261.03 L139.36 261.81 L139.94 262.58 L140.53 263.34 L141.11 264.09 L141.69 264.83 L142.28 265.56 L142.86 266.29 L143.44 267.01 L144.03 267.72 L144.61 268.42 L145.19 269.12 L145.78 269.80 L146.36 270.48 L146.94 271.15 L147.53 271.81 L148.11 272.47 L148.69 273.12 L149.28 273.76 L149.86 274.39 L150.44 275.02 L151.03 275.64 L151.61 276.25 L152.19 276.86 L152.78 277.46 L153.36 278.05 L153.94 278.63 L154.53 279.21 L155.11 279.78 L155.69 280.35 L156.28 280.91 L156.86 281.46 L157.44 282.01 L158.03 282.55 L158.61 283.08 L159.19 283.61 L159.78 284.13 L160.36 284.65 L160.94 285.16 L161.53 285.66 L162.11 286.16 L162.69 286.65 L163.28 287.14 L163.86 287.62 L164.44 288.09 L165.02 288.56 L165.61 289.03 L166.19 289.49 L166.77 289.94 L167.36 290.39 L167.94 290.84 L168.52 291.27 L169.11 291.71 L169.69 292.14 L170.27 292.56 L170.86 292.98 L171.44 293.39 L172.02 293.80 L172.61 294.21 L173.19 294.61 L173.77 295.00 L174.36 295.39 L174.94 295.78 L175.52 296.16 L176.11 296.54 L176.69 296.91 L177.27 297.28 L177.86 297.64 L178.44 298.00 L179.02 298.36 L179.61 298.71 L180.19 299.06 L180.77 299.40 L181.36 299.74 L181.94 300.07 L182.52 300.41 L183.11 300.73 L183.69 301.06 L184.27 301.38 L184.86 301.70 L185.44 302.01 L186.02 302.32 L186.61 302.62 L187.19 302.92 L187.77 303.22 L188.36 303.51 L188.94 303.79 L189.52 304.08 L190.11 304.36 L190.69 304.63 L191.27 304.91 L191.85 305.18 L192.44 305.45 L193.02 305.71 L193.60 305.97 L194.19 306.23 L194.77 306.49 L195.35 306.74 L195.94 306.99 L196.52 307.23 L197.10 307.48 L197.69 307.72 L198.27 307.95 L198.85 308.19 L199.44 308.42 L200.02 308.65 L200.60 308.88 L201.19 309.10 L201.77 309.32 L202.35 309.54 L202.94 309.76 L203.52 309.97 L204.10 310.18 L204.69 310.39 L205.27 310.60 L205.85 310.80 L206.44 311.00 L207.02 311.20 L207.60 311.40 L208.19 311.60 L208.77 311.79 L209.35 311.98 L209.94 312.17 L210.52 312.35 L211.10 312.54 L211.69 312.72 L212.27 312.90 L212.85 313.07 L213.44 313.25 L214.02 313.42 L214.60 313.59 L215.19 313.76 L215.77 313.93 L216.35 314.10 L216.94 314.26 L217.52 314.42 L218.10 314.58 L218.68 314.74 L219.27 314.90 L219.85 315.05 L220.43 315.20 L221.02 315.35 L221.60 315.50 L222.18 315.65 L222.77 315.80 L223.35 315.94 L223.93 316.08 L224.52 316.22 L225.10 316.36 L225.68 316.50 L226.27 316.64 L226.85 316.77 L227.43 316.90 L228.02 317.04 L228.60 317.17 L229.18 317.29 L229.77 317.42 L230.35 317.55 L230.93 317.67 L231.52 317.79 L232.10 317.91 L232.68 318.03 L233.27 318.15 L233.85 318.27 L234.43 318.39 L235.02 318.50 L235.60 318.61 L236.18 318.73 L236.77 318.84 L237.35 318.95 L237.93 319.05 L238.52 319.16 L239.10 319.27 L239.68 319.37 L240.27 319.47 L240.85 319.58 L241.43 319.68 L242.02 319.78 L242.60 319.88 L243.18 319.97 L243.77 320.07 L244.35 320.17 L244.93 320.26 L245.52 320.35 L246.10 320.45 L246.68 320.54 L247.26 320.63 L247.85 320.72 L248.43 320.80 L249.01 320.89 L249.60 320.98 L250.18 321.06 L250.76 321.15 L251.35 321.23 L251.93 321.31 L252.51 321.39 L253.10 321.47 L253.68 321.55 L254.26 321.63 L254.85 321.71 L255.43 321.78 L256.01 321.86 L256.60 321.93 L257.18 322.01 L257.76 322.08 L258.35 322.15 L258.93 322.22 L259.51 322.29 L260.10 322.36 L260.68 322.43 L261.26 322.50 L261.85 322.57 L262.43 322.64 L263.01 322.70 L263.60 322.77 L264.18 322.83 L264.76 322.89 L265.35 322.96 L265.93 323.02 L266.51 323.08 L267.10 323.14 L267.68 323.20 L268.26 323.26 L268.85 323.32 L269.43 323.37 L270.01 323.43 L270.60 323.49 L271.18 323.54 L271.76 323.60 L272.35 323.65 L272.93 323.71 L273.51 323.76 L274.09 323.81 L274.68 323.86 L275.26 323.91 L275.84 323.96 L276.43 324.01 L277.01 324.06 L277.59 324.11 L278.18 324.16 L278.76 324.21 L279.34 324.25 L279.93 324.30 L280.51 324.35 L281.09 324.39 L281.68 324.44 L282.26 324.48 L282.84 324.52 L283.43 324.57 L284.01 324.61 L284.59 324.65 L285.18 324.69 L285.76 324.73 L286.34 324.78 L286.93 324.82 L287.51 324.85 L288.09 324.89 L288.68 324.93 L289.26 324.97 L289.84 325.01 L290.43 325.04 L291.01 325.08 L291.59 325.12 L292.18 325.15 L292.76 325.19 L293.34 325.22 L293.93 325.26 L294.51 325.29 L295.09 325.32 L295.68 325.36 L296.26 325.39 L296.84 325.42 L297.43 325.45 L298.01 325.49 L298.59 325.52 L299.18 325.55 L299.76 325.58 L300.34 325.61 L300.92 325.64 L301.51 325.67 L302.09 325.69 L302.67 325.72 L303.26 325.75 L303.84 325.78 L304.42 325.81 L305.01 325.83 L305.59 325.86 L306.17 325.89 L306.76 325.91 L307.34 325.94 L307.92 325.96 L308.51 325.99 L309.09 326.01 L309.67 326.04 L310.26 326.06 L310.84 326.08 L311.42 326.11 L312.01 326.13 L312.59 326.15 L313.17 326.17 L313.76 326.20 L314.34 326.22 L314.92 326.24 L315.51 326.26 L316.09 326.28 L316.67 326.30 L317.26 326.32 L317.84 326.34 L318.42 326.36 L319.01 326.38 L319.59 326.40 L320.17 326.42 L320.76 326.44 L321.34 326.46 L321.92 326.47 L322.51 326.49 L323.09 326.51 L323.67 326.53 L324.26 326.56 L324.84 326.58 L325.42 326.60 L326.01 326.62 L326.59 326.64 L327.17 326.66 L327.75 326.68 L328.34 326.70 L328.92 326.72 L329.50 326.74 L330.09 326.76 L330.67 326.78 L331.25 326.80 L331.84 326.82 L332.42 326.84 L333.00 326.85 L333.59 326.87 L334.17 326.89 L334.75 326.91 L335.34 326.93 L335.92 326.94 L336.50 326.96 L337.09 326.98 L337.67 326.99 L338.25 327.01 L338.84 327.03 L339.42 327.04 L340.00 327.06 L340.59 327.07 L341.17 327.09 L341.75 327.11 L342.34 327.12 L342.92 327.14 L343.50 327.15 L344.09 327.17 L344.67 327.18 L345.25 327.20 L345.84 327.21 L346.42 327.22 L347.00 327.24 L347.59 327.25 L348.17 327.27 L348.75 327.28 L349.34 327.29 L349.92 327.31 L350.50 327.32 L351.09 327.33 L351.67 327.34 L352.25 327.36 L352.84 327.37 L353.42 327.38 L354.00 327.39 L354.58 327.41 L355.17 327.42 L355.75 327.43 L356.33 327.44 L356.92 327.45 L357.50 327.47 L358.08 327.48 L358.67 327.49 L359.25 327.50 L359.83 327.51 L360.42 327.52 L361.00 327.53 L361.58 327.54 L362.17 327.55 L362.75 327.56 L363.33 327.57 L363.92 327.58 L364.50 327.59 L365.08 327.60 L365.67 327.61 L366.25 327.62 L366.83 327.63 L367.42 327.64 L368.00 327.65 L368.58 327.66 L369.17 327.67 L369.75 327.68 L370.33 327.69 L370.92 327.70 L371.50 327.70 L372.08 327.71 L372.67 327.72 L373.25 327.73 L373.83 327.74 L374.42 327.75 L375.00 327.75 L375.58 327.76 L376.17 327.77 L376.75 327.78 L377.33 327.79 L377.92 327.79 L378.50 327.80 L379.08 327.81 L379.67 327.82 L380.25 327.82 L380.83 327.83 L381.42 327.84 L382.00 327.85 L382.58 327.85 L383.16 327.86 L383.75 327.87 L384.33 327.87 L384.91 327.88 L385.50 327.89 L386.08 327.89 L386.66 327.90 L387.25 327.91 L387.83 327.91 L388.41 327.92 L389.00 327.93 L389.58 327.93 L390.16 327.94 L390.75 327.94 L391.33 327.95 L391.91 327.96 L392.50 327.96 L393.08 327.97 L393.66 327.97 L394.25 327.98 L394.83 327.98 L395.41 327.99 L396.00 327.99 L396.58 328.00 L397.16 328.01 L397.75 328.01 L398.33 328.02 L398.91 328.02 L399.50 328.03 L400.08 328.03 L400.66 328.04 L401.25 328.04 L401.83 328.05 L402.41 328.05 L403.00 328.06 L403.58 328.06 L404.16 328.06 L404.75 328.07 L405.33 328.07 L405.91 328.08 L406.50 328.08 L407.08 328.09 L407.66 328.09 L408.25 328.10 L408.83 328.10 L409.41 328.10 L409.99 328.11 L410.58 328.11 L411.16 328.12 L411.74 328.12 L412.33 328.12 L412.91 328.13 L413.49 328.13 L414.08 328.14 L414.66 328.14 L415.24 328.14 L415.83 328.15 L416.41 328.15 L416.99 328.15 L417.58 328.16 L418.16 328.16 L418.74 328.17 L419.33 328.17 L419.91 328.17 L420.49 328.18 L421.08 328.18 L421.66 328.18 L422.24 328.19 L422.83 328.19 L423.41 328.19 L423.99 328.20 L424.58 328.20 L425.16 328.20 L425.74 328.20 L426.33 328.21 L426.91 328.21 L427.49 328.21 L428.08 328.22 L428.66 328.22 L429.24 328.22 L429.83 328.23 L430.41 328.23 L430.99 328.23 L431.58 328.23 L432.16 328.24 L432.74 328.24 L433.33 328.24 L433.91 328.24 L434.49 328.25 L435.08 328.25 L435.66 328.25 L436.24 328.25 L436.82 328.26 L437.41 328.26 L437.99 328.26 L438.57 328.26 L439.16 328.27 L439.74 328.27 L440.32 328.27 L440.91 328.27 L441.49 328.28 L442.07 328.28 L442.66 328.28 L443.24 328.28 L443.82 328.28 L444.41 328.29 L444.99 328.29 L445.57 328.29 L446.16 328.29 L446.74 328.29 L447.32 328.30 L447.91 328.30 L448.49 328.30 L449.07 328.30 L449.66 328.30 L450.24 328.31 L450.82 328.31 L451.41 328.31 L451.99 328.31 L452.57 328.31 L453.16 328.32 L453.74 328.32 L454.32 328.32 L454.91 328.32 L455.49 328.32 L456.07 328.32 L456.66 328.33 L457.24 328.33 L457.82 328.33 L458.41 328.33 L458.99 328.33 L459.57 328.33 L460.16 328.34 L460.74 328.34 L461.32 328.34 L461.91 328.34 L462.49 328.34 L463.07 328.34 L463.65 328.35 L464.24 328.35 L464.82 328.35 L465.40 328.35 L465.99 328.35 L466.57 328.35 L467.15 328.35 L467.74 328.35 L468.32 328.36 L468.90 328.36 L469.49 328.36 L470.07 328.36 L470.65 328.36 L471.24 328.36 L471.82 328.36 L472.40 328.37 L472.99 328.37 L473.57 328.37 L474.15 328.37 L474.74 328.37 L475.32 328.37 L475.90 328.37 L476.49 328.37 L477.07 328.37 L477.65 328.38 L478.24 328.38 L478.82 328.38 L479.40 328.38 L479.99 328.38 L480.57 328.38 L481.15 328.38 L481.74 328.38 L482.32 328.38 L482.90 328.39 L483.49 328.39 L484.07 328.39 L484.65 328.39 L485.24 328.39 L485.82 328.39 L486.40 328.39 L486.99 328.39 L487.57 328.39 L488.15 328.39 L488.74 328.39 L489.32 328.40 L489.90 328.40 L490.48 328.40 L491.07 328.40 L491.65 328.40 L492.23 328.40 L492.82 328.40 L493.40 328.40 L493.98 328.40 L494.57 328.40 L495.15 328.40 L495.73 328.41 L496.32 328.41 L496.90 328.41 L497.48 328.41 L498.07 328.41 L498.65 328.41 L499.23 328.41 L499.82 328.41 L500.40 328.41 L500.98 328.41 L501.57 328.41 L502.15 328.41 L502.73 328.41 L503.32 328.41 L503.90 328.42" stroke="#0000ff"/>
<path d="M50.90 347.91 L51.01 338.41 L51.13 329.18 L51.24 320.23 L51.35 311.54 L51.47 303.10 L51.58 294.91 L51.69 286.96 L51.81 279.25 L51.92 271.76 L52.03 264.49 L52.15 257.44 L52.26 250.60 L52.37 243.97 L52.49 237.53 L52.60 231.29 L52.71 225.23 L52.83 219.36 L52.94 213.66 L53.05 208.14 L53.16 202.78 L53.28 197.59 L53.39 192.55 L53.50 187.67 L53.62 182.94 L53.73 178.36 L53.84 173.92 L53.96 169.62 L54.07 165.45 L54.18 161.41 L54.30 157.50 L54.41 153.72 L54.52 150.05 L54.64 146.50 L54.75 143.07 L54.86 139.74 L54.98 136.53 L55.09 133.41 L55.20 130.40 L55.32 127.49 L55.43 124.68 L55.54 121.95 L55.66 119.32 L55.77 116.78 L55.88 114.33 L56.00 111.95 L56.11 109.66 L56.22 107.45 L56.34 105.31 L56.45 103.25 L56.56 101.27 L56.68 99.35 L56.79 97.50 L56.90 95.72 L57.02 94.01 L57.13 92.35 L57.24 90.76 L57.36 89.23 L57.47 87.76 L57.58 86.34 L57.70 84.98 L57.81 83.67 L57.92 82.41 L58.03 81.20 L58.15 80.05 L58.26 78.94 L58.37 77.87 L58.49 76.86 L58.60 75.88 L58.71 74.95 L58.83 74.06 L58.94 73.21 L59.05 72.40 L59.17 71.62 L59.28 70.89 L59.39 70.19 L59.51 69.52 L59.62 68.89 L59.73 68.29 L59.85 67.72 L59.96 67.19 L60.07 66.68 L60.19 66.20 L60.30 65.76 L60.41 65.33 L60.53 64.94 L60.64 64.57 L60.75 64.23 L60.87 63.91 L60.98 63.62 L61.09 63.35 L61.21 63.10 L61.32 62.87 L61.43 62.67 L61.55 62.48 L61.66 62.32 L61.77 62.17 L61.89 62.05 L62.00 61.94 L62.11 61.85 L62.22 61.77 L62.34 61.72 L62.45 61.68 L62.56 61.65 L62.68 61.64 L62.79 61.65 L62.90 61.66 L63.02 61.70 L63.13 61.74 L63.24 61.80 L63.36 61.87 L63.47 61.96 L63.58 62.05 L63.70 62.16 L63.81 62.28 L63.92 62.41 L64.04 62.54 L64.15 62.69 L64.26 62.85 L64.38 63.02 L64.49 63.20 L64.60 63.38 L64.72 63.57 L64.83 63.78 L64.94 63.99 L65.06 64.20 L65.17 64.43 L65.28 64.66 L65.40 64.90 L65.51 65.14 L65.62 65.39 L65.74 65.65 L65.85 65.91 L65.96 66.18 L66.08 66.46 L66.19 66.74 L66.30 67.02 L66.42 67.31 L66.53 67.60 L66.64 67.90 L66.75 68.20 L66.87 68.51 L66.98 68.82 L67.09 69.14 L67.21 69.45 L67.32 69.77 L67.43 70.10 L67.55 70.43 L67.66 70.76 L67.77 71.09 L67.89 71.43 L68.00 71.77 L68.11 72.11 L68.23 72.46 L68.34 72.81 L68.45 73.15 L68.57 73.51 L68.68 73.86 L68.79 74.22 L68.91 74.58 L69.02 74.94 L69.13 75.30 L69.25 75.66 L69.36 76.03 L69.47 76.39 L69.59 76.76 L69.70 77.13 L69.81 77.50 L69.93 77.88 L70.04 78.25 L70.15 78.63 L70.27 79.01 L70.38 79.38 L70.49 79.76 L70.61 80.15 L70.72 80.53 L70.83 80.91 L70.95 81.30 L71.06 81.68 L71.17 82.07 L71.28 82.46 L71.40 82.85 L71.51 83.24 L71.62 83.63 L71.74 84.03 L71.85 84.42 L71.96 84.82 L72.08 85.22 L72.19 85.61 L72.30 86.01 L72.42 86.41 L72.53 86.82 L72.64 87.22 L72.76 87.63 L72.87 88.03 L72.98 88.44 L73.10 88.85 L73.21 89.26 L73.32 89.67 L73.44 90.08 L73.55 90.50 L73.66 90.92 L73.78 91.33 L73.89 91.75 L74.00 92.17 L74.12 92.60 L74.23 93.02 L74.34 93.44 L74.46 93.87 L74.57 94.30 L74.68 94.73 L74.80 95.16 L74.91 95.59 L75.02 96.03 L75.14 96.47 L75.25 96.90 L75.36 97.34 L75.48 97.79 L75.59 98.23 L75.70 98.67 L75.81 99.12 L75.93 99.57 L76.04 100.02 L76.15 100.47 L76.27 100.92 L76.38 101.38 L76.49 101.83 L76.61 102.29 L76.72 102.75 L76.83 103.21 L76.95 103.67 L77.06 104.13 L77.17 104.60 L77.29 105.07 L77.40 105.53 L77.51 106.00 L77.63 106.47 L77.74 106.94 L77.85 107.42 L77.97 107.89 L78.08 108.37 L78.19 108.84 L78.31 109.32 L78.42 109.80 L78.53 110.28 L78.65 110.76 L78.76 111.24 L78.87 111.72 L78.99 112.20 L79.10 112.69 L79.21 113.17 L79.33 113.65 L79.44 114.14 L79.55 114.62 L79.67 115.11 L79.78 115.60 L79.89 116.08 L80.01 116.57 L80.12 117.06 L80.23 117.54 L80.34 118.03 L80.46 118.52 L80.57 119.00 L80.68 119.49 L80.80 119.98 L80.91 120.46 L81.02 120.95 L81.14 121.44 L81.25 121.92 L81.36 122.41 L81.48 122.89 L81.59 123.37 L81.70 123.86 L81.82 124.34 L81.93 124.82 L82.04 125.30 L82.16 125.78 L82.27 126.26 L82.38 126.74 L82.50 127.22 L82.61 127.69 L82.72 128.17 L82.84 128.64 L82.95 129.11 L83.06 129.59 L83.18 130.06 L83.29 130.53 L83.40 130.99 L83.52 131.46 L83.63 131.93 L83.74 132.39 L83.86 132.85 L83.97 133.32 L84.08 133.78 L84.20 134.23 L84.31 134.69 L84.42 135.15 L84.54 135.60 L84.65 136.05 L84.76 136.50 L84.88 136.95 L84.99 137.40 L85.10 137.85 L85.21 138.29 L85.33 138.74 L85.44 139.18 L85.55 139.62 L85.67 140.06 L85.78 140.49 L85.89 140.93 L86.01 141.36 L86.12 141.79 L86.23 142.22 L86.35 142.65 L86.46 143.08 L86.57 143.51 L86.69 143.93 L86.80 144.35 L86.91 144.78 L87.03 145.20 L87.14 145.61 L87.25 146.03 L87.37 146.45 L87.48 146.86 L87.59 147.27 L87.71 147.68 L87.82 148.09 L87.93 148.50 L88.05 148.91 L88.16 149.31 L88.27 149.71 L88.39 150.12 L88.50 150.52 L88.61 150.92 L88.73 151.32 L88.84 151.71 L88.95 152.11 L89.07 152.50 L89.18 152.90 L89.29 153.29 L89.41 153.68 L89.52 154.07 L89.63 154.46 L89.74 154.84 L89.86 155.23 L89.97 155.61 L90.08 156.00 L90.20 156.38 L90.31 156.76 L90.42 157.14 L90.54 157.52 L90.65 157.90 L90.76 158.28 L90.88 158.65 L90.99 159.03 L91.10 159.40 L91.22 159.77 L91.33 160.15 L91.44 160.52 L91.56 160.89 L91.67 161.26 L91.78 161.62 L91.90 161.99 L92.01 162.36 L92.12 162.72 L92.24 163.09 L92.35 163.45 L92.46 163.81 L92.58 164.18 L92.69 164.54 L92.80 164.90 L92.92 165.26 L93.03 165.61 L93.14 165.97 L93.26 166.33 L93.37 166.68 L93.48 167.04 L93.60 167.39 L93.71 167.75 L93.82 168.10 L93.94 168.45 L94.05 168.80 L94.16 169.15 L94.27 169.50 L94.39 169.85 L94.50 170.20 L94.61 170.55 L94.73 170.89 L94.84 171.24 L94.95 171.58 L95.07 171.93 L95.18 172.27 L95.29 172.61 L95.41 172.95 L95.52 173.30 L95.63 173.64 L95.75 173.98 L95.86 174.32 L95.97 174.65 L96.09 174.99 L96.20 175.33 L96.78 177.05 L97.37 178.76 L97.95 180.45 L98.53 182.12 L99.12 183.78 L99.70 185.42 L100.28 187.04 L100.87 188.64 L101.45 190.23 L102.03 191.80 L102.62 193.35 L103.20 194.89 L103.78 196.42 L104.37 197.92 L104.95 199.41 L105.53 200.89 L106.12 202.35 L106.70 203.80 L107.28 205.23 L107.87 206.65 L108.45 208.05 L109.03 209.43 L109.62 210.81 L110.20 212.16 L110.78 213.51 L111.36 214.84 L111.95 216.15 L112.53 217.46 L113.11 218.74 L113.70 220.02 L114.28 221.28 L114.86 222.53 L115.45 223.76 L116.03 224.99 L116.61 226.20 L117.20 227.39 L117.78 228.58 L118.36 229.75 L118.95 230.91 L119.53 232.06 L120.11 233.19 L120.70 234.31 L121.28 235.42 L121.86 236.52 L122.45 237.61 L123.03 238.69 L123.61 239.75 L124.20 240.81 L124.78 241.85 L125.36 242.88 L125.95 243.90 L126.53 244.91 L127.11 245.91 L127.70 246.89 L128.28 247.87 L128.86 248.84 L129.45 249.79 L130.03 250.74 L130.61 251.67 L131.20 252.60 L131.78 253.52 L132.36 254.42 L132.95 255.32 L133.53 256.20 L134.11 257.08 L134.70 257.95 L135.28 258.81 L135.86 259.65 L136.45 260.49 L137.03 261.32 L137.61 262.14 L138.19 262.96 L138.78 263.76 L139.36 264.55 L139.94 265.34 L140.53 266.12 L141.11 266.88 L141.69 267.64 L142.28 268.39 L142.86 269.14 L143.44 269.87 L144.03 270.60 L144.61 271.32 L145.19 272.03 L145.78 272.73 L146.36 273.43 L146.94 274.11 L147.53 274.79 L148.11 275.47 L148.69 276.13 L149.28 276.79 L149.86 277.44 L150.44 278.08 L151.03 278.71 L151.61 279.34 L152.19 279.96 L152.78 280.58 L153.36 281.18 L153.94 281.78 L154.53 282.37 L155.11 282.96 L155.69 283.54 L156.28 284.11 L156.86 284.68 L157.44 285.24 L158.03 285.79 L158.61 286.34 L159.19 286.88 L159.78 287.41 L160.36 287.94 L160.94 288.46 L161.53 288.98 L162.11 289.49 L162.69 289.99 L163.28 290.49 L163.86 290.99 L164.44 291.47 L165.02 291.95 L165.61 292.43 L166.19 292.90 L166.77 293.36 L167.36 293.82 L167.94 294.27 L168.52 294.72 L169.11 295.16 L169.69 295.60 L170.27 296.03 L170.86 296.46 L171.44 296.88 L172.02 297.30 L172.61 297.71 L173.19 298.12 L173.77 298.52 L174.36 298.92 L174.94 299.31 L175.52 299.70 L176.11 300.08 L176.69 300.46 L177.27 300.84 L177.86 301.21 L178.44 301.57 L179.02 301.93 L179.61 302.29 L180.19 302.64 L180.77 302.99 L181.36 303.33 L181.94 303.67 L182.52 304.01 L183.11 304.34 L183.69 304.67 L184.27 304.99 L184.86 305.31 L185.44 305.63 L186.02 305.94 L186.61 306.25 L187.19 306.55 L187.77 306.85 L188.36 307.15 L188.94 307.44 L189.52 307.73 L190.11 308.02 L190.69 308.30 L191.27 308.58 L191.85 308.85 L192.44 309.13 L193.02 309.40 L193.60 309.66 L194.19 309.92 L194.77 310.18 L195.35 310.44 L195.94 310.69 L196.52 310.94 L197.10 311.19 L197.69 311.43 L198.27 311.67 L198.85 311.91 L199.44 312.15 L200.02 312.38 L200.60 312.61 L201.19 312.84 L201.77 313.06 L202.35 313.28 L202.94 313.50 L203.52 313.72 L204.10 313.93 L204.69 314.14 L205.27 314.35 L205.85 314.56 L206.44 314.76 L207.02 314.96 L207.60 315.16 L208.19 315.36 L208.77 315.55 L209.35 315.74 L209.94 315.93 L210.52 316.12 L211.10 316.30 L211.69 316.49 L212.27 316.67 L212.85 316.85 L213.44 317.02 L214.02 317.20 L214.60 317.37 L215.19 317.54 L215.77 317.71 L216.35 317.87 L216.94 318.04 L217.52 318.20 L218.10 318.36 L218.68 318.52 L219.27 318.68 L219.85 318.83 L220.43 318.98 L221.02 319.14 L221.60 319.29 L222.18 319.43 L222.77 319.58 L223.35 319.72 L223.93 319.87 L224.52 320.01 L225.10 320.15 L225.68 320.29 L226.27 320.42 L226.85 320.56 L227.43 320.69 L228.02 320.82 L228.60 320.95 L229.18 321.08 L229.77 321.21 L230.35 321.33 L230.93 321.46 L231.52 321.58 L232.10 321.70 L232.68 321.82 L233.27 321.94 L233.85 322.06 L234.43 322.17 L235.02 322.29 L235.60 322.40 L236.18 322.51 L236.77 322.63 L237.35 322.74 L237.93 322.84 L238.52 322.95 L239.10 323.06 L239.68 323.16 L240.27 323.26 L240.85 323.37 L241.43 323.47 L242.02 323.57 L242.60 323.67 L243.18 323.76 L243.77 323.86 L244.35 323.95 L244.93 324.05 L245.52 324.14 L246.10 324.23 L246.68 324.33 L247.26 324.42 L247.85 324.50 L248.43 324.59 L249.01 324.68 L249.60 324.77 L250.18 324.85 L250.76 324.93 L251.35 325.02 L251.93 325.10 L252.51 325.18 L253.10 325.26 L253.68 325.34 L254.26 325.42 L254.85 325.50 L255.43 325.57 L256.01 325.65 L256.60 325.72 L257.18 325.80 L257.76 325.87 L258.35 325.94 L258.93 326.01 L259.51 326.08 L260.10 326.15 L260.68 326.22 L261.26 326.29 L261.85 326.36 L262.43 326.42 L263.01 326.49 L263.60 326.55 L264.18 326.62 L264.76 326.68 L265.35 326.74 L265.93 326.81 L266.51 326.87 L267.10 326.93 L267.68 326.99 L268.26 327.05 L268.85 327.10 L269.43 327.16 L270.01 327.22 L270.60 327.28 L271.18 327.33 L271.76 327.39 L272.35 327.44 L272.93 327.49 L273.51 327.55 L274.09 327.60 L274.68 327.65 L275.26 327.70 L275.84 327.75 L276.43 327.80 L277.01 327.85 L277.59 327.90 L278.18 327.95 L278.76 328.00 L279.34 328.04 L279.93 328.09 L280.51 328.14 L281.09 328.18 L281.68 328.23 L282.26 328.27 L282.84 328.31 L283.43 328.36 L284.01 328.40 L284.59 328.44 L285.18 328.48 L285.76 328.53 L286.34 328.57 L286.93 328.61 L287.51 328.65 L288.09 328.69 L288.68 328.72 L289.26 328.76 L289.84 328.80 L290.43 328.84 L291.01 328.87 L291.59 328.91 L292.18 328.95 L292.76 328.98 L293.34 329.02 L293.93 329.05 L294.51 329.09 L295.09 329.12 L295.68 329.15 L296.26 329.19 L296.84 329.22 L297.43 329.25 L298.01 329.28 L298.59 329.31 L299.18 329.35 L299.76 329.38 L300.34 329.41 L300.92 329.44 L301.51 329.47 L302.09 329.49 L302.67 329.52 L303.26 329.55 L303.84 329.58 L304.42 329.61 L305.01 329.63 L305.59 329.66 L306.17 329.69 L306.76 329.71 L307.34 329.74 L307.92 329.77 L308.51 329.79 L309.09 329.82 L309.67 329.84 L310.26 329.87 L310.84 329.89 L311.42 329.91 L312.01 329.94 L312.59 329.96 L313.17 329.98 L313.76 330.01 L314.34 330.03 L314.92 330.05 L315.51 330.07 L316.09 330.09 L316.67 330.12 L317.26 330.14 L317.84 330.16 L318.42 330.18 L319.01 330.20 L319.59 330.22 L320.17 330.24 L320.76 330.26 L321.34 330.28 L321.92 330.30 L322.51 330.31 L323.09 330.33 L323.67 330.35 L324.26 330.37 L324.84 330.39 L325.42 330.41 L326.01 330.43 L326.59 330.44 L327.17 330.46 L327.75 330.48 L328.34 330.50 L328.92 330.51 L329.50 330.53 L330.09 330.55 L330.67 330.56 L331.25 330.58 L331.84 330.60 L332.42 330.61 L333.00 330.63 L333.59 330.64 L334.17 330.66 L334.75 330.67 L335.34 330.69 L335.92 330.70 L336.50 330.72 L337.09 330.73 L337.67 330.75 L338.25 330.76 L338.84 330.77 L339.42 330.79 L340.00 330.80 L340.59 330.82 L341.17 330.83 L341.75 330.84 L342.34 330.85 L342.92 330.87 L343.50 330.88 L344.09 330.89 L344.67 330.90 L345.25 330.92 L345.84 330.93 L346.42 330.94 L347.00 330.95 L347.59 330.96 L348.17 330.98 L348.75 330.99 L349.34 331.00 L349.92 331.01 L350.50 331.02 L351.09 331.03 L351.67 331.04 L352.25 331.05 L352.84 331.06 L353.42 331.07 L354.00 331.08 L354.58 331.09 L355.17 331.10 L355.75 331.11 L356.33 331.12 L356.92 331.13 L357.50 331.14 L358.08 331.15 L358.67 331.16 L359.25 331.17 L359.83 331.18 L360.42 331.19 L361.00 331.19 L361.58 331.20 L362.17 331.21 L362.75 331.22 L363.33 331.23 L363.92 331.24 L364.50 331.24 L365.08 331.25 L365.67 331.26 L366.25 331.27 L366.83 331.27 L367.42 331.28 L368.00 331.29 L368.58 331.30 L369.17 331.30 L369.75 331.31 L370.33 331.32 L370.92 331.33 L371.50 331.33 L372.08 331.34 L372.67 331.35 L373.25 331.35 L373.83 331.36 L374.42 331.37 L375.00 331.37 L375.58 331.38 L376.17 331.39 L376.75 331.39 L377.33 331.40 L377.92 331.40 L378.50 331.41 L379.08 331.42 L379.67 331.42 L380.25 331.43 L380.83 331.43 L381.42 331.44 L382.00 331.44 L382.58 331.45 L383.16 331.46 L383.75 331.46 L384.33 331.47 L384.91 331.47 L385.50 331.48 L386.08 331.48 L386.66 331.49 L387.25 331.49 L387.83 331.50 L388.41 331.50 L389.00 331.51 L389.58 331.51 L390.16 331.52 L390.75 331.52 L391.33 331.52 L391.91 331.53 L392.50 331.53 L393.08 331.54 L393.66 331.54 L394.25 331.55 L394.83 331.55 L395.41 331.56 L396.00 331.56 L396.58 331.56 L397.16 331.57 L397.75 331.57 L398.33 331.58 L398.91 331.58 L399.50 331.58 L400.08 331.59 L400.66 331.59 L401.25 331.59 L401.83 331.60 L402.41 331.60 L403.00 331.60 L403.58 331.61 L404.16 331.61 L404.75 331.62 L405.33 331.62 L405.91 331.62 L406.50 331.63 L407.08 331.63 L407.66 331.63 L408.25 331.63 L408.83 331.64 L409.41 331.64 L409.99 331.64 L410.58 331.65 L411.16 331.65 L411.74 331.65 L412.33 331.66 L412.91 331.66 L413.49 331.66 L414.08 331.66 L414.66 331.67 L415.24 331.67 L415.83 331.67 L416.41 331.68 L416.99 331.68 L417.58 331.68 L418.16 331.68 L418.74 331.69 L419.33 331.69 L419.91 331.69 L420.49 331.69 L421.08 331.70 L421.66 331.70 L422.24 331.70 L422.83 331.70 L423.41 331.70 L423.99 331.71 L424.58 331.71 L425.16 331.71 L425.74 331.71 L426.33 331.72 L426.91 331.72 L427.49 331.72 L428.08 331.72 L428.66 331.72 L429.24 331.73 L429.83 331.73 L430.41 331.73 L430.99 331.73 L431.58 331.73 L432.16 331.74 L432.74 331.74 L433.33 331.74 L433.91 331.74 L434.49 331.74 L435.08 331.75 L435.66 331.75 L436.24 331.75 L436.82 331.75 L437.41 331.75 L437.99 331.75 L438.57 331.76 L439.16 331.76 L439.74 331.76 L440.32 331.76 L440.91 331.76 L441.49 331.76 L442.07 331.76 L442.66 331.77 L443.24 331.77 L443.82 331.77 L444.41 331.77 L444.99 331.77 L445.57 331.77 L446.16 331.78 L446.74 331.78 L447.32 331.78 L447.91 331.78 L448.49 331.78 L449.07 331.78 L449.66 331.78 L450.24 331.78 L450.82 331.79 L451.41 331.79 L451.99 331.79 L452.57 331.79 L453.16 331.79 L453.74 331.79 L454.32 331.79 L454.91 331.79 L455.49 331.80 L456.07 331.80 L456.66 331.80 L457.24 331.80 L457.82 331.80 L458.41 331.80 L458.99 331.80 L459.57 331.80 L460.16 331.80 L460.74 331.80 L461.32 331.81 L461.91 331.81 L462.49 331.81 L463.07 331.81 L463.65 331.81 L464.24 331.81 L464.82 331.81 L465.40 331.81 L465.99 331.81 L466.57 331.81 L467.15 331.82 L467.74 331.82 L468.32 331.82 L468.90 331.82 L469.49 331.82 L470.07 331.82 L470.65 331.82 L471.24 331.82 L471.82 331.82 L472.40 331.82 L472.99 331.82 L473.57 331.82 L474.15 331.83 L474.74 331.83 L475.32 331.83 L475.90 331.83 L476.49 331.83 L477.07 331.83 L477.65 331.83 L478.24 331.83 L478.82 331.83 L479.40 331.83 L479.99 331.83 L480.57 331.83 L481.15 331.83 L481.74 331.83 L482.32 331.84 L482.90 331.84 L483.49 331.84 L484.07 331.84 L484.65 331.84 L485.24 331.84 L485.82 331.84 L486.40 331.84 L486.99 331.84 L487.57 331.84 L488.15 331.84 L488.74 331.84 L489.32 331.84 L489.90 331.84 L490.48 331.84 L491.07 331.84 L491.65 331.84 L492.23 331.84 L492.82 331.85 L493.40 331.85 L493.98 331.85 L494.57 331.85 L495.15 331.85 L495.73 331.85 L496.32 331.85 L496.90 331.85 L497.48 331.85 L498.07 331.85 L498.65 331.85 L499.23 331.85 L499.82 331.85 L500.40 331.85 L500.98 331.85 L501.57 331.85 L502.15 331.85 L502.73 331.85 L503.32 331.85 L503.90 331.85" stroke="#ff00ff"/>
</g>
<g font-size="11.6" fill="#161616" stroke="#161616" stroke-width="0.12">
<text x="50.90" y="365.6" text-anchor="middle">0</text>
<text x="96.20" y="365.6" text-anchor="middle">0.01</text>
<text x="141.50" y="365.6" text-anchor="middle">0.02</text>
<text x="186.80" y="365.6" text-anchor="middle">0.03</text>
<text x="232.10" y="365.6" text-anchor="middle">0.04</text>
<text x="277.40" y="365.6" text-anchor="middle">0.05</text>
<text x="322.70" y="365.6" text-anchor="middle">0.06</text>
<text x="368.00" y="365.6" text-anchor="middle">0.07</text>
<text x="413.30" y="365.6" text-anchor="middle">0.08</text>
<text x="458.60" y="365.6" text-anchor="middle">0.09</text>
<text x="503.90" y="365.6" text-anchor="middle">0.1</text>
<text x="45.3" y="352.80" text-anchor="end">0</text>
<text x="45.3" y="319.07" text-anchor="end">50</text>
<text x="45.3" y="285.34" text-anchor="end">100</text>
<text x="45.3" y="251.61" text-anchor="end">150</text>
<text x="45.3" y="217.88" text-anchor="end">200</text>
<text x="45.3" y="184.15" text-anchor="end">250</text>
<text x="45.3" y="150.42" text-anchor="end">300</text>
<text x="45.3" y="116.69" text-anchor="end">350</text>
<text x="45.3" y="82.96" text-anchor="end">400</text>
<text x="45.3" y="49.23" text-anchor="end">450</text>
<text x="45.3" y="15.50" text-anchor="end">500</text>
<text x="508.8" y="353.10">0</text>
<text x="508.8" y="285.50">0.5</text>
<text x="508.8" y="217.90">1</text>
<text x="508.8" y="150.30">1.5</text>
<text x="508.8" y="82.70">2</text>
<text x="508.8" y="15.10">2.5</text>
</g>
<g font-size="12.5" fill="#161616" stroke="#161616" stroke-width="0.12">
<text x="277.4" y="382.0" text-anchor="middle">t [s]</text>
<text transform="translate(19.0 180.3) rotate(-90)" text-anchor="middle" font-size="13">ω [rad/s]</text>
<text transform="translate(542.3 179.5) rotate(-90)" text-anchor="middle">I [A]</text>
</g>
<rect x="358.1" y="77.6" width="100.3" height="61.6" fill="#fff" stroke="#262626" stroke-width="1"/>
<path d="M361.6 86.0 H397.6" stroke="#ff0000" stroke-width="1.45"/>
<text x="400.8" y="90.7" font-size="10.7" fill="#111" stroke="#111" stroke-width="0.25">REAL</text>
<path d="M361.6 100.7 H397.6" stroke="#000000" stroke-width="1.45"/>
<text x="400.8" y="105.4" font-size="10.7" fill="#111" stroke="#111" stroke-width="0.25">FACTOR</text>
<path d="M361.6 115.4 H397.6" stroke="#0000ff" stroke-width="1.45"/>
<text x="400.8" y="120.1" font-size="10.7" fill="#111" stroke="#111" stroke-width="0.25">CPM</text>
<path d="M361.6 130.1 H397.6" stroke="#ff00ff" stroke-width="1.45"/>
<text x="400.8" y="134.8" font-size="10.7" fill="#111" stroke="#111" stroke-width="0.25">CPM-GWO</text>
</svg>
</body></html>
